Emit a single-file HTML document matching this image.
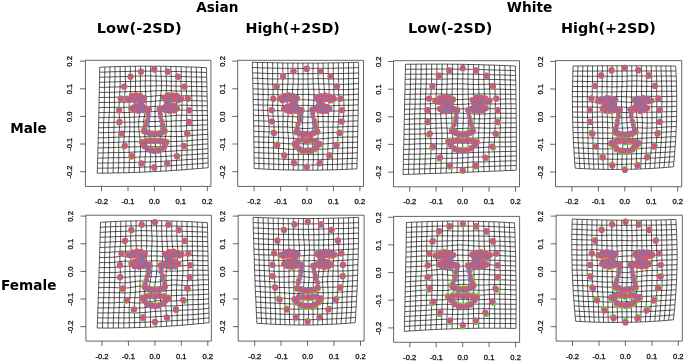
<!DOCTYPE html>
<html lang="en"><head><meta charset="utf-8"><title>Face shape TPS grids</title>
<style>html,body{margin:0;padding:0;background:#fff}svg{display:block}</style></head>
<body>
<svg width="685" height="362" viewBox="0 0 685 362">
<rect width="685" height="362" fill="#fff"/>
<text x="196.2" y="12.4" textLength="42.3" lengthAdjust="spacingAndGlyphs" font-family="'DejaVu Sans','Liberation Sans',sans-serif" font-weight="bold" font-size="14" fill="#000">Asian</text>
<text x="506.7" y="12.4" textLength="45.7" lengthAdjust="spacingAndGlyphs" font-family="'DejaVu Sans','Liberation Sans',sans-serif" font-weight="bold" font-size="14" fill="#000">White</text>
<text x="96.8" y="33" textLength="84.8" lengthAdjust="spacingAndGlyphs" font-family="'DejaVu Sans','Liberation Sans',sans-serif" font-weight="bold" font-size="14" fill="#000">Low(-2SD)</text>
<text x="245.5" y="33" textLength="94.3" lengthAdjust="spacingAndGlyphs" font-family="'DejaVu Sans','Liberation Sans',sans-serif" font-weight="bold" font-size="14" fill="#000">High(+2SD)</text>
<text x="408.1" y="33" textLength="84.3" lengthAdjust="spacingAndGlyphs" font-family="'DejaVu Sans','Liberation Sans',sans-serif" font-weight="bold" font-size="14" fill="#000">Low(-2SD)</text>
<text x="561.1" y="33" textLength="94.7" lengthAdjust="spacingAndGlyphs" font-family="'DejaVu Sans','Liberation Sans',sans-serif" font-weight="bold" font-size="14" fill="#000">High(+2SD)</text>
<text x="10.2" y="132.5" textLength="36.5" lengthAdjust="spacingAndGlyphs" font-family="'DejaVu Sans','Liberation Sans',sans-serif" font-weight="bold" font-size="14" fill="#000">Male</text>
<text x="1" y="290.4" textLength="55.4" lengthAdjust="spacingAndGlyphs" font-family="'DejaVu Sans','Liberation Sans',sans-serif" font-weight="bold" font-size="14" fill="#000">Female</text>
<g>
<path d="M99.8 67.2L99.7 72L99.6 76.8L99.5 81.7L99.4 86.5L99.3 91.3L99.2 96.1L99.1 100.9L99 105.7L98.9 110.6L98.8 115.4L98.7 120.2L98.6 125L98.5 129.8L98.3 134.7L98.2 139.5L98.1 144.3L97.9 149.1L97.8 153.9L97.6 158.7L97.5 163.6L97.4 168.4L97.2 173.2M104.9 67L104.8 71.8L104.7 76.7L104.6 81.5L104.5 86.4L104.4 91.2L104.4 96L104.4 100.8L104.3 105.6L104.2 110.4L104 115.2L103.8 120.1L103.6 124.9L103.5 129.7L103.5 134.5L103.5 139.4L103.4 144.2L103.3 149L103.1 153.8L102.9 158.7L102.7 163.5L102.6 168.3L102.5 173.2M110 66.8L109.9 71.6L109.8 76.5L109.7 81.3L109.6 86.2L109.5 91.1L109.5 96L109.5 100.8L109.5 105.6L109.4 110.3L109.1 115.1L108.9 119.9L108.7 124.7L108.6 129.6L108.7 134.4L108.7 139.2L108.7 144L108.6 148.8L108.4 153.7L108.2 158.5L108 163.4L107.9 168.3L107.8 173.1M115 66.7L115 71.5L115 76.3L114.9 81.2L114.8 86.1L114.6 91L114.5 95.9L114.5 100.7L114.4 105.5L114.4 110.3L114.3 115.1L114.1 119.8L114 124.6L113.9 129.4L113.9 134.2L113.8 139L113.8 143.8L113.7 148.7L113.6 153.6L113.4 158.5L113.3 163.3L113.2 168.2L113.1 173M120.1 66.5L120.1 71.3L120.2 76.2L120.2 81L120.1 85.9L119.9 90.8L119.6 95.7L119.3 100.6L119.1 105.5L119.2 110.4L119.3 115.2L119.5 119.8L119.5 124.5L119.4 129.1L119.2 133.9L118.9 138.7L118.7 143.6L118.7 148.6L118.7 153.5L118.7 158.4L118.7 163.3L118.5 168.1L118.3 172.9M125.2 66.4L125.2 71.2L125.3 76L125.5 80.9L125.5 85.7L125.2 90.6L124.7 95.5L124.2 100.5L123.9 105.5L124 110.4L124.3 115.2L124.7 119.9L124.9 124.4L124.8 128.9L124.4 133.6L124 138.4L123.7 143.4L123.7 148.4L123.9 153.4L124.1 158.3L124.1 163.2L123.9 168L123.6 172.8M130.3 66.3L130.3 71.1L130.4 75.9L130.6 80.7L130.6 85.6L130.4 90.5L130 95.4L129.5 100.4L129.2 105.4L129.1 110.4L129.3 115.1L129.6 119.8L129.8 124.3L129.8 128.8L129.5 133.5L129.2 138.3L129 143.2L129.1 148.3L129.2 153.3L129.4 158.2L129.3 163.1L129.2 167.9L128.9 172.6M135.4 66.3L135.4 71L135.5 75.7L135.5 80.5L135.5 85.5L135.4 90.4L135.3 95.4L135.1 100.4L134.9 105.3L134.6 110.1L134.4 114.9L134.3 119.6L134.3 124.2L134.3 128.9L134.4 133.5L134.6 138.3L134.7 143.1L134.7 148L134.7 153L134.7 158L134.5 162.9L134.4 167.7L134.2 172.5M140.4 66.2L140.5 70.9L140.5 75.6L140.4 80.4L140.3 85.3L140.4 90.4L140.6 95.4L140.7 100.3L140.6 105.1L140.2 109.8L139.5 114.5L138.9 119.3L138.6 124.1L138.8 128.9L139.3 133.7L140 138.4L140.4 143.1L140.5 147.9L140.3 152.8L139.9 157.8L139.7 162.7L139.6 167.6L139.5 172.3M145.5 66.2L145.6 70.8L145.6 75.5L145.4 80.3L145.3 85.2L145.5 90.3L145.8 95.3L146.1 100.2L146 104.9L145.5 109.6L144.7 114.3L143.9 119.1L143.5 124L143.7 128.9L144.4 133.7L145.2 138.4L145.8 143L145.9 147.8L145.6 152.6L145.2 157.6L144.9 162.5L144.8 167.4L144.8 172.1M150.6 66.2L150.7 70.9L150.7 75.5L150.7 80.3L150.7 85.1L150.7 90L150.9 94.9L151 99.9L150.8 104.7L150.4 109.5L149.8 114.3L149.3 119L149 123.8L149.2 128.7L149.7 133.5L150.3 138.3L150.7 143L150.9 147.8L150.7 152.6L150.5 157.5L150.3 162.3L150.1 167.1L150.1 171.8M155.7 66.2L155.8 71L155.9 75.7L156.1 80.3L156.2 85L156.1 89.7L155.9 94.5L155.6 99.4L155.3 104.5L155.1 109.5L155 114.3L155 119.1L155.1 123.7L155.2 128.4L155.2 133.2L155.3 138.1L155.4 143L155.6 147.9L155.7 152.7L155.7 157.4L155.7 162.1L155.5 166.8L155.3 171.6M160.8 66.3L160.8 71.1L161.1 75.8L161.4 80.4L161.5 84.9L161.4 89.5L160.9 94.2L160.3 99.1L159.9 104.2L159.9 109.3L160.3 114.3L160.7 119L161.1 123.7L161 128.3L160.7 133L160.3 137.9L160.2 142.9L160.3 147.9L160.7 152.7L161 157.3L161 161.9L160.9 166.5L160.6 171.3M165.9 66.3L165.9 71.1L166.2 75.9L166.4 80.5L166.6 85L166.4 89.5L165.9 94.1L165.4 98.9L165.1 103.8L165.2 108.9L165.6 113.9L166.1 118.8L166.4 123.6L166.4 128.3L166 133.1L165.6 138L165.4 142.9L165.5 147.7L165.8 152.4L166.1 157L166.3 161.6L166.1 166.2L165.9 171M170.9 66.4L171 71.2L171.2 75.9L171.3 80.6L171.3 85.2L171.2 89.7L171.1 94.2L170.9 98.9L170.8 103.6L170.8 108.4L171 113.4L171.2 118.4L171.3 123.5L171.3 128.4L171.2 133.3L171 138.1L171 142.8L171 147.5L171.2 152.1L171.3 156.6L171.4 161.2L171.3 165.9L171.2 170.6M176 66.5L176.1 71.3L176.2 76L176.1 80.6L176.1 85.3L176.1 89.9L176.3 94.4L176.4 98.9L176.5 103.4L176.5 108.1L176.4 113L176.2 118.1L176.1 123.3L176.1 128.5L176.3 133.4L176.5 138.2L176.6 142.7L176.6 147.2L176.6 151.7L176.5 156.2L176.5 160.9L176.5 165.6L176.5 170.3M181.1 66.7L181.2 71.4L181.2 76.1L181.1 80.7L181 85.4L181.2 90L181.5 94.5L181.8 99L182 103.4L182 108L181.7 112.8L181.3 117.9L181.1 123.1L181.2 128.3L181.5 133.3L181.8 138L182.1 142.5L182 146.9L181.9 151.3L181.7 155.9L181.6 160.5L181.7 165.2L181.8 169.9M186.2 66.8L186.2 71.6L186.2 76.2L186.2 80.9L186.2 85.5L186.4 90L186.6 94.5L186.9 99L187.1 103.6L187 108.2L186.9 112.9L186.7 117.9L186.5 122.9L186.6 127.9L186.8 132.8L187.1 137.6L187.2 142.1L187.2 146.6L187.1 151L187 155.6L186.9 160.1L187 164.8L187.1 169.5M191.3 67L191.3 71.7L191.3 76.4L191.4 81L191.5 85.5L191.6 90L191.7 94.5L191.9 99.1L191.9 103.7L192 108.4L192 113.2L192.1 117.9L192.1 122.7L192.1 127.5L192.2 132.3L192.2 137L192.2 141.7L192.2 146.2L192.2 150.8L192.2 155.3L192.2 159.8L192.3 164.4L192.3 169.1M196.3 67.2L196.4 71.9L196.4 76.5L196.6 81.1L196.7 85.6L196.8 90.1L196.8 94.6L196.9 99.2L196.9 103.9L197 108.6L197.2 113.3L197.3 117.9L197.5 122.6L197.5 127.2L197.4 131.9L197.4 136.6L197.3 141.2L197.4 145.8L197.4 150.4L197.5 154.9L197.5 159.4L197.6 164L197.6 168.7M201.4 67.4L201.5 72.1L201.6 76.6L201.7 81.2L201.8 85.8L201.9 90.3L201.9 94.8L202 99.4L202.1 104L202.2 108.6L202.3 113.2L202.5 117.8L202.6 122.4L202.6 127L202.6 131.6L202.6 136.2L202.6 140.8L202.6 145.4L202.7 149.9L202.8 154.5L202.8 159L202.9 163.6L202.9 168.2M206.5 67.7L206.6 72.2L206.7 76.8L206.8 81.3L206.9 85.9L207 90.4L207.1 95L207.2 99.5L207.3 104.1L207.3 108.6L207.4 113.2L207.5 117.7L207.6 122.2L207.6 126.8L207.7 131.3L207.8 135.9L207.9 140.4L207.9 145L208 149.5L208 154.1L208.1 158.6L208.1 163.2L208.2 167.7M99.8 67.2L104.6 67L109.5 66.8L114.3 66.7L119.2 66.5L124.1 66.4L128.9 66.3L133.8 66.3L138.6 66.2L143.4 66.2L148.3 66.2L153.2 66.2L158 66.2L162.8 66.3L167.7 66.4L172.6 66.5L177.4 66.6L182.2 66.7L187.1 66.9L191.9 67L196.8 67.2L201.7 67.5L206.5 67.7M99.7 72.2L104.6 72.1L109.5 71.9L114.3 71.7L119.2 71.6L124.1 71.5L128.9 71.4L133.8 71.2L138.7 71.1L143.6 71.1L148.4 71.1L153.2 71.1L158.1 71.2L162.9 71.3L167.8 71.4L172.7 71.5L177.5 71.5L182.3 71.7L187.1 71.8L192 72L196.8 72.1L201.7 72.3L206.6 72.5M99.6 77.3L104.5 77.1L109.4 77L114.3 76.8L119.2 76.7L124.2 76.5L129.1 76.4L133.9 76.2L138.7 76.1L143.5 76L148.4 75.9L153.3 76L158.3 76.2L163.2 76.3L168 76.3L172.8 76.4L177.5 76.4L182.3 76.6L187.1 76.7L192 76.9L196.9 77L201.8 77.1L206.7 77.2M99.5 82.3L104.4 82.2L109.2 82L114.2 81.9L119.2 81.7L124.3 81.6L129.2 81.5L133.9 81.3L138.6 81.1L143.3 81L148.2 80.9L153.4 80.9L158.5 81L163.5 81.1L168.2 81.2L172.8 81.3L177.5 81.3L182.2 81.4L187.1 81.6L192.1 81.7L197 81.8L201.9 81.9L206.8 82M99.4 87.4L104.3 87.3L109.1 87.2L114 87L119.1 86.9L124.2 86.7L129.2 86.5L133.9 86.4L138.5 86.3L143.2 86.2L148.2 86.1L153.4 85.9L158.6 85.8L163.6 85.8L168.3 85.9L172.8 86.1L177.4 86.2L182.2 86.3L187.2 86.3L192.2 86.4L197.2 86.5L202 86.6L206.9 86.7M99.3 92.4L104.2 92.4L109 92.3L113.9 92.2L118.9 92L123.9 91.8L128.9 91.6L133.8 91.6L138.6 91.6L143.4 91.5L148.4 91.3L153.4 91L158.4 90.7L163.3 90.6L168.1 90.6L172.8 90.8L177.5 91L182.4 91.1L187.4 91.1L192.4 91.1L197.3 91.2L202.1 91.4L207 91.5M99.2 97.5L104.2 97.4L109 97.4L113.8 97.3L118.6 97.1L123.4 97L128.4 96.8L133.5 96.8L138.7 96.8L143.8 96.8L148.7 96.5L153.4 96.1L158 95.7L162.8 95.5L167.7 95.5L172.7 95.6L177.7 95.8L182.7 95.8L187.6 95.8L192.5 95.8L197.3 95.9L202.2 96.1L207.1 96.3M99.1 102.5L104.1 102.4L109.1 102.4L113.8 102.4L118.4 102.3L123 102.2L127.9 102.1L133.2 102L138.7 102L144 101.9L148.8 101.6L153.2 101.3L157.6 100.9L162.2 100.6L167.3 100.5L172.6 100.4L178 100.4L183.1 100.5L187.9 100.5L192.6 100.6L197.4 100.8L202.3 100.9L207.2 101M99 107.6L104 107.5L109 107.4L113.8 107.4L118.3 107.4L122.8 107.4L127.6 107.3L132.9 107.2L138.4 107L143.8 106.8L148.6 106.6L153 106.5L157.3 106.3L161.9 106L167.1 105.6L172.6 105.3L178.1 105.2L183.2 105.2L188 105.3L192.6 105.5L197.4 105.7L202.3 105.7L207.3 105.8M98.9 112.6L103.8 112.5L108.8 112.4L113.6 112.4L118.3 112.4L123 112.5L127.8 112.5L132.8 112.2L138 111.9L143.1 111.6L147.9 111.5L152.6 111.6L157.3 111.5L162.2 111.3L167.3 110.9L172.7 110.4L178 110.1L183 110.1L187.9 110.2L192.7 110.5L197.6 110.6L202.5 110.6L207.4 110.6M98.8 117.7L103.7 117.5L108.6 117.4L113.5 117.3L118.5 117.4L123.4 117.5L128.1 117.4L132.8 117.2L137.4 116.9L142.2 116.6L147.1 116.5L152.3 116.6L157.5 116.6L162.7 116.5L167.8 116.1L172.8 115.7L177.7 115.3L182.7 115.2L187.7 115.3L192.8 115.4L197.7 115.5L202.6 115.4L207.5 115.3M98.6 122.7L103.5 122.6L108.3 122.5L113.3 122.3L118.5 122.3L123.7 122.2L128.5 122.2L132.9 122.1L137 121.9L141.5 121.7L146.5 121.6L152.1 121.5L157.8 121.5L163.2 121.4L168.2 121.3L172.8 121L177.5 120.7L182.4 120.6L187.6 120.5L192.8 120.5L197.9 120.4L202.8 120.2L207.5 120.1M98.5 127.8L103.3 127.7L108.2 127.5L113.2 127.4L118.5 127.2L123.7 127L128.5 126.9L132.9 126.9L137 126.9L141.4 126.8L146.5 126.7L152.1 126.5L157.9 126.3L163.4 126.3L168.3 126.3L172.8 126.3L177.4 126.2L182.3 126L187.6 125.7L192.9 125.5L198 125.2L202.8 125L207.6 124.8M98.4 132.8L103.3 132.7L108.2 132.6L113.2 132.4L118.3 132.1L123.4 131.8L128.3 131.7L132.9 131.7L137.4 131.8L142 131.9L147 131.8L152.3 131.5L157.8 131.3L163.1 131.2L168 131.4L172.8 131.5L177.6 131.6L182.6 131.3L187.7 130.9L192.9 130.4L197.9 130.1L202.9 129.8L207.7 129.6M98.2 137.9L103.2 137.8L108.2 137.6L113.1 137.4L118 137.2L122.9 136.9L127.9 136.7L132.9 136.7L137.9 136.8L142.8 136.8L147.8 136.7L152.7 136.5L157.6 136.3L162.6 136.3L167.7 136.4L172.8 136.6L177.9 136.6L182.9 136.4L187.9 135.9L192.9 135.4L197.9 135L202.8 134.6L207.8 134.4M98.1 142.9L103.2 142.8L108.2 142.7L113.1 142.5L117.8 142.3L122.6 142L127.6 141.8L132.8 141.7L138.3 141.7L143.5 141.7L148.4 141.7L153 141.6L157.5 141.5L162.3 141.5L167.4 141.5L172.8 141.5L178.1 141.4L183.2 141.1L188.1 140.8L192.9 140.3L197.8 139.9L202.8 139.5L207.8 139.1M98 148L103 147.8L108.1 147.7L113 147.6L117.8 147.4L122.5 147.3L127.5 147.1L132.9 146.9L138.4 146.7L143.8 146.7L148.7 146.7L153.2 146.7L157.6 146.7L162.3 146.7L167.4 146.5L172.8 146.3L178.1 146L183.3 145.8L188.1 145.5L192.9 145.1L197.8 144.7L202.8 144.3L207.9 143.9M97.8 153L102.9 152.9L107.9 152.8L112.9 152.6L117.8 152.6L122.7 152.5L127.7 152.4L133 152.1L138.3 151.9L143.5 151.7L148.5 151.7L153.2 151.8L157.9 151.8L162.7 151.7L167.7 151.4L172.9 151.1L178.1 150.7L183.1 150.4L188 150.1L192.9 149.9L197.9 149.5L202.9 149.1L208 148.7M97.7 158.1L102.7 158L107.7 157.9L112.7 157.8L117.8 157.7L122.8 157.6L127.9 157.5L133 157.4L138 157.1L143.1 156.9L148.1 156.8L153.1 156.8L158.1 156.7L163.1 156.5L168 156.2L172.9 155.8L177.9 155.5L182.9 155.1L187.9 154.9L192.9 154.6L198 154.2L203 153.8L208 153.4M97.5 163.1L102.5 163L107.5 163L112.6 162.9L117.7 162.8L122.9 162.7L127.9 162.6L132.9 162.5L137.8 162.3L142.8 162.1L147.8 162L153 161.8L158.1 161.6L163.2 161.3L168.1 161L173 160.7L177.9 160.3L182.8 160L187.9 159.6L193 159.3L198 159L203.1 158.6L208.1 158.2M97.4 168.2L102.4 168.1L107.4 168.1L112.5 168L117.6 167.9L122.7 167.8L127.7 167.7L132.7 167.5L137.7 167.4L142.6 167.2L147.7 167L152.8 166.7L158 166.5L163 166.2L168 165.9L173 165.6L177.9 165.2L182.9 164.9L187.9 164.5L193 164.1L198.1 163.8L203.1 163.4L208.1 162.9M97.2 173.2L102.2 173.2L107.3 173.1L112.3 173L117.4 172.9L122.4 172.8L127.5 172.7L132.5 172.5L137.6 172.4L142.6 172.2L147.7 171.9L152.7 171.7L157.7 171.4L162.8 171.2L167.8 170.9L172.9 170.5L177.9 170.2L183 169.8L188 169.4L193.1 169L198.1 168.6L203.2 168.2L208.2 167.7" fill="none" stroke="#000" stroke-width="0.65"/>
<path d="M85.4 60.3H210.9V186.4H85.4ZM101.5 186.4v4.8M85.4 61.1h-5.4M128 186.4v4.8M85.4 88.8h-5.4M154.4 186.4v4.8M85.4 116.4h-5.4M180.8 186.4v4.8M85.4 144h-5.4M207.3 186.4v4.8M85.4 171.7h-5.4" fill="none" stroke="#333" stroke-width="0.75"/>
<text x="101.5" y="204" font-family="'Liberation Sans',sans-serif" font-size="7.6" fill="#111" stroke="#111" stroke-width="0.3" text-anchor="middle">-0.2</text>
<text transform="translate(72.4 61.4) rotate(-90)" font-family="'Liberation Sans',sans-serif" font-size="7.6" fill="#111" stroke="#111" stroke-width="0.3" text-anchor="middle">0.2</text>
<text x="128" y="204" font-family="'Liberation Sans',sans-serif" font-size="7.6" fill="#111" stroke="#111" stroke-width="0.3" text-anchor="middle">-0.1</text>
<text transform="translate(72.4 89) rotate(-90)" font-family="'Liberation Sans',sans-serif" font-size="7.6" fill="#111" stroke="#111" stroke-width="0.3" text-anchor="middle">0.1</text>
<text x="154.4" y="204" font-family="'Liberation Sans',sans-serif" font-size="7.6" fill="#111" stroke="#111" stroke-width="0.3" text-anchor="middle">0.0</text>
<text transform="translate(72.4 116.7) rotate(-90)" font-family="'Liberation Sans',sans-serif" font-size="7.6" fill="#111" stroke="#111" stroke-width="0.3" text-anchor="middle">0.0</text>
<text x="180.8" y="204" font-family="'Liberation Sans',sans-serif" font-size="7.6" fill="#111" stroke="#111" stroke-width="0.3" text-anchor="middle">0.1</text>
<text transform="translate(72.4 144.3) rotate(-90)" font-family="'Liberation Sans',sans-serif" font-size="7.6" fill="#111" stroke="#111" stroke-width="0.3" text-anchor="middle">-0.1</text>
<text x="207.3" y="204" font-family="'Liberation Sans',sans-serif" font-size="7.6" fill="#111" stroke="#111" stroke-width="0.3" text-anchor="middle">0.2</text>
<text transform="translate(72.4 172) rotate(-90)" font-family="'Liberation Sans',sans-serif" font-size="7.6" fill="#111" stroke="#111" stroke-width="0.3" text-anchor="middle">-0.2</text>
<g fill="#61D04F"><circle cx="154.3" cy="69.8" r="2.9"/><circle cx="140.9" cy="72.1" r="2.9"/><circle cx="167.7" cy="72.1" r="2.9"/><circle cx="130.4" cy="77.1" r="2.9"/><circle cx="178.2" cy="77.1" r="2.9"/><circle cx="123.9" cy="87" r="2.9"/><circle cx="184.7" cy="87" r="2.9"/><circle cx="120.6" cy="99" r="2.9"/><circle cx="188" cy="99" r="2.9"/><circle cx="119" cy="110.6" r="2.9"/><circle cx="189.6" cy="110.6" r="2.9"/><circle cx="119" cy="122.4" r="2.9"/><circle cx="189.6" cy="122.4" r="2.9"/><circle cx="120.7" cy="134.3" r="2.9"/><circle cx="187.9" cy="134.3" r="2.9"/><circle cx="124" cy="146.8" r="2.9"/><circle cx="184.6" cy="146.8" r="2.9"/><circle cx="131.2" cy="157" r="2.9"/><circle cx="177.4" cy="157" r="2.9"/><circle cx="141.2" cy="164.3" r="2.9"/><circle cx="167.4" cy="164.3" r="2.9"/><circle cx="154.3" cy="168.3" r="2.9"/><circle cx="126.9" cy="98.5" r="2.9"/><circle cx="181.5" cy="98.5" r="2.9"/><circle cx="131.6" cy="95.5" r="2.9"/><circle cx="176.9" cy="95.7" r="2.9"/><circle cx="136.2" cy="95.2" r="2.9"/><circle cx="173.2" cy="95.4" r="2.9"/><circle cx="139.8" cy="95.3" r="2.9"/><circle cx="167.8" cy="95" r="2.9"/><circle cx="144.1" cy="97.6" r="2.9"/><circle cx="164.3" cy="97.5" r="2.9"/><circle cx="129.5" cy="99.3" r="2.9"/><circle cx="178.4" cy="99.8" r="2.9"/><circle cx="134.3" cy="99.5" r="2.9"/><circle cx="174.3" cy="99.4" r="2.9"/><circle cx="138.8" cy="99.5" r="2.9"/><circle cx="170" cy="98.7" r="2.9"/><circle cx="142.5" cy="100.4" r="2.9"/><circle cx="166.4" cy="100" r="2.9"/><circle cx="141.3" cy="102.8" r="2.9"/><circle cx="167.6" cy="102.8" r="2.9"/><circle cx="131.1" cy="108.5" r="2.9"/><circle cx="177.2" cy="108.2" r="2.9"/><circle cx="134.8" cy="106.1" r="2.9"/><circle cx="173.6" cy="105.4" r="2.9"/><circle cx="138.7" cy="105.4" r="2.9"/><circle cx="169.5" cy="104.8" r="2.9"/><circle cx="142.2" cy="106.3" r="2.9"/><circle cx="166" cy="106.3" r="2.9"/><circle cx="134.2" cy="110.1" r="2.9"/><circle cx="174.1" cy="110.2" r="2.9"/><circle cx="138.3" cy="110.5" r="2.9"/><circle cx="170.1" cy="110.7" r="2.9"/><circle cx="142.8" cy="110.1" r="2.9"/><circle cx="166.2" cy="110" r="2.9"/><circle cx="138.8" cy="107.5" r="2.9"/><circle cx="169.7" cy="108.2" r="2.9"/><circle cx="146.2" cy="108.4" r="2.9"/><circle cx="163" cy="108.6" r="2.9"/><circle cx="148.8" cy="109.1" r="2.9"/><circle cx="159.4" cy="109.2" r="2.9"/><circle cx="147.6" cy="113.6" r="2.3"/><circle cx="160.4" cy="112.9" r="2.3"/><circle cx="147.4" cy="116.8" r="2.3"/><circle cx="161.1" cy="116.4" r="2.3"/><circle cx="146.4" cy="121.2" r="2.3"/><circle cx="162" cy="120.9" r="2.3"/><circle cx="145.2" cy="124.2" r="2.3"/><circle cx="163.2" cy="124.3" r="2.3"/><circle cx="143.8" cy="127.5" r="2.3"/><circle cx="164.6" cy="127.9" r="2.3"/><circle cx="143.5" cy="130.6" r="2.9"/><circle cx="165" cy="130.7" r="2.9"/><circle cx="146.5" cy="132" r="2.9"/><circle cx="161.5" cy="132.4" r="2.9"/><circle cx="150.3" cy="133" r="2.9"/><circle cx="158.2" cy="133.4" r="2.9"/><circle cx="153.9" cy="133.3" r="2.9"/><circle cx="141.5" cy="141.6" r="2.9"/><circle cx="166.5" cy="141.6" r="2.9"/><circle cx="146.2" cy="140.4" r="2.9"/><circle cx="162.4" cy="140.5" r="2.9"/><circle cx="150.1" cy="140" r="2.9"/><circle cx="158.7" cy="140.3" r="2.9"/><circle cx="153.9" cy="140.2" r="2.9"/><circle cx="144.2" cy="145.5" r="2.9"/><circle cx="164.7" cy="145.5" r="2.9"/><circle cx="147" cy="147.8" r="2.9"/><circle cx="161.7" cy="148.4" r="2.9"/><circle cx="150.9" cy="149.4" r="2.9"/><circle cx="158.2" cy="149.2" r="2.9"/><circle cx="154.5" cy="149.9" r="2.9"/></g>
<g fill="#DF536B"><circle cx="154.3" cy="69.3" r="3.1"/><circle cx="141" cy="71.6" r="3.1"/><circle cx="167.6" cy="71.6" r="3.1"/><circle cx="130.6" cy="76.6" r="3.1"/><circle cx="178" cy="76.6" r="3.1"/><circle cx="124.2" cy="86.5" r="3.1"/><circle cx="184.4" cy="86.5" r="3.1"/><circle cx="120.8" cy="98.7" r="3.1"/><circle cx="187.8" cy="98.7" r="3.1"/><circle cx="119.2" cy="110.3" r="3.1"/><circle cx="189.4" cy="110.3" r="3.1"/><circle cx="119.5" cy="121.9" r="3.1"/><circle cx="189.1" cy="121.9" r="3.1"/><circle cx="121.5" cy="133.5" r="3.1"/><circle cx="187.1" cy="133.5" r="3.1"/><circle cx="124.8" cy="145.8" r="3.1"/><circle cx="183.8" cy="145.8" r="3.1"/><circle cx="131.8" cy="156" r="3.1"/><circle cx="176.8" cy="156" r="3.1"/><circle cx="141.5" cy="163.3" r="3.1"/><circle cx="167.1" cy="163.3" r="3.1"/><circle cx="154.3" cy="167.3" r="3.1"/><circle cx="127.4" cy="98.9" r="3.0"/><circle cx="181.3" cy="98.9" r="3.0"/><circle cx="132" cy="96" r="3.0"/><circle cx="177" cy="96" r="3.0"/><circle cx="136.4" cy="95.4" r="3.0"/><circle cx="172.8" cy="95.5" r="3.0"/><circle cx="140.2" cy="95.9" r="3.0"/><circle cx="168" cy="95.5" r="3.0"/><circle cx="144.2" cy="98.1" r="3.0"/><circle cx="164" cy="97.5" r="3.0"/><circle cx="129.8" cy="99.7" r="3.0"/><circle cx="178.2" cy="100.3" r="3.0"/><circle cx="134.3" cy="99.6" r="3.0"/><circle cx="174.1" cy="99.5" r="3.0"/><circle cx="138.7" cy="99.6" r="3.0"/><circle cx="169.9" cy="99.3" r="3.0"/><circle cx="142.3" cy="100.7" r="3.0"/><circle cx="166.4" cy="100.5" r="3.0"/><circle cx="141.2" cy="103.1" r="3.0"/><circle cx="167.2" cy="102.9" r="3.0"/><circle cx="131.5" cy="108.6" r="3.0"/><circle cx="176.8" cy="108.7" r="3.0"/><circle cx="135.2" cy="106.2" r="3.0"/><circle cx="173.6" cy="106" r="3.0"/><circle cx="138.9" cy="105.5" r="3.0"/><circle cx="169.5" cy="105.1" r="3.0"/><circle cx="142.4" cy="106.6" r="3.0"/><circle cx="165.8" cy="106.6" r="3.0"/><circle cx="134.7" cy="110.2" r="3.0"/><circle cx="174.1" cy="110.4" r="3.0"/><circle cx="138.6" cy="110.9" r="3.0"/><circle cx="169.7" cy="111.1" r="3.0"/><circle cx="142.9" cy="110.3" r="3.0"/><circle cx="165.8" cy="110.5" r="3.0"/><circle cx="139.1" cy="107.8" r="3.0"/><circle cx="169.4" cy="108.2" r="3.0"/><circle cx="146" cy="108.5" r="3.0"/><circle cx="162.6" cy="108.7" r="3.0"/><circle cx="149" cy="109.5" r="3.0"/><circle cx="159.6" cy="109.6" r="3.0"/><circle cx="147.9" cy="113.5" r="2.4"/><circle cx="160.1" cy="113.4" r="2.4"/><circle cx="148" cy="116.8" r="2.4"/><circle cx="160.5" cy="116.7" r="2.4"/><circle cx="147.2" cy="121.2" r="2.4"/><circle cx="161.5" cy="120.9" r="2.4"/><circle cx="146" cy="124.6" r="2.4"/><circle cx="162.5" cy="124.7" r="2.4"/><circle cx="144.6" cy="128.1" r="2.4"/><circle cx="163.7" cy="128.4" r="2.4"/><circle cx="144.1" cy="131.4" r="3.0"/><circle cx="164.4" cy="131.4" r="3.0"/><circle cx="147.1" cy="132.6" r="3.0"/><circle cx="160.9" cy="133.1" r="3.0"/><circle cx="150.7" cy="133.9" r="3.0"/><circle cx="158.1" cy="133.9" r="3.0"/><circle cx="154" cy="134.1" r="3.0"/><circle cx="142" cy="142.6" r="3.0"/><circle cx="166.2" cy="142.6" r="3.0"/><circle cx="146.4" cy="141.5" r="3.0"/><circle cx="162.5" cy="141.3" r="3.0"/><circle cx="150.4" cy="141" r="3.0"/><circle cx="158.5" cy="141" r="3.0"/><circle cx="154.1" cy="141.3" r="3.0"/><circle cx="144.4" cy="146.3" r="3.0"/><circle cx="164.5" cy="146.4" r="3.0"/><circle cx="147.4" cy="148.8" r="3.0"/><circle cx="161.6" cy="149.3" r="3.0"/><circle cx="150.8" cy="150.6" r="3.0"/><circle cx="158.1" cy="150.4" r="3.0"/><circle cx="154.4" cy="150.9" r="3.0"/></g>
<path d="M154.3 69.9l-1.6 -3.4M154.3 69.9l0.6 -3.7M140.9 72.2l0.2 -3.8M140.9 72.2l2.3 -3M167.7 72.2l-2 -3.3M167.7 72.2l0.2 -3.9M130.4 77.2l0 -3.3M130.4 77.2l1.9 -2.7M178.2 77.2l-3.1 -2.2M178.2 77.2l-1.3 -3.6M123.9 87l0.8 -3.7M123.9 87l2.8 -2.6M184.7 87l-2 -2.7M184.7 87l-0.1 -3.3M120.5 99.2l1.6 -3.9M120.5 99.2l3.5 -2.3M188.1 99.2l-3.1 -2.3M188.1 99.2l-1.3 -3.7M118.9 110.8l0.4 -3.1M118.9 110.8l2.1 -2.4M189.7 110.8l-3.1 -2.3M189.7 110.8l-1.3 -3.6M119.1 122.3l1.6 -3.1M119.1 122.3l3 -1.7M189.5 122.3l-3.9 -1.8M189.5 122.3l-2.2 -3.7M121.1 133.9l1.7 -3.3M121.1 133.9l3.3 -1.8M187.5 133.9l-2.5 -2M187.5 133.9l-0.9 -3.1M124.4 146.3l1.1 -3.6M124.4 146.3l2.9 -2.4M184.2 146.3l-3.5 -1.6M184.2 146.3l-2 -3.3M131.5 156.5l1 -3.7M131.5 156.5l2.9 -2.5M177.1 156.5l-1.8 -2.7M177.1 156.5l-0 -3.2M141.3 163.9l0.7 -3.5M141.3 163.9l2.5 -2.5M167.3 163.9l-1.3 -3.4M167.3 163.9l0.8 -3.6M154.3 167.9l-0.4 -3.5M154.3 167.9l1.6 -3.1M126.9 98.5l3.2 0.7M126.9 98.5l2.3 2.4M181.5 98.3l-0.1 3.2M181.5 98.3l-1.8 2.6M131.6 95.5l3.5 1.7M131.6 95.5l1.9 3.3M176.8 95.4l1.9 3M176.8 95.4l-0.1 3.5M136.1 95l2.6 2.4M136.1 95l0.8 3.5M173.4 95.3l-2.7 1.9M173.4 95.3l-3.3 0.1M139.9 95.4l3.3 2.2M139.9 95.4l1.5 3.7M167.8 94.9l2.7 2.8M167.8 94.9l0.7 3.8M144.1 97.5l1.7 3.3M144.1 97.5l-0.4 3.6M164.6 97.5l-3.3 1.1M164.6 97.5l-3.3 -0.9M129.4 99.2l2.4 2.4M129.4 99.2l0.6 3.3M178.4 99.8l-0.6 3.8M178.4 99.8l-2.6 2.8M134.4 99l1.1 3.4M134.4 99l-1 3.4M174.6 99.2l-2 2.7M174.6 99.2l-3.2 1.1M139 99.1l-1.1 3.5M139 99.1l-2.8 2.3M170 98.7l1.4 3.4M170 98.7l-0.7 3.6M142.6 100.2l-1.3 3.4M142.6 100.2l-3 2M166.4 99.9l1.9 3.3M166.4 99.9l-0.2 3.8M141.3 102.5l-0.1 3.4M141.3 102.5l-1.9 2.8M167.8 102.7l-3.2 2.2M167.8 102.7l-3.9 0M130.9 108.4l2.7 0.5M130.9 108.4l2 1.9M177.2 108.2l-0.4 3.4M177.2 108.2l-2.2 2.5M134.6 106.1l2.7 -0M134.6 106.1l2.2 1.5M173.6 105.4l0.4 3.4M173.6 105.4l-1.6 3M138.4 105.3l3 0.6M138.4 105.3l2.1 2.2M169.5 104.5l1.5 3.3M169.5 104.5l-0.6 3.5M142.1 106.1l2.4 2.1M142.1 106.1l0.9 3.1M166.1 106l-0.3 3.8M166.1 106l-2.4 3M134.1 110l4 -0.4M134.1 110l3.6 2M174.2 109.9l-0.2 3.3M174.2 109.9l-2 2.7M138.3 110.5l2.3 2.3M138.3 110.5l0.6 3.2M170.2 110.7l-2.1 3M170.2 110.7l-3.4 1.3M142.6 109.8l2.4 2.2M142.6 109.8l0.7 3.2M166.2 110l-1.6 2.9M166.2 110l-3 1.6M138.7 107.5l4 1.4M138.7 107.5l2.5 3.4M170 108.1l-2.6 1.3M170 108.1l-2.9 -0.3M146.6 108.4l-2.8 1M146.6 108.4l-2.9 -0.7M163.2 108.5l-2.4 1.7M163.2 108.5l-2.9 0.1M148.7 109l2.3 2.8M148.7 109l0.3 3.6M159.3 109l2.4 2.4M159.3 109l0.6 3.3M147.3 113.6l3.9 -1.5M147.3 113.6l4.1 0.9M160.4 112.9l-0.8 3.1M160.4 112.9l-2.4 2.1M147.4 116.8l3.2 -1.1M147.4 116.8l3.3 0.8M161 116.4l-1.9 1.9M161 116.4l-2.6 0.6M146.6 121.2l4 -1.3M146.6 121.2l4.1 1.2M162.1 120.9l-2.9 1.1M162.1 120.9l-3 -0.7M145.5 124.3l4.2 0.7M145.5 124.3l3.1 3M163 124.4l-2.5 2.6M163 124.4l-3.5 0.8M144.1 127.7l3 1.1M144.1 127.7l1.9 2.5M164.2 128.1l-3 2.7M164.2 128.1l-4 0.5M143.7 130.9l2.4 1.9M143.7 130.9l0.9 2.9M164.8 131l-1.3 3.2M164.8 131l-2.9 2M146.7 132.2l3.5 1.9M146.7 132.2l1.9 3.5M161.3 132.7l-0.9 3.3M161.3 132.7l-2.6 2.2M150.4 133.3l2.6 2.2M150.4 133.3l1 3.3M158.2 133.3l1.2 3.4M158.2 133.3l-0.9 3.5M153.9 133.5l1.6 3.2M153.9 133.5l-0.5 3.5M141.7 142.1l3.2 2.7M141.7 142.1l1.1 4M166.3 142l-0.4 3.5M166.3 142l-2.3 2.7M146.3 140.9l0.9 3.6M146.3 140.9l-1.2 3.5M162.4 140.7l0.8 3.3M162.4 140.7l-1.2 3.2M150.3 140.4l1.9 2.7M150.3 140.4l0 3.3M158.6 140.4l0.1 3.4M158.6 140.4l-1.8 2.9M154 140.7l2.3 2.6M154 140.7l0.4 3.5M144.3 145.7l1.6 3.5M144.3 145.7l-0.6 3.8M164.6 145.8l0.1 3.9M164.6 145.8l-2.1 3.2M147.1 148.3l1.8 3.1M147.1 148.3l-0.2 3.6M161.7 148.7l0.5 3.3M161.7 148.7l-1.4 3.1M150.8 150l1.6 3.3M150.8 150l-0.5 3.7M158.2 149.8l1.5 3.4M158.2 149.8l-0.6 3.6M154.5 150.3l0.7 3.5M154.5 150.3l-1.4 3.2" fill="none" stroke="#2297E6" stroke-width="0.58" stroke-linecap="round" opacity="0.95"/>
</g>
<g>
<path d="M252.3 62.2L252.4 67L252.6 71.9L252.7 76.7L252.8 81.5L252.9 86.4L253 91.2L253.1 96L253.2 100.9L253.3 105.7L253.4 110.5L253.5 115.3L253.6 120.2L253.7 125L253.7 129.8L253.8 134.7L253.8 139.5L253.9 144.3L254 149.2L254 154L254 158.8L254.1 163.7L254.1 168.5M257.4 62.4L257.5 67.2L257.6 72.1L257.7 76.9L257.8 81.7L257.9 86.6L258 91.4L258.1 96.3L258.2 101.1L258.3 105.9L258.5 110.7L258.6 115.5L258.7 120.3L258.7 125.2L258.8 130L258.8 134.9L258.8 139.7L258.8 144.6L258.9 149.4L258.9 154.2L258.9 159.1L259 163.9L259 168.8M262.4 62.5L262.6 67.4L262.7 72.3L262.7 77.1L262.8 81.9L262.9 86.8L263.1 91.6L263.1 96.4L263.1 101.3L263.1 106L263.2 110.8L263.5 115.6L263.8 120.5L264 125.4L263.9 130.3L263.8 135.1L263.7 139.9L263.7 144.7L263.7 149.6L263.8 154.4L263.8 159.3L263.9 164.2L263.9 169.1M267.5 62.6L267.6 67.5L267.6 72.4L267.7 77.3L267.8 82.2L268 87L268.2 91.7L268.2 96.5L267.9 101.3L267.7 106.1L267.8 111L268.2 115.9L268.7 120.8L269.1 125.7L269.1 130.5L268.8 135.3L268.6 140L268.5 144.8L268.6 149.7L268.7 154.6L268.8 159.6L268.8 164.5L268.8 169.3M272.6 62.7L272.7 67.7L272.7 72.6L272.6 77.5L272.7 82.3L272.9 87.1L273.1 91.8L273.1 96.5L272.8 101.3L272.6 106.1L272.6 111.1L273.1 116.1L273.6 121.1L274 125.9L274 130.7L273.7 135.4L273.5 140.2L273.4 145L273.5 149.9L273.7 154.8L273.7 159.8L273.7 164.7L273.7 169.5M277.6 62.8L277.7 67.7L277.7 72.6L277.7 77.5L277.7 82.3L277.7 87.1L277.8 91.9L277.8 96.6L277.8 101.4L277.7 106.3L277.8 111.3L278.1 116.2L278.3 121.1L278.5 126L278.6 130.8L278.5 135.6L278.4 140.5L278.4 145.4L278.5 150.2L278.6 155.1L278.7 159.9L278.7 164.8L278.6 169.7M282.7 62.9L282.8 67.8L282.9 72.6L282.8 77.4L282.7 82.3L282.6 87.1L282.4 92L282.4 96.8L282.7 101.7L283 106.6L283.1 111.5L283.1 116.3L283 121.1L282.9 125.9L283.1 130.8L283.3 135.8L283.5 140.9L283.5 145.9L283.5 150.7L283.5 155.4L283.6 160.1L283.6 164.9L283.5 169.9M287.8 63L287.8 67.8L288 72.6L288.1 77.3L288 82.2L287.6 87.1L287.2 92L287.2 97L287.6 101.9L288 106.8L288.2 111.6L288 116.4L287.6 121.1L287.5 126L287.8 131L288.3 136.1L288.6 141.3L288.7 146.3L288.5 151L288.4 155.6L288.4 160.3L288.5 165L288.4 170M292.8 63L292.9 67.8L293.1 72.6L293.2 77.4L293.2 82.2L292.8 87.1L292.4 92L292.3 96.8L292.5 101.8L292.9 106.7L293 111.7L292.8 116.6L292.4 121.5L292.3 126.4L292.7 131.3L293.3 136.4L293.8 141.4L293.8 146.4L293.5 151.2L293.3 155.8L293.3 160.4L293.3 165.2L293.3 170.1M297.9 63.1L297.9 67.9L298.1 72.7L298.3 77.5L298.3 82.3L298 87L297.7 91.8L297.6 96.6L297.7 101.4L297.9 106.5L297.9 111.7L297.7 116.9L297.4 122L297.4 127L297.7 131.8L298.2 136.7L298.6 141.5L298.7 146.3L298.5 151.1L298.3 155.8L298.2 160.6L298.2 165.3L298.2 170.1M302.9 63.1L303 67.9L303.1 72.7L303.1 77.6L303.1 82.3L303.1 87L303.1 91.6L303.1 96.3L303.1 101.2L303 106.3L302.9 111.7L302.8 117L302.6 122.4L302.6 127.4L302.6 132.3L302.9 136.9L303.2 141.5L303.4 146.1L303.5 150.9L303.4 155.8L303.3 160.7L303.1 165.5L303.1 170.2M308 63.1L308.1 67.9L308.1 72.7L308 77.5L308 82.3L308.2 86.9L308.5 91.6L308.6 96.4L308.5 101.4L308.2 106.4L308 111.7L308 117L307.9 122.3L307.8 127.5L307.7 132.4L307.6 137L307.7 141.6L308.1 146.2L308.4 150.9L308.5 155.8L308.3 160.7L308.1 165.5L307.9 170.2M313.1 63.1L313.1 67.9L313 72.6L313 77.4L313.1 82.1L313.4 86.9L313.9 91.8L314 96.8L313.8 101.8L313.4 106.8L313.1 111.7L313.1 116.7L313.1 121.9L313.1 127.1L312.8 132.2L312.6 137L312.6 141.7L312.9 146.4L313.3 151.1L313.4 155.8L313.3 160.7L313 165.4L312.8 170.2M318.1 63.1L318.1 67.8L318.1 72.6L318.1 77.2L318.4 82L318.8 86.8L319.2 91.9L319.3 97.1L319 102.2L318.4 107.1L318.1 111.8L318 116.5L318.2 121.4L318.3 126.6L318.1 131.8L317.9 136.9L317.8 141.8L317.9 146.5L318.1 151.2L318.2 155.8L318.1 160.6L317.9 165.3L317.7 170.1M323.2 63L323.1 67.8L323.1 72.5L323.3 77.2L323.7 82L324.1 86.9L324.4 92L324.3 97.2L324 102.3L323.5 107.1L323.2 111.8L323 116.4L323.1 121.2L323.3 126.2L323.4 131.4L323.2 136.6L323.1 141.6L322.9 146.4L322.9 151.1L322.9 155.7L322.8 160.4L322.7 165.2L322.6 170.1M328.3 63L328.2 67.8L328.2 72.6L328.5 77.3L328.8 82.1L329.1 87L329.2 92L329.1 97L329 102L328.7 106.9L328.5 111.8L328.3 116.5L328.2 121.3L328.2 126.2L328.3 131.2L328.3 136.2L328.2 141.2L328 146L327.8 150.8L327.7 155.5L327.7 160.3L327.6 165.1L327.5 170M333.3 62.9L333.3 67.7L333.3 72.6L333.5 77.5L333.7 82.3L333.8 87.2L333.9 92L333.9 96.8L334 101.7L334 106.6L333.9 111.6L333.6 116.6L333.3 121.4L333 126.2L333 131L333.1 135.8L333.1 140.7L332.9 145.6L332.8 150.5L332.6 155.3L332.6 160.1L332.5 165L332.4 169.9M338.4 62.8L338.4 67.7L338.4 72.6L338.5 77.5L338.6 82.4L338.6 87.3L338.6 92L338.7 96.7L338.9 101.5L339.1 106.4L339 111.5L338.8 116.5L338.3 121.4L338 126.1L337.8 130.8L337.8 135.5L337.8 140.3L337.8 145.2L337.8 150.2L337.6 155.1L337.5 160L337.4 164.8L337.3 169.7M343.5 62.7L343.5 67.6L343.5 72.5L343.5 77.4L343.5 82.3L343.5 87.2L343.5 92L343.6 96.7L343.8 101.4L343.9 106.3L343.8 111.3L343.6 116.2L343.3 121.1L343 125.8L342.8 130.5L342.7 135.3L342.7 140.1L342.7 145L342.7 150L342.6 154.9L342.5 159.8L342.3 164.7L342.2 169.5M348.5 62.6L348.5 67.4L348.5 72.3L348.5 77.2L348.5 82.1L348.5 87L348.5 91.8L348.6 96.6L348.6 101.4L348.5 106.2L348.4 111.1L348.3 115.9L348.2 120.8L348.1 125.6L347.9 130.3L347.8 135.1L347.7 140L347.7 144.9L347.6 149.8L347.5 154.7L347.3 159.6L347.2 164.4L347.1 169.3M353.6 62.4L353.6 67.3L353.5 72.2L353.5 77L353.5 81.9L353.5 86.8L353.5 91.6L353.5 96.5L353.4 101.3L353.3 106.1L353.2 110.9L353.1 115.7L353.1 120.5L353 125.4L352.9 130.2L352.8 135L352.7 139.9L352.6 144.7L352.5 149.6L352.4 154.5L352.2 159.3L352.1 164.2L352 169.1M358.6 62.3L358.6 67.1L358.6 72L358.6 76.8L358.5 81.7L358.5 86.5L358.4 91.3L358.4 96.2L358.3 101L358.2 105.9L358.2 110.7L358.1 115.6L358 120.4L357.9 125.2L357.8 130.1L357.7 134.9L357.6 139.8L357.5 144.6L357.4 149.4L357.3 154.3L357.2 159.1L357 164L356.9 168.8M252.3 62.2L257.1 62.4L262 62.5L266.8 62.6L271.6 62.7L276.5 62.8L281.3 62.9L286.1 63L291 63L295.8 63.1L300.6 63.1L305.5 63.1L310.3 63.1L315.1 63.1L320 63.1L324.8 63L329.6 62.9L334.5 62.9L339.3 62.8L344.1 62.7L349 62.6L353.8 62.4L358.6 62.3M252.4 67.5L257.3 67.7L262.1 67.9L266.9 68L271.8 68.1L276.6 68.2L281.4 68.3L286.2 68.3L291 68.3L295.9 68.3L300.7 68.4L305.5 68.4L310.4 68.4L315.2 68.3L319.9 68.3L324.7 68.3L329.6 68.3L334.4 68.2L339.3 68.1L344.2 68L349 67.9L353.8 67.8L358.6 67.6M252.6 72.8L257.4 73L262.2 73.2L267 73.4L271.7 73.5L276.6 73.6L281.5 73.6L286.4 73.5L291.3 73.5L296.1 73.6L300.8 73.7L305.6 73.7L310.3 73.6L315.1 73.5L319.9 73.5L324.8 73.5L329.7 73.5L334.5 73.6L339.4 73.5L344.2 73.4L349 73.3L353.8 73.1L358.6 73M252.7 78.1L257.5 78.3L262.3 78.5L267 78.8L271.7 78.9L276.5 79L281.4 78.9L286.4 78.8L291.4 78.8L296.3 78.9L301 79L305.6 79L310.2 78.9L315.1 78.7L320 78.6L325.1 78.7L330 78.8L334.7 78.9L339.4 79L344.2 78.9L348.9 78.7L353.7 78.5L358.6 78.3M252.9 83.5L257.6 83.6L262.4 83.9L267.2 84.1L271.9 84.2L276.6 84.3L281.3 84.2L286.2 84.2L291.2 84.1L296.1 84.2L300.9 84.2L305.6 84.2L310.4 84.1L315.4 83.9L320.5 83.9L325.5 84L330.3 84.1L334.9 84.3L339.5 84.4L344.2 84.3L348.9 84.1L353.7 83.8L358.5 83.6M253 88.8L257.7 89L262.6 89.2L267.4 89.3L272.2 89.4L276.7 89.5L281.2 89.6L285.8 89.6L290.7 89.5L295.7 89.5L300.7 89.4L305.7 89.3L310.8 89.3L315.9 89.3L321 89.4L325.8 89.5L330.5 89.5L334.9 89.6L339.5 89.6L344.2 89.6L349 89.4L353.7 89.2L358.5 88.9M253.1 94.1L257.8 94.3L262.7 94.5L267.5 94.6L272.2 94.6L276.7 94.7L281.1 94.9L285.6 95L290.4 95L295.4 94.7L300.6 94.5L305.8 94.4L311.1 94.6L316.2 94.9L321.2 95.1L325.9 95.1L330.5 95L335 94.9L339.5 94.8L344.3 94.8L349 94.7L353.7 94.5L358.4 94.2M253.2 99.4L258 99.7L262.7 99.8L267.4 99.8L272 99.8L276.7 99.9L281.3 100.2L285.9 100.4L290.6 100.4L295.5 100.1L300.6 99.8L305.8 99.8L311 100L316.1 100.5L320.9 100.8L325.7 100.7L330.4 100.5L335.1 100.2L339.8 100L344.4 100L349 100L353.6 99.8L358.3 99.6M253.3 104.7L258.1 104.9L262.6 105.1L267.1 105.1L271.7 105.2L276.6 105.3L281.5 105.5L286.4 105.8L291.1 105.8L295.8 105.6L300.6 105.4L305.6 105.3L310.7 105.6L315.6 105.9L320.4 106.2L325.2 106.1L330.2 105.9L335.2 105.6L340 105.4L344.5 105.3L349 105.3L353.5 105.1L358.3 104.9M253.4 110L258.2 110.2L262.7 110.3L267.1 110.4L271.7 110.6L276.6 110.7L281.7 110.9L286.6 111.1L291.3 111.2L295.9 111.2L300.6 111.1L305.5 111.1L310.4 111.2L315.1 111.3L319.9 111.3L324.8 111.3L330 111.2L335.1 111.1L340 110.9L344.5 110.7L348.9 110.6L353.4 110.4L358.2 110.2M253.5 115.3L258.4 115.5L263 115.6L267.6 115.8L272.2 116.1L276.9 116.2L281.7 116.3L286.4 116.3L291 116.5L295.6 116.8L300.4 117L305.4 117L310.3 116.9L315.1 116.6L319.8 116.5L324.7 116.5L329.7 116.5L334.8 116.6L339.7 116.4L344.3 116.2L348.8 115.9L353.4 115.7L358.1 115.6M253.6 120.7L258.5 120.8L263.3 121L268.1 121.2L272.8 121.5L277.3 121.6L281.7 121.6L286.1 121.6L290.6 121.8L295.3 122.3L300.2 122.7L305.3 122.9L310.3 122.7L315.2 122.2L320 121.8L324.7 121.7L329.5 121.8L334.4 121.9L339.2 121.8L344 121.5L348.6 121.2L353.3 121L358 120.9M253.7 126L258.5 126.1L263.5 126.3L268.4 126.6L273.1 126.9L277.5 126.9L281.7 126.9L286 126.9L290.5 127.2L295.3 127.7L300.2 128.3L305.2 128.5L310.2 128.3L315.2 127.9L320.1 127.5L324.9 127.2L329.5 127.2L334.1 127.1L338.8 127L343.7 126.7L348.5 126.5L353.2 126.3L357.9 126.2M253.7 131.3L258.5 131.5L263.4 131.7L268.3 131.9L273.1 132.1L277.5 132.2L281.9 132.3L286.4 132.4L291.1 132.7L295.8 133.1L300.5 133.5L305.1 133.8L309.9 133.8L314.9 133.5L320 133.2L325 132.9L329.6 132.6L334.1 132.4L338.7 132.1L343.5 131.9L348.3 131.7L353.1 131.6L357.8 131.5M253.8 136.6L258.5 136.8L263.3 137L268 137.1L272.7 137.3L277.3 137.5L282 137.8L286.8 138.1L291.7 138.3L296.4 138.5L300.9 138.7L305.3 138.8L309.8 138.9L314.7 138.9L319.8 138.8L324.8 138.5L329.6 138.1L334.2 137.6L338.7 137.3L343.4 137.2L348.2 137L353 137L357.7 136.8M253.9 141.9L258.6 142.1L263.2 142.3L267.9 142.4L272.5 142.5L277.2 142.8L282.1 143.3L287 143.7L292 143.9L296.7 143.9L301.2 143.8L305.6 143.8L310.1 143.9L314.8 144.1L319.7 144.1L324.6 143.9L329.4 143.5L334.1 143L338.7 142.7L343.4 142.5L348.2 142.4L352.9 142.3L357.6 142.2M253.9 147.2L258.6 147.5L263.3 147.6L267.9 147.7L272.6 147.9L277.3 148.2L282.1 148.6L287 149.1L291.8 149.3L296.6 149.2L301.3 149.1L305.9 149L310.5 149.1L315.1 149.2L319.7 149.3L324.4 149.1L329.2 148.8L334 148.4L338.7 148.1L343.4 148L348.1 147.8L352.8 147.7L357.5 147.5M254 152.6L258.7 152.8L263.4 153L268 153.1L272.7 153.3L277.5 153.6L282.2 153.9L286.9 154.2L291.5 154.4L296.3 154.4L301.1 154.4L306 154.3L310.8 154.4L315.4 154.4L319.9 154.4L324.4 154.3L329 154.1L333.8 153.8L338.6 153.6L343.3 153.4L347.9 153.2L352.6 153L357.3 152.8M254 157.9L258.7 158.1L263.4 158.3L268.1 158.6L272.8 158.7L277.6 158.9L282.3 159.1L286.9 159.3L291.5 159.4L296.2 159.6L301 159.7L305.9 159.7L310.7 159.7L315.3 159.7L319.8 159.6L324.4 159.4L329 159.3L333.7 159.1L338.5 159L343.1 158.8L347.8 158.6L352.5 158.4L357.2 158.2M254.1 163.2L258.7 163.5L263.4 163.7L268.1 163.9L272.8 164.1L277.5 164.3L282.2 164.4L286.9 164.5L291.5 164.6L296.2 164.8L300.9 164.9L305.6 165L310.4 165L315 164.9L319.7 164.8L324.3 164.7L329 164.6L333.6 164.5L338.3 164.3L343 164.1L347.7 163.9L352.3 163.7L357 163.5M254.1 168.5L258.8 168.8L263.4 169L268.1 169.3L272.8 169.5L277.5 169.7L282.1 169.8L286.8 169.9L291.5 170L296.2 170.1L300.8 170.2L305.5 170.2L310.2 170.2L314.8 170.2L319.5 170.1L324.2 170L328.9 169.9L333.5 169.8L338.2 169.7L342.9 169.5L347.6 169.3L352.2 169.1L356.9 168.8" fill="none" stroke="#000" stroke-width="0.65"/>
<path d="M237.7 60.3H363.5V186.4H237.7ZM254.1 186.4v4.8M237.7 61.1h-5.4M280.6 186.4v4.8M237.7 88.8h-5.4M307 186.4v4.8M237.7 116.4h-5.4M333.4 186.4v4.8M237.7 144h-5.4M359.9 186.4v4.8M237.7 171.7h-5.4" fill="none" stroke="#333" stroke-width="0.75"/>
<text x="254.1" y="204" font-family="'Liberation Sans',sans-serif" font-size="7.6" fill="#111" stroke="#111" stroke-width="0.3" text-anchor="middle">-0.2</text>
<text transform="translate(224.7 61.4) rotate(-90)" font-family="'Liberation Sans',sans-serif" font-size="7.6" fill="#111" stroke="#111" stroke-width="0.3" text-anchor="middle">0.2</text>
<text x="280.6" y="204" font-family="'Liberation Sans',sans-serif" font-size="7.6" fill="#111" stroke="#111" stroke-width="0.3" text-anchor="middle">-0.1</text>
<text transform="translate(224.7 89) rotate(-90)" font-family="'Liberation Sans',sans-serif" font-size="7.6" fill="#111" stroke="#111" stroke-width="0.3" text-anchor="middle">0.1</text>
<text x="307" y="204" font-family="'Liberation Sans',sans-serif" font-size="7.6" fill="#111" stroke="#111" stroke-width="0.3" text-anchor="middle">0.0</text>
<text transform="translate(224.7 116.7) rotate(-90)" font-family="'Liberation Sans',sans-serif" font-size="7.6" fill="#111" stroke="#111" stroke-width="0.3" text-anchor="middle">0.0</text>
<text x="333.4" y="204" font-family="'Liberation Sans',sans-serif" font-size="7.6" fill="#111" stroke="#111" stroke-width="0.3" text-anchor="middle">0.1</text>
<text transform="translate(224.7 144.3) rotate(-90)" font-family="'Liberation Sans',sans-serif" font-size="7.6" fill="#111" stroke="#111" stroke-width="0.3" text-anchor="middle">-0.1</text>
<text x="359.9" y="204" font-family="'Liberation Sans',sans-serif" font-size="7.6" fill="#111" stroke="#111" stroke-width="0.3" text-anchor="middle">0.2</text>
<text transform="translate(224.7 172) rotate(-90)" font-family="'Liberation Sans',sans-serif" font-size="7.6" fill="#111" stroke="#111" stroke-width="0.3" text-anchor="middle">-0.2</text>
<g fill="#61D04F"><circle cx="306.8" cy="68.4" r="2.9"/><circle cx="293.4" cy="70.8" r="2.9"/><circle cx="320.2" cy="70.8" r="2.9"/><circle cx="282.9" cy="75.9" r="2.9"/><circle cx="330.7" cy="75.9" r="2.9"/><circle cx="276.4" cy="86" r="2.9"/><circle cx="337.2" cy="86" r="2.9"/><circle cx="273.1" cy="98.5" r="2.9"/><circle cx="340.5" cy="98.5" r="2.9"/><circle cx="271.5" cy="109.9" r="2.9"/><circle cx="342.1" cy="109.9" r="2.9"/><circle cx="271.5" cy="121.1" r="2.9"/><circle cx="342.1" cy="121.1" r="2.9"/><circle cx="273.3" cy="132.3" r="2.9"/><circle cx="340.3" cy="132.3" r="2.9"/><circle cx="276.5" cy="144.4" r="2.9"/><circle cx="337.1" cy="144.4" r="2.9"/><circle cx="283.8" cy="154.8" r="2.9"/><circle cx="329.8" cy="154.8" r="2.9"/><circle cx="293.7" cy="162.3" r="2.9"/><circle cx="319.9" cy="162.3" r="2.9"/><circle cx="306.8" cy="166.4" r="2.9"/><circle cx="279.6" cy="98.7" r="2.9"/><circle cx="334.1" cy="99" r="2.9"/><circle cx="283.7" cy="96" r="2.9"/><circle cx="329.8" cy="96.8" r="2.9"/><circle cx="288.1" cy="95.4" r="2.9"/><circle cx="325.4" cy="95.6" r="2.9"/><circle cx="293.1" cy="96.3" r="2.9"/><circle cx="320.6" cy="96.3" r="2.9"/><circle cx="297" cy="98.7" r="2.9"/><circle cx="316.4" cy="98" r="2.9"/><circle cx="282.5" cy="100.5" r="2.9"/><circle cx="331.1" cy="100.5" r="2.9"/><circle cx="286.5" cy="99.5" r="2.9"/><circle cx="327" cy="99.1" r="2.9"/><circle cx="291.4" cy="99.7" r="2.9"/><circle cx="322.9" cy="99.5" r="2.9"/><circle cx="294.9" cy="101" r="2.9"/><circle cx="318.7" cy="100.7" r="2.9"/><circle cx="293.8" cy="102.8" r="2.9"/><circle cx="319.8" cy="103.5" r="2.9"/><circle cx="283.9" cy="109.2" r="2.9"/><circle cx="329.2" cy="109" r="2.9"/><circle cx="287.6" cy="107.2" r="2.9"/><circle cx="326.3" cy="106.6" r="2.9"/><circle cx="291" cy="105.4" r="2.9"/><circle cx="322.9" cy="105.4" r="2.9"/><circle cx="295.1" cy="106.9" r="2.9"/><circle cx="318.5" cy="106.5" r="2.9"/><circle cx="286.9" cy="110.4" r="2.9"/><circle cx="326.7" cy="111.1" r="2.9"/><circle cx="291" cy="111.5" r="2.9"/><circle cx="322.9" cy="111.3" r="2.9"/><circle cx="295.5" cy="110.9" r="2.9"/><circle cx="318.8" cy="110.7" r="2.9"/><circle cx="291.2" cy="108.5" r="2.9"/><circle cx="322" cy="108.6" r="2.9"/><circle cx="298.4" cy="109.9" r="2.9"/><circle cx="315.1" cy="109.2" r="2.9"/><circle cx="301.7" cy="110.5" r="2.9"/><circle cx="312.4" cy="109.9" r="2.9"/><circle cx="299.9" cy="113.3" r="2.3"/><circle cx="313.2" cy="113.5" r="2.3"/><circle cx="300.2" cy="116.9" r="2.3"/><circle cx="313.2" cy="116.7" r="2.3"/><circle cx="299.7" cy="120.8" r="2.3"/><circle cx="314.8" cy="120.7" r="2.3"/><circle cx="297.6" cy="124.5" r="2.3"/><circle cx="315.4" cy="124.4" r="2.3"/><circle cx="296.5" cy="128" r="2.3"/><circle cx="316.9" cy="128.1" r="2.3"/><circle cx="295.9" cy="132.4" r="2.9"/><circle cx="317.6" cy="132.2" r="2.9"/><circle cx="299.2" cy="134.1" r="2.9"/><circle cx="313.7" cy="133.5" r="2.9"/><circle cx="302.8" cy="134.7" r="2.9"/><circle cx="310.2" cy="134.9" r="2.9"/><circle cx="306.9" cy="135" r="2.9"/><circle cx="294.6" cy="144.8" r="2.9"/><circle cx="319.7" cy="144.8" r="2.9"/><circle cx="298.1" cy="141.2" r="2.9"/><circle cx="315.2" cy="141.6" r="2.9"/><circle cx="302.8" cy="140.2" r="2.9"/><circle cx="311" cy="140.6" r="2.9"/><circle cx="306.5" cy="142.1" r="2.9"/><circle cx="296.2" cy="146.4" r="2.9"/><circle cx="317.1" cy="146.5" r="2.9"/><circle cx="299.4" cy="149.5" r="2.9"/><circle cx="314.9" cy="149.7" r="2.9"/><circle cx="302.7" cy="151.7" r="2.9"/><circle cx="310.6" cy="151.3" r="2.9"/><circle cx="307.3" cy="151" r="2.9"/></g>
<g fill="#DF536B"><circle cx="306.8" cy="68.9" r="3.1"/><circle cx="293.5" cy="71.3" r="3.1"/><circle cx="320.1" cy="71.3" r="3.1"/><circle cx="283.1" cy="76.4" r="3.1"/><circle cx="330.5" cy="76.4" r="3.1"/><circle cx="276.7" cy="86.5" r="3.1"/><circle cx="336.9" cy="86.5" r="3.1"/><circle cx="273.3" cy="98.8" r="3.1"/><circle cx="340.3" cy="98.8" r="3.1"/><circle cx="271.7" cy="110.2" r="3.1"/><circle cx="341.9" cy="110.2" r="3.1"/><circle cx="272" cy="121.6" r="3.1"/><circle cx="341.6" cy="121.6" r="3.1"/><circle cx="274" cy="133" r="3.1"/><circle cx="339.6" cy="133" r="3.1"/><circle cx="277.3" cy="145.3" r="3.1"/><circle cx="336.3" cy="145.3" r="3.1"/><circle cx="284.3" cy="155.7" r="3.1"/><circle cx="329.3" cy="155.7" r="3.1"/><circle cx="294" cy="163.2" r="3.1"/><circle cx="319.6" cy="163.2" r="3.1"/><circle cx="306.8" cy="167.3" r="3.1"/><circle cx="280" cy="98.6" r="3.0"/><circle cx="333.6" cy="98.5" r="3.0"/><circle cx="284" cy="96" r="3.0"/><circle cx="329.4" cy="96.6" r="3.0"/><circle cx="288.5" cy="95.3" r="3.0"/><circle cx="325" cy="95.5" r="3.0"/><circle cx="292.9" cy="95.9" r="3.0"/><circle cx="320.3" cy="96.1" r="3.0"/><circle cx="296.9" cy="98.2" r="3.0"/><circle cx="316.3" cy="97.6" r="3.0"/><circle cx="282.7" cy="100.2" r="3.0"/><circle cx="330.8" cy="100.3" r="3.0"/><circle cx="286.9" cy="99.5" r="3.0"/><circle cx="326.7" cy="99.2" r="3.0"/><circle cx="291.3" cy="99.5" r="3.0"/><circle cx="322.9" cy="99.5" r="3.0"/><circle cx="294.9" cy="100.5" r="3.0"/><circle cx="318.5" cy="100.6" r="3.0"/><circle cx="293.6" cy="102.6" r="3.0"/><circle cx="319.8" cy="103" r="3.0"/><circle cx="284" cy="108.7" r="3.0"/><circle cx="329.2" cy="109" r="3.0"/><circle cx="287.7" cy="106.6" r="3.0"/><circle cx="326" cy="106.7" r="3.0"/><circle cx="291.3" cy="105.4" r="3.0"/><circle cx="322.5" cy="105.3" r="3.0"/><circle cx="295.4" cy="106.6" r="3.0"/><circle cx="318.2" cy="106.6" r="3.0"/><circle cx="287.4" cy="110.4" r="3.0"/><circle cx="326.6" cy="111" r="3.0"/><circle cx="291.2" cy="111.3" r="3.0"/><circle cx="322.5" cy="111.3" r="3.0"/><circle cx="295.7" cy="110.8" r="3.0"/><circle cx="318.5" cy="110.3" r="3.0"/><circle cx="291.5" cy="108.3" r="3.0"/><circle cx="322" cy="108.6" r="3.0"/><circle cx="298.3" cy="109.3" r="3.0"/><circle cx="314.9" cy="109" r="3.0"/><circle cx="301.6" cy="110" r="3.0"/><circle cx="312.3" cy="109.8" r="3.0"/><circle cx="300.5" cy="112.9" r="2.4"/><circle cx="312.8" cy="113.4" r="2.4"/><circle cx="300.6" cy="116.5" r="2.4"/><circle cx="313" cy="116.6" r="2.4"/><circle cx="299.9" cy="120.6" r="2.4"/><circle cx="314.3" cy="120.5" r="2.4"/><circle cx="298.2" cy="124.3" r="2.4"/><circle cx="314.8" cy="124.4" r="2.4"/><circle cx="297.4" cy="128.1" r="2.4"/><circle cx="316.5" cy="127.7" r="2.4"/><circle cx="296.5" cy="131.6" r="3.0"/><circle cx="317.3" cy="131.6" r="3.0"/><circle cx="299.6" cy="133.2" r="3.0"/><circle cx="313.7" cy="132.7" r="3.0"/><circle cx="303" cy="134" r="3.0"/><circle cx="310.3" cy="134.2" r="3.0"/><circle cx="306.6" cy="134" r="3.0"/><circle cx="294.6" cy="143.8" r="3.0"/><circle cx="319.5" cy="143.7" r="3.0"/><circle cx="298.2" cy="140.4" r="3.0"/><circle cx="315.4" cy="140.7" r="3.0"/><circle cx="302.8" cy="139.3" r="3.0"/><circle cx="310.9" cy="139.6" r="3.0"/><circle cx="306.5" cy="141.4" r="3.0"/><circle cx="296.4" cy="145.8" r="3.0"/><circle cx="316.9" cy="146" r="3.0"/><circle cx="299.6" cy="149" r="3.0"/><circle cx="314.5" cy="148.6" r="3.0"/><circle cx="302.8" cy="150.6" r="3.0"/><circle cx="310.8" cy="150.6" r="3.0"/><circle cx="307.1" cy="150.4" r="3.0"/></g>
<path d="M306.8 68.3l0.4 3.8M306.8 68.3l-1.8 3.4M293.4 70.7l2.1 3.1M293.4 70.7l-0 3.7M320.2 70.7l-0.7 3.8M320.2 70.7l-2.7 2.8M282.9 75.9l2.6 2.7M282.9 75.9l0.6 3.7M330.7 75.9l0.1 3.8M330.7 75.9l-2 3.2M276.4 86l3.2 2.1M276.4 86l1.5 3.5M337.2 86l-0.5 3.1M337.2 86l-2.1 2.3M273 98.2l3.1 2.5M273 98.2l1.2 3.8M340.6 98.2l-0.8 3.7M340.6 98.2l-2.7 2.6M271.4 109.7l2.9 1.9M271.4 109.7l1.3 3.2M342.2 109.7l-1.7 3.4M342.2 109.7l-3.4 1.9M271.6 121.2l2.9 1.5M271.6 121.2l1.5 2.8M342 121.2l-2.5 3.4M342 121.2l-3.9 1.4M273.6 132.6l2.9 2.1M273.6 132.6l1.2 3.4M340 132.6l-2.1 3.3M340 132.6l-3.6 1.6M276.9 144.9l2.6 2M276.9 144.9l1 3.1M336.7 144.9l-1 3.5M336.7 144.9l-2.8 2.4M284 155.2l2 2.9M284 155.2l0 3.5M329.6 155.2l-0.8 3.6M329.6 155.2l-2.6 2.5M293.8 162.6l2.3 2.7M293.8 162.6l0.4 3.5M319.8 162.6l-0.8 4M319.8 162.6l-2.9 2.9M306.8 166.7l0.8 3.7M306.8 166.7l-1.4 3.5M279.4 98.7l3.6 -1.9M279.4 98.7l4 0.4M334 98.9l-2.8 -1.7M334 98.9l-1.4 -2.9M283.4 96.1l3.7 -1.3M283.4 96.1l3.8 1M330 96.9l-3.2 -0.9M330 96.9l-2.2 -2.6M287.9 95.5l2.2 -1.5M287.9 95.5l2.6 -0M325.6 95.7l-3.1 0.2M325.6 95.7l-2.6 -1.5M293.1 96.4l-2.5 -2.4M293.1 96.4l-0.7 -3.4M320.8 96.4l-3.4 -0.7M320.8 96.4l-2.4 -2.5M297.1 98.8l-2.5 -2.6M297.1 98.8l-0.6 -3.6M316.5 98.2l-2.6 -2.9M316.5 98.2l-0.6 -3.9M282.3 100.7l2 -3.7M282.3 100.7l3.7 -1.9M331.3 100.6l-2.8 -0.6M331.3 100.6l-2 -2.1M286.3 99.5l3.3 -1.2M286.3 99.5l3.4 0.9M327.3 99.1l-2.9 1.3M327.3 99.1l-3.1 -0.6M291.5 100l-1.6 -2.8M291.5 100l0.3 -3.2M323.4 99.2l-2.3 2.5M323.4 99.2l-3.3 0.8M294.9 101.1l-0.4 -3.2M294.9 101.1l1.4 -2.9M319 100.8l-4 -0.3M319 100.8l-3.2 -2.5M294 103l-3.6 -1.2M294 103l-2.3 -3M319.8 103.6l-0.9 -3.1M319.8 103.6l1 -3.1M283.9 109.2l0.2 -3.6M283.9 109.2l2.2 -2.8M328.6 109.1l4 -1.5M328.6 109.1l4.1 1M287.6 107.2l-1.5 -3.1M287.6 107.2l0.5 -3.4M326.6 106.6l-3.6 1.3M326.6 106.6l-3.7 -0.9M290.7 105.4l3.8 -0.8M290.7 105.4l3.6 1.5M323.1 105.4l-3.3 -0M323.1 105.4l-2.7 -1.9M294.9 106.9l2.3 -3.1M294.9 106.9l3.6 -1.2M318.8 106.5l-3.2 0.9M318.8 106.5l-3.2 -1.1M286.8 110.4l2.7 -0.7M286.8 110.4l2.6 0.9M326.9 111.5l-3.4 -2.2M326.9 111.5l-1.6 -3.7M290.7 111.6l3.2 -2.9M290.7 111.6l4.3 -0.6M323.1 111.3l-2.9 1M323.1 111.3l-2.9 -0.7M295.2 111.2l2.3 -2.8M295.2 111.2l3.4 -1.1M318.8 110.8l-3.3 -2.2M318.8 110.8l-1.5 -3.7M291 108.7l1.7 -2.4M291 108.7l2.7 -1.1M321.5 108.9l3 -3M321.5 108.9l4.1 -0.8M298.4 109.9l-1.4 -2.8M298.4 109.9l0.4 -3.1M315.3 109.5l-2.5 -2M315.3 109.5l-1 -3M301.7 110.6l-1.9 -2.7M301.7 110.6l-0 -3.3M312.6 110.3l-2.7 -2.3M312.6 110.3l-0.9 -3.4M300 113.2l1.9 -2.7M300 113.2l3.1 -1.2M313.4 113.5l-4 0.5M313.4 113.5l-3.6 -1.8M300.2 116.9l1 -3.2M300.2 116.9l2.6 -2.1M313.6 116.8l-4.3 0.5M313.6 116.8l-3.8 -2M299.4 121l2.3 -3.2M299.4 121l3.7 -1.4M314.8 120.8l-2.9 -0.9M314.8 120.8l-1.9 -2.3M297.7 124.5l2.5 -2M297.7 124.5l3.2 -0.2M315.4 124.4l-3 0.9M315.4 124.4l-3 -0.9M296.8 128l3.5 -1.1M296.8 128l3.5 1.1M317 128.1l-3 -1.3M317 128.1l-1.8 -2.8M296.1 132.1l1.5 -3.3M296.1 132.1l3.1 -1.9M317.6 132.1l-3.1 -1.8M317.6 132.1l-1.5 -3.2M299.3 133.8l0.3 -3.8M299.3 133.8l2.4 -3M313.7 133.3l-1.4 -3.5M313.7 133.3l0.8 -3.7M302.8 134.6l0.7 -3.5M302.8 134.6l2.6 -2.5M310.3 134.8l-1.3 -3.6M310.3 134.8l1 -3.7M306.7 134.5l-1.7 -2.7M306.7 134.5l0.1 -3.2M294.6 144.4l-1.6 -2.9M294.6 144.4l0.4 -3.3M319.6 144.3l-2 -2.8M319.6 144.3l-0.1 -3.4M298.1 141l0.2 -3.5M298.1 141l2.1 -2.8M315.3 141.3l-0.9 -3M315.3 141.3l0.9 -3M302.8 139.9l-1.1 -3.2M302.8 139.9l0.8 -3.3M311 140.2l-1 -3.3M311 140.2l1 -3.3M306.5 142l-1.5 -3.4M306.5 142l0.7 -3.7M296.2 146.4l0.8 -3.6M296.2 146.4l2.7 -2.6M317.1 146.6l-2.2 -2.5M317.1 146.6l-0.5 -3.3M299.4 149.6l-0.2 -3.4M299.4 149.6l1.7 -2.9M314.7 149.1l-2.4 -3M314.7 149.1l-0.3 -3.8M302.7 151.2l-1.4 -3M302.7 151.2l0.5 -3.3M310.6 151.2l-0.5 -3.1M310.6 151.2l1.4 -2.9M307.3 151l-2.1 -3.2M307.3 151l0 -3.8" fill="none" stroke="#2297E6" stroke-width="0.58" stroke-linecap="round" opacity="0.95"/>
</g>
<g>
<path d="M405.5 64.3L405.4 69.3L405.3 74.3L405.2 79.3L405.1 84.3L405 89.3L404.8 94.4L404.7 99.4L404.6 104.4L404.5 109.4L404.4 114.4L404.3 119.4L404.2 124.4L404.1 129.4L404 134.4L403.9 139.4L403.8 144.4L403.6 149.5L403.5 154.5L403.4 159.5L403.3 164.5L403.2 169.5L403.1 174.5M410.7 64.2L410.7 69.2L410.6 74.2L410.5 79.2L410.4 84.2L410.3 89.3L410.1 94.3L410 99.2L409.8 104.2L409.7 109.2L409.5 114.2L409.4 119.2L409.4 124.2L409.4 129.2L409.4 134.2L409.3 139.3L409.2 144.3L409.1 149.3L408.9 154.3L408.8 159.3L408.7 164.3L408.6 169.3L408.5 174.3M416 64.2L415.9 69.2L415.9 74.2L415.8 79.1L415.6 84.1L415.5 89.1L415.3 94.2L415.2 99.2L415.1 104.2L414.9 109L414.7 113.9L414.6 118.9L414.6 124L414.7 129.1L414.7 134.1L414.7 139.1L414.6 144.1L414.5 149.1L414.4 154.2L414.3 159.2L414.1 164.2L414 169.2L413.9 174.1M421.2 64.1L421.2 69.2L421.1 74.2L421 79.1L420.9 84L420.7 89L420.5 94.1L420.4 99.2L420.2 104.1L420.1 108.9L420 113.7L419.9 118.7L419.9 123.8L419.9 129L420 134L420 138.9L420.1 143.8L420.1 148.9L420 154L419.8 159.1L419.6 164.1L419.4 169L419.3 174M426.4 64.1L426.4 69.1L426.4 74.2L426.3 79.1L426.2 84L426 89L425.7 94L425.5 99L425.3 104L425.3 108.8L425.3 113.6L425.3 118.6L425.3 123.7L425.2 128.8L425.2 133.8L425.4 138.7L425.5 143.6L425.6 148.7L425.5 153.9L425.2 159L425 164L424.8 168.8L424.6 173.8M431.7 64.1L431.6 69.1L431.6 74.1L431.6 79.2L431.5 84.2L431.3 89.1L430.9 93.9L430.6 98.8L430.4 103.7L430.4 108.7L430.5 113.8L430.7 118.7L430.7 123.6L430.6 128.5L430.7 133.5L430.8 138.6L431 143.7L431 148.8L430.9 153.8L430.7 158.7L430.4 163.7L430.2 168.7L430 173.6M436.9 64.1L436.9 69L436.8 74L436.8 79.2L436.7 84.4L436.5 89.3L436.2 93.9L435.9 98.6L435.6 103.5L435.6 108.7L435.7 113.9L435.8 118.7L436 123.4L436.1 128.1L436.3 133.3L436.4 138.6L436.4 143.8L436.4 148.8L436.2 153.6L436 158.5L435.8 163.4L435.6 168.5L435.4 173.4M442.1 64.1L442.1 69L442.1 74L442 79.2L441.9 84.4L441.7 89.4L441.5 94L441.3 98.7L441.1 103.6L440.9 108.7L440.8 113.8L440.9 118.6L441.2 123.2L441.6 128L441.9 133.2L442 138.6L441.9 143.8L441.7 148.8L441.5 153.5L441.3 158.3L441.2 163.2L441 168.3L440.8 173.2M447.4 64.1L447.3 69L447.3 74L447.2 79.1L447.1 84.2L446.9 89.3L446.8 94.2L446.8 99L446.6 103.9L446.4 108.7L446.2 113.6L446.2 118.4L446.5 123.2L447 128.1L447.4 133.2L447.4 138.4L447.2 143.6L446.9 148.6L446.8 153.5L446.7 158.3L446.6 163.2L446.4 168.1L446.2 173M452.6 64.2L452.6 69.1L452.5 74.1L452.4 79L452.3 83.9L452.2 89.1L452.1 94.3L452.2 99.4L452.1 104.2L451.9 108.7L451.7 113.3L451.8 118.1L452 123.2L452.4 128.4L452.6 133.4L452.6 138.2L452.4 143.2L452.2 148.2L452.1 153.4L452 158.3L451.9 163.1L451.8 167.9L451.6 172.8M457.8 64.3L457.8 69.2L457.7 74.1L457.6 78.9L457.5 83.8L457.5 89L457.5 94.4L457.5 99.6L457.5 104.4L457.5 108.8L457.5 113.2L457.6 118L457.6 123.3L457.6 128.5L457.6 133.5L457.6 138.1L457.6 142.9L457.5 148L457.5 153.2L457.4 158.2L457.3 163L457.1 167.7L457 172.6M463.1 64.3L463 69.2L462.9 74.1L462.8 79L462.8 83.9L462.8 89L462.8 94.3L462.8 99.5L462.9 104.3L463.2 108.8L463.4 113.3L463.4 118.2L463.2 123.3L462.8 128.4L462.6 133.4L462.5 138.2L462.7 143L462.8 147.9L462.8 153L462.7 157.9L462.6 162.7L462.5 167.5L462.3 172.4M468.3 64.4L468.2 69.2L468.1 74.1L468 79.1L468 84.2L468.1 89.2L468.2 94.2L468.3 99.1L468.5 104L468.8 108.9L469 113.7L469 118.5L468.6 123.3L468.1 128.2L467.7 133.2L467.7 138.2L467.9 143.1L468.1 148L468.1 152.7L468 157.5L467.9 162.4L467.8 167.3L467.7 172.2M473.5 64.6L473.5 69.3L473.4 74.2L473.3 79.3L473.3 84.4L473.4 89.4L473.6 94L473.8 98.7L474.1 103.7L474.3 108.9L474.4 114L474.3 118.8L473.9 123.3L473.5 128L473.1 133L473 138.1L473.1 143.2L473.2 147.9L473.3 152.5L473.3 157.2L473.2 162.1L473.2 167.1L473.1 172M478.8 64.7L478.7 69.4L478.7 74.3L478.6 79.4L478.6 84.5L478.8 89.3L479 93.9L479.3 98.6L479.6 103.6L479.7 108.9L479.6 114.1L479.4 118.9L479.1 123.4L478.9 128L478.7 132.8L478.6 137.9L478.4 143L478.4 147.7L478.4 152.3L478.5 157L478.5 161.9L478.5 166.9L478.5 171.8M484 64.8L484 69.6L483.9 74.5L483.9 79.4L484 84.3L484.2 89.1L484.4 93.9L484.8 98.7L485 103.7L485 108.8L484.8 113.9L484.6 118.8L484.4 123.5L484.4 128.1L484.3 132.9L484.1 137.7L483.8 142.5L483.6 147.4L483.6 152.2L483.7 157L483.9 161.8L483.9 166.7L483.9 171.6M489.2 65L489.2 69.8L489.2 74.7L489.3 79.4L489.4 84.2L489.5 89L489.8 94L490.1 99L490.2 103.9L490.1 108.7L490 113.5L489.9 118.5L489.8 123.4L489.8 128.3L489.7 132.9L489.4 137.5L489.1 142.2L488.9 147L488.9 152L489.1 156.9L489.2 161.7L489.3 166.5L489.3 171.3M494.5 65.2L494.5 70L494.5 74.8L494.6 79.5L494.7 84.2L494.9 89.1L495.1 94.1L495.2 99.2L495.3 104L495.3 108.6L495.3 113.3L495.3 118.2L495.2 123.2L495.1 128.2L494.9 132.9L494.7 137.4L494.4 142.1L494.4 146.9L494.4 151.8L494.5 156.7L494.6 161.5L494.7 166.3L494.7 171.1M499.7 65.3L499.7 70.1L499.8 74.9L499.9 79.6L500 84.4L500.2 89.2L500.3 94.2L500.4 99.1L500.5 103.9L500.6 108.6L500.7 113.2L500.7 118.1L500.5 123L500.3 128L500.1 132.8L499.9 137.4L499.9 142.1L499.9 146.8L499.9 151.7L499.9 156.5L500 161.3L500 166.1L500 170.9M504.9 65.5L505 70.3L505.1 75.1L505.1 79.8L505.2 84.6L505.4 89.4L505.5 94.2L505.6 99L505.7 103.8L505.8 108.6L505.9 113.3L505.9 118.1L505.8 122.9L505.5 127.7L505.4 132.5L505.3 137.3L505.3 142.1L505.4 146.8L505.4 151.5L505.4 156.3L505.4 161L505.4 165.9L505.4 170.7M510.2 65.8L510.3 70.5L510.3 75.3L510.4 80L510.5 84.8L510.6 89.5L510.7 94.3L510.8 99L510.9 103.8L511 108.6L511 113.4L511 118.2L511 122.9L510.9 127.6L510.8 132.4L510.8 137.2L510.8 141.9L510.9 146.7L510.9 151.4L510.9 156.1L510.8 160.9L510.8 165.7L510.8 170.4M515.4 66L515.5 70.7L515.6 75.5L515.7 80.2L515.8 84.9L515.9 89.7L515.9 94.4L516 99.2L516.1 103.9L516.1 108.6L516.2 113.4L516.2 118.1L516.2 122.8L516.3 127.6L516.3 132.3L516.3 137L516.3 141.8L516.3 146.5L516.3 151.3L516.3 156L516.3 160.7L516.2 165.5L516.2 170.2M405.5 64.3L410.5 64.2L415.5 64.2L420.5 64.1L425.5 64.1L430.5 64.1L435.5 64.1L440.5 64.1L445.5 64.1L450.5 64.2L455.5 64.2L460.5 64.3L465.4 64.4L470.4 64.5L475.4 64.6L480.4 64.7L485.4 64.9L490.4 65L495.4 65.2L500.4 65.4L505.4 65.6L510.4 65.8L515.4 66M405.4 69.3L410.4 69.2L415.4 69.2L420.5 69.2L425.5 69.2L430.5 69.1L435.4 69L440.4 69L445.4 69L450.4 69.1L455.4 69.2L460.4 69.2L465.4 69.2L470.4 69.3L475.4 69.3L480.4 69.5L485.4 69.7L490.4 69.9L495.4 70L500.4 70.2L505.5 70.3L510.5 70.5L515.5 70.7M405.3 74.3L410.3 74.2L415.4 74.2L420.4 74.2L425.4 74.2L430.4 74.1L435.4 74.1L440.4 74L445.4 74L450.4 74L455.3 74.1L460.3 74.1L465.2 74.1L470.2 74.2L475.3 74.2L480.3 74.4L485.4 74.5L490.4 74.7L495.5 74.8L500.5 74.9L505.5 75.1L510.6 75.3L515.6 75.5M405.2 79.3L410.3 79.2L415.3 79.1L420.3 79.1L425.3 79.1L430.4 79.1L435.4 79.2L440.4 79.2L445.3 79.1L450.3 79L455.2 78.9L460.2 78.9L465.2 79L470.2 79.2L475.2 79.4L480.3 79.4L485.4 79.4L490.5 79.4L495.5 79.5L500.6 79.6L505.6 79.8L510.7 80L515.7 80.2M405.1 84.3L410.1 84.3L415.2 84.1L420.2 84L425.2 84L430.3 84.1L435.3 84.3L440.3 84.4L445.2 84.3L450.1 84L455.1 83.8L460.1 83.8L465.2 84L470.2 84.3L475.2 84.5L480.3 84.4L485.5 84.3L490.6 84.1L495.7 84.2L500.7 84.4L505.7 84.6L510.7 84.8L515.8 84.9M405 89.3L410 89.3L415 89.1L420 89L425 89L430.1 89.1L435.1 89.2L440.1 89.4L445 89.3L450 89.1L455 89L460.1 89L465.2 89.1L470.3 89.3L475.4 89.4L480.5 89.3L485.6 89.1L490.8 89L495.9 89.1L500.9 89.2L505.8 89.4L510.8 89.6L515.9 89.7M404.8 94.4L409.9 94.3L414.9 94.2L419.8 94.1L424.8 94L429.8 94L434.8 93.9L439.8 94L444.9 94.1L450 94.3L455 94.4L460.1 94.4L465.2 94.3L470.4 94.1L475.6 94L480.8 93.9L485.9 93.9L491 94L496 94.1L501 94.2L506 94.2L510.9 94.3L515.9 94.4M404.7 99.4L409.8 99.2L414.7 99.2L419.7 99.2L424.5 99.1L429.4 98.8L434.4 98.6L439.6 98.6L444.8 98.9L450 99.3L455.1 99.6L460.1 99.6L465.3 99.3L470.5 98.9L475.8 98.6L481.1 98.6L486.2 98.8L491.2 99L496.2 99.2L501.1 99.1L506.1 99L511 99L516 99.2M404.6 104.4L409.6 104.2L414.6 104.2L419.5 104.1L424.4 104L429.2 103.8L434.2 103.6L439.3 103.6L444.6 103.8L449.9 104.1L455.1 104.4L460.2 104.4L465.4 104.2L470.7 103.8L476.1 103.6L481.3 103.6L486.4 103.7L491.4 103.9L496.2 104L501.2 103.9L506.2 103.8L511.1 103.8L516.1 103.9M404.5 109.4L409.5 109.2L414.4 109L419.4 108.9L424.3 108.8L429.2 108.7L434.1 108.7L439.2 108.7L444.4 108.7L449.6 108.7L455 108.7L460.3 108.8L465.7 108.8L471 108.9L476.3 108.9L481.4 108.8L486.4 108.8L491.3 108.7L496.3 108.6L501.3 108.6L506.3 108.6L511.2 108.6L516.1 108.6M404.4 114.4L409.3 114.2L414.3 113.9L419.3 113.7L424.3 113.6L429.3 113.7L434.3 113.8L439.2 113.8L444.2 113.7L449.4 113.4L454.9 113.2L460.5 113.2L466 113.5L471.3 113.8L476.3 114L481.2 114L486.2 113.8L491.2 113.5L496.3 113.3L501.4 113.2L506.4 113.3L511.3 113.4L516.2 113.4M404.3 119.4L409.2 119.2L414.2 118.9L419.2 118.7L424.4 118.6L429.5 118.7L434.4 118.7L439.3 118.6L444.2 118.5L449.4 118.2L454.9 118.1L460.5 118.1L466 118.3L471.2 118.6L476.2 118.8L481 118.9L486 118.7L491.1 118.4L496.3 118.1L501.4 118.1L506.4 118.1L511.3 118.2L516.2 118.1M404.2 124.4L409.2 124.2L414.1 124L419.2 123.9L424.3 123.8L429.5 123.6L434.6 123.4L439.6 123.3L444.6 123.2L449.7 123.2L455 123.3L460.4 123.3L465.7 123.3L470.8 123.3L475.8 123.3L480.8 123.4L485.9 123.5L491.1 123.4L496.2 123.2L501.3 123L506.2 122.9L511.2 122.9L516.2 122.8M404.1 129.4L409.2 129.2L414.2 129.1L419.2 129L424.3 128.9L429.4 128.6L434.6 128.2L439.9 128L445.1 128L450.2 128.3L455.2 128.5L460.2 128.5L465.2 128.3L470.3 128.1L475.4 127.9L480.7 128L485.9 128.2L491 128.3L496.1 128.2L501 127.9L506 127.7L511.1 127.6L516.3 127.6M404 134.4L409.1 134.3L414.2 134.1L419.3 134L424.3 133.8L429.4 133.6L434.7 133.3L440.1 133.2L445.4 133.2L450.5 133.3L455.4 133.4L460.1 133.4L464.9 133.3L469.9 133.1L475.2 132.9L480.5 132.8L485.8 132.9L490.9 132.9L495.8 132.9L500.8 132.7L505.9 132.5L511.1 132.4L516.3 132.3M403.9 139.4L409.1 139.3L414.2 139.1L419.3 138.9L424.4 138.7L429.6 138.6L434.8 138.6L440.2 138.6L445.5 138.5L450.5 138.3L455.3 138.2L460 138.1L464.8 138.2L469.8 138.2L475 138.1L480.3 137.9L485.5 137.6L490.6 137.5L495.6 137.4L500.7 137.4L505.8 137.3L511.1 137.2L516.3 137M403.8 144.4L408.9 144.3L414.1 144.1L419.3 143.8L424.5 143.6L429.7 143.7L435 143.8L440.1 143.9L445.3 143.7L450.3 143.3L455.2 143L460.1 142.9L465 143L470 143.2L475.1 143.2L480.1 142.8L485.2 142.4L490.3 142.1L495.4 142.1L500.6 142.1L505.8 142.1L511.1 141.9L516.3 141.8M403.6 149.5L408.8 149.3L414 149.1L419.3 148.9L424.6 148.8L429.8 148.7L434.9 148.8L440 148.8L445 148.7L450 148.4L455.1 148.1L460.2 147.9L465.2 148L470.2 148L475.1 147.9L480 147.6L485 147.3L490.1 147L495.4 146.9L500.6 146.8L505.9 146.8L511.1 146.7L516.3 146.5M403.5 154.5L408.7 154.3L413.9 154.2L419.2 154.1L424.5 153.9L429.7 153.8L434.8 153.7L439.8 153.6L444.8 153.5L449.9 153.4L455 153.3L460.2 153.1L465.3 152.9L470.2 152.6L475.1 152.4L480 152.3L485 152.1L490.1 152L495.4 151.8L500.7 151.6L505.9 151.5L511.1 151.4L516.3 151.3M403.4 159.5L408.6 159.3L413.8 159.2L419 159.2L424.3 159L429.4 158.8L434.6 158.5L439.6 158.3L444.7 158.3L449.8 158.3L455 158.3L460.1 158.1L465.1 157.8L470.2 157.4L475.1 157.1L480.1 157L485.2 157L490.3 156.9L495.5 156.7L500.7 156.5L505.9 156.2L511.1 156.1L516.3 156M403.3 164.5L408.5 164.3L413.6 164.2L418.8 164.1L424 164L429.2 163.8L434.3 163.5L439.5 163.3L444.6 163.2L449.7 163.1L454.8 163.1L459.9 162.9L465 162.6L470.1 162.2L475.1 162L480.2 161.9L485.3 161.8L490.4 161.7L495.6 161.5L500.7 161.2L505.9 161L511.1 160.9L516.3 160.7M403.2 169.5L408.4 169.3L413.5 169.2L418.7 169L423.8 168.9L429 168.7L434.1 168.5L439.3 168.3L444.4 168.1L449.6 168L454.7 167.8L459.8 167.6L464.9 167.4L470 167.2L475.1 167L480.2 166.8L485.4 166.6L490.5 166.4L495.6 166.2L500.8 166L505.9 165.8L511.1 165.7L516.2 165.5M403.1 174.5L408.2 174.3L413.4 174.2L418.5 174L423.7 173.8L428.8 173.6L433.9 173.4L439.1 173.3L444.2 173.1L449.4 172.9L454.5 172.7L459.7 172.5L464.8 172.3L469.9 172.1L475.1 171.9L480.2 171.7L485.4 171.5L490.5 171.3L495.6 171.1L500.8 170.9L505.9 170.6L511.1 170.4L516.2 170.2" fill="none" stroke="#000" stroke-width="0.65"/>
<path d="M393.5 60.7H519.5V186.8H393.5ZM409.7 186.8v4.8M393.5 61.5h-5.4M436.1 186.8v4.8M393.5 89.2h-5.4M462.6 186.8v4.8M393.5 116.8h-5.4M489 186.8v4.8M393.5 144.4h-5.4M515.5 186.8v4.8M393.5 172.1h-5.4" fill="none" stroke="#333" stroke-width="0.75"/>
<text x="409.7" y="204.4" font-family="'Liberation Sans',sans-serif" font-size="7.6" fill="#111" stroke="#111" stroke-width="0.3" text-anchor="middle">-0.2</text>
<text transform="translate(380.5 61.8) rotate(-90)" font-family="'Liberation Sans',sans-serif" font-size="7.6" fill="#111" stroke="#111" stroke-width="0.3" text-anchor="middle">0.2</text>
<text x="436.1" y="204.4" font-family="'Liberation Sans',sans-serif" font-size="7.6" fill="#111" stroke="#111" stroke-width="0.3" text-anchor="middle">-0.1</text>
<text transform="translate(380.5 89.5) rotate(-90)" font-family="'Liberation Sans',sans-serif" font-size="7.6" fill="#111" stroke="#111" stroke-width="0.3" text-anchor="middle">0.1</text>
<text x="462.6" y="204.4" font-family="'Liberation Sans',sans-serif" font-size="7.6" fill="#111" stroke="#111" stroke-width="0.3" text-anchor="middle">0.0</text>
<text transform="translate(380.5 117.1) rotate(-90)" font-family="'Liberation Sans',sans-serif" font-size="7.6" fill="#111" stroke="#111" stroke-width="0.3" text-anchor="middle">0.0</text>
<text x="489" y="204.4" font-family="'Liberation Sans',sans-serif" font-size="7.6" fill="#111" stroke="#111" stroke-width="0.3" text-anchor="middle">0.1</text>
<text transform="translate(380.5 144.8) rotate(-90)" font-family="'Liberation Sans',sans-serif" font-size="7.6" fill="#111" stroke="#111" stroke-width="0.3" text-anchor="middle">-0.1</text>
<text x="515.5" y="204.4" font-family="'Liberation Sans',sans-serif" font-size="7.6" fill="#111" stroke="#111" stroke-width="0.3" text-anchor="middle">0.2</text>
<text transform="translate(380.5 172.4) rotate(-90)" font-family="'Liberation Sans',sans-serif" font-size="7.6" fill="#111" stroke="#111" stroke-width="0.3" text-anchor="middle">-0.2</text>
<g fill="#61D04F"><circle cx="462.7" cy="68.7" r="2.9"/><circle cx="449.2" cy="71.1" r="2.9"/><circle cx="476.2" cy="71.1" r="2.9"/><circle cx="438.6" cy="76.3" r="2.9"/><circle cx="486.8" cy="76.3" r="2.9"/><circle cx="432.2" cy="86.7" r="2.9"/><circle cx="493.2" cy="86.7" r="2.9"/><circle cx="428.9" cy="98.9" r="2.9"/><circle cx="496.5" cy="98.9" r="2.9"/><circle cx="427.3" cy="110.6" r="2.9"/><circle cx="498.1" cy="110.6" r="2.9"/><circle cx="427.1" cy="122.6" r="2.9"/><circle cx="498.3" cy="122.6" r="2.9"/><circle cx="428.8" cy="134.7" r="2.9"/><circle cx="496.6" cy="134.7" r="2.9"/><circle cx="432.1" cy="147.7" r="2.9"/><circle cx="493.3" cy="147.7" r="2.9"/><circle cx="439.4" cy="158.7" r="2.9"/><circle cx="486" cy="158.7" r="2.9"/><circle cx="449.5" cy="166.8" r="2.9"/><circle cx="475.9" cy="166.8" r="2.9"/><circle cx="462.7" cy="171.2" r="2.9"/><circle cx="434.9" cy="100.4" r="2.9"/><circle cx="489.7" cy="100.3" r="2.9"/><circle cx="439.4" cy="98.1" r="2.9"/><circle cx="485.4" cy="98.2" r="2.9"/><circle cx="443.9" cy="96.6" r="2.9"/><circle cx="481.4" cy="97.3" r="2.9"/><circle cx="448.8" cy="97.7" r="2.9"/><circle cx="476.8" cy="97.1" r="2.9"/><circle cx="453.2" cy="99.2" r="2.9"/><circle cx="472.8" cy="99.9" r="2.9"/><circle cx="438.2" cy="101.8" r="2.9"/><circle cx="486.8" cy="101.8" r="2.9"/><circle cx="442" cy="100.9" r="2.9"/><circle cx="483.3" cy="101.1" r="2.9"/><circle cx="446.8" cy="101.3" r="2.9"/><circle cx="478.8" cy="101" r="2.9"/><circle cx="451" cy="102.4" r="2.9"/><circle cx="474.5" cy="101.5" r="2.9"/><circle cx="448.8" cy="104" r="2.9"/><circle cx="476.6" cy="104.1" r="2.9"/><circle cx="439.6" cy="108.6" r="2.9"/><circle cx="486.1" cy="107.8" r="2.9"/><circle cx="442.9" cy="106.2" r="2.9"/><circle cx="482.1" cy="106.1" r="2.9"/><circle cx="447" cy="104.9" r="2.9"/><circle cx="478.2" cy="105.5" r="2.9"/><circle cx="451.1" cy="105.9" r="2.9"/><circle cx="474.5" cy="106" r="2.9"/><circle cx="442.6" cy="110.5" r="2.9"/><circle cx="482.3" cy="110.4" r="2.9"/><circle cx="447" cy="110.8" r="2.9"/><circle cx="478.4" cy="110.5" r="2.9"/><circle cx="450.7" cy="109.8" r="2.9"/><circle cx="474.4" cy="110" r="2.9"/><circle cx="447.1" cy="108.1" r="2.9"/><circle cx="477.9" cy="107.9" r="2.9"/><circle cx="454.2" cy="108.8" r="2.9"/><circle cx="470.9" cy="108.8" r="2.9"/><circle cx="457.3" cy="109.5" r="2.9"/><circle cx="468.5" cy="109.8" r="2.9"/><circle cx="455.7" cy="112.9" r="2.3"/><circle cx="469.4" cy="112.7" r="2.3"/><circle cx="455.6" cy="117.1" r="2.3"/><circle cx="469.5" cy="117.1" r="2.3"/><circle cx="454.9" cy="120.8" r="2.3"/><circle cx="470.7" cy="120.9" r="2.3"/><circle cx="453.4" cy="124.9" r="2.3"/><circle cx="471.5" cy="124.2" r="2.3"/><circle cx="452.1" cy="128.2" r="2.3"/><circle cx="473.3" cy="128.4" r="2.3"/><circle cx="451.8" cy="130.7" r="2.9"/><circle cx="473.3" cy="130.8" r="2.9"/><circle cx="455.4" cy="131.7" r="2.9"/><circle cx="470.2" cy="131.8" r="2.9"/><circle cx="458.5" cy="133.1" r="2.9"/><circle cx="466.5" cy="133.1" r="2.9"/><circle cx="462.6" cy="133.8" r="2.9"/><circle cx="447.9" cy="141.2" r="2.9"/><circle cx="476.9" cy="141.2" r="2.9"/><circle cx="452.9" cy="140.1" r="2.9"/><circle cx="472.8" cy="140.1" r="2.9"/><circle cx="457.8" cy="139.6" r="2.9"/><circle cx="467.4" cy="138.7" r="2.9"/><circle cx="462.7" cy="140.3" r="2.9"/><circle cx="450.8" cy="144.4" r="2.9"/><circle cx="475.1" cy="143.9" r="2.9"/><circle cx="454.2" cy="148.2" r="2.9"/><circle cx="471.6" cy="147.4" r="2.9"/><circle cx="458.3" cy="149.7" r="2.9"/><circle cx="467.2" cy="149.5" r="2.9"/><circle cx="462.7" cy="150" r="2.9"/></g>
<g fill="#DF536B"><circle cx="462.7" cy="68" r="3.1"/><circle cx="449.4" cy="70.4" r="3.1"/><circle cx="476" cy="70.4" r="3.1"/><circle cx="438.9" cy="75.7" r="3.1"/><circle cx="486.5" cy="75.7" r="3.1"/><circle cx="432.5" cy="86" r="3.1"/><circle cx="492.9" cy="86" r="3.1"/><circle cx="429.1" cy="98.5" r="3.1"/><circle cx="496.3" cy="98.5" r="3.1"/><circle cx="427.5" cy="110.2" r="3.1"/><circle cx="497.9" cy="110.2" r="3.1"/><circle cx="427.8" cy="122" r="3.1"/><circle cx="497.6" cy="122" r="3.1"/><circle cx="429.8" cy="133.7" r="3.1"/><circle cx="495.6" cy="133.7" r="3.1"/><circle cx="433.1" cy="146.5" r="3.1"/><circle cx="492.3" cy="146.5" r="3.1"/><circle cx="440.1" cy="157.5" r="3.1"/><circle cx="485.3" cy="157.5" r="3.1"/><circle cx="449.9" cy="165.6" r="3.1"/><circle cx="475.5" cy="165.6" r="3.1"/><circle cx="462.7" cy="170" r="3.1"/><circle cx="435.5" cy="100.7" r="3.0"/><circle cx="489.4" cy="100.6" r="3.0"/><circle cx="439.9" cy="98.2" r="3.0"/><circle cx="485" cy="98.6" r="3.0"/><circle cx="444.3" cy="97.3" r="3.0"/><circle cx="481.1" cy="97.8" r="3.0"/><circle cx="449.1" cy="98" r="3.0"/><circle cx="476.8" cy="97.7" r="3.0"/><circle cx="453" cy="99.7" r="3.0"/><circle cx="472.6" cy="100" r="3.0"/><circle cx="438.6" cy="102.1" r="3.0"/><circle cx="486.8" cy="101.9" r="3.0"/><circle cx="442.4" cy="101.5" r="3.0"/><circle cx="482.9" cy="101.3" r="3.0"/><circle cx="446.8" cy="101.4" r="3.0"/><circle cx="478.8" cy="101.5" r="3.0"/><circle cx="451.1" cy="102.6" r="3.0"/><circle cx="474.3" cy="102.1" r="3.0"/><circle cx="449.1" cy="104.2" r="3.0"/><circle cx="476.3" cy="104.4" r="3.0"/><circle cx="440" cy="108.9" r="3.0"/><circle cx="485.6" cy="108.4" r="3.0"/><circle cx="443.4" cy="106.6" r="3.0"/><circle cx="481.9" cy="106.2" r="3.0"/><circle cx="447.1" cy="105.2" r="3.0"/><circle cx="477.9" cy="105.6" r="3.0"/><circle cx="451" cy="106.5" r="3.0"/><circle cx="474.1" cy="106.4" r="3.0"/><circle cx="442.9" cy="110.7" r="3.0"/><circle cx="482.2" cy="110.6" r="3.0"/><circle cx="447" cy="111.2" r="3.0"/><circle cx="478.4" cy="111" r="3.0"/><circle cx="451" cy="110.2" r="3.0"/><circle cx="474" cy="110.3" r="3.0"/><circle cx="447" cy="108.3" r="3.0"/><circle cx="477.9" cy="108.5" r="3.0"/><circle cx="454.2" cy="109.2" r="3.0"/><circle cx="470.9" cy="109" r="3.0"/><circle cx="457.4" cy="110.1" r="3.0"/><circle cx="468.2" cy="110" r="3.0"/><circle cx="456.5" cy="113.3" r="2.4"/><circle cx="468.9" cy="113" r="2.4"/><circle cx="456.3" cy="117.3" r="2.4"/><circle cx="469.2" cy="117.3" r="2.4"/><circle cx="455.8" cy="121.1" r="2.4"/><circle cx="469.9" cy="121.1" r="2.4"/><circle cx="454.2" cy="125" r="2.4"/><circle cx="470.9" cy="124.6" r="2.4"/><circle cx="453" cy="128.7" r="2.4"/><circle cx="472.6" cy="128.5" r="2.4"/><circle cx="452.2" cy="131.5" r="3.0"/><circle cx="472.7" cy="131.7" r="3.0"/><circle cx="455.8" cy="132.9" r="3.0"/><circle cx="469.9" cy="132.9" r="3.0"/><circle cx="458.8" cy="134.2" r="3.0"/><circle cx="466.2" cy="134.2" r="3.0"/><circle cx="462.4" cy="134.6" r="3.0"/><circle cx="448.5" cy="142.1" r="3.0"/><circle cx="476.7" cy="142.2" r="3.0"/><circle cx="453.4" cy="141.1" r="3.0"/><circle cx="472.4" cy="141.1" r="3.0"/><circle cx="457.9" cy="140.6" r="3.0"/><circle cx="467.3" cy="140.2" r="3.0"/><circle cx="462.7" cy="141.3" r="3.0"/><circle cx="451" cy="145.2" r="3.0"/><circle cx="474.7" cy="144.9" r="3.0"/><circle cx="454.5" cy="149" r="3.0"/><circle cx="471.3" cy="148.4" r="3.0"/><circle cx="458.3" cy="150.6" r="3.0"/><circle cx="466.9" cy="150.7" r="3.0"/><circle cx="462.7" cy="150.8" r="3.0"/></g>
<path d="M462.7 68.6l-0.2 -3.4M462.7 68.6l1.8 -3M449.2 71l-0.4 -3.5M449.2 71l1.6 -3.1M476.2 71l-1.9 -3.4M476.2 71l0.3 -3.9M438.7 76.2l1.1 -3.6M438.7 76.2l2.9 -2.4M486.7 76.2l-2.5 -2.3M486.7 76.2l-0.8 -3.3M432.2 86.5l1.6 -3.7M432.2 86.5l3.4 -2.2M493.2 86.5l-1.9 -2.6M493.2 86.5l-0.1 -3.2M428.8 99l1.3 -3.7M428.8 99l3.1 -2.3M496.6 99l-2.7 -2.2M496.6 99l-1.1 -3.3M427.2 110.7l0.8 -3.4M427.2 110.7l2.6 -2.3M498.2 110.7l-2.2 -2.8M498.2 110.7l-0.3 -3.6M427.4 122.4l2.2 -3.1M427.4 122.4l3.5 -1.3M498 122.4l-2.5 -2M498 122.4l-1 -3.1M429.4 134.1l1 -3.2M429.4 134.1l2.6 -2.1M496 134.1l-3 -1.6M496 134.1l-1.6 -3M432.7 147l2.2 -3.7M432.7 147l3.9 -1.8M492.7 147l-3.1 -1.8M492.7 147l-1.5 -3.2M439.8 158.1l0.6 -3.4M439.8 158.1l2.4 -2.5M485.6 158.1l-3.4 -2.4M485.6 158.1l-1.5 -3.9M449.7 166.1l0.3 -4M449.7 166.1l2.5 -3.1M475.7 166.1l-1.2 -3.3M475.7 166.1l0.8 -3.4M462.7 170.6l-0.8 -3.3M462.7 170.6l1.2 -3.2M435 100.5l2.8 1.1M435 100.5l1.7 2.5M489.8 100.2l-2.4 3.3M489.8 100.2l-3.8 1.4M439.3 98.1l3 -0.2M439.3 98.1l2.6 1.5M485.5 98.2l-2.2 3.2M485.5 98.2l-3.6 1.4M443.9 96.8l2.8 2.1M443.9 96.8l1.2 3.3M481.4 97.3l-1.1 3.4M481.4 97.3l-2.8 2.2M448.6 97.6l2.5 1.9M448.6 97.6l1 2.9M476.8 97.1l0.4 3.2M476.8 97.1l-1.5 2.9M453.2 99.1l0.6 3.1M453.2 99.1l-1.3 2.9M473.2 99.8l-2.9 1.8M473.2 99.8l-3.4 -0.1M438.1 101.7l3.3 1.2M438.1 101.7l2 2.8M487 101.3l0.6 3.6M487 101.3l-1.5 3.3M442.1 101l3.4 2.4M442.1 101l1.5 4M483.4 101l-1.6 2.3M483.4 101l-2.6 1M446.8 100.8l1.6 2.9M446.8 100.8l-0.3 3.3M478.8 100.9l2 3.4M478.8 100.9l-0.2 3.9M450.9 102l2 3M450.9 102l-0.1 3.6M474.5 101.6l-0.4 3.4M474.5 101.6l-2.2 2.6M448.7 103.8l3.5 1.3M448.7 103.8l2.2 3.1M476.7 104l-1.2 2.7M476.7 104l-2.5 1.6M439.5 108.5l3.4 1.2M439.5 108.5l2.1 2.9M486 107.9l-0.5 3.2M486 107.9l-2.2 2.4M442.9 106.2l3.3 0.9M442.9 106.2l2.3 2.5M482.3 105.8l-1.1 2.8M482.3 105.8l-2.5 1.7M447 104.6l2.2 2.8M447 104.6l0.3 3.6M478.4 105.3l-2.5 2.8M478.4 105.3l-3.6 0.9M451.1 105.9l-0.1 4M451.1 105.9l-2.3 3.3M474.6 106l-1.6 2.7M474.6 106l-2.9 1.4M442.4 110.3l2.7 1.6M442.4 110.3l1.3 2.8M482.4 110l0.1 3.4M482.4 110l-1.8 2.9M447 110.6l1.9 3.1M447 110.6l-0.2 3.6M478.4 110.4l0.6 3.2M478.4 110.4l-1.3 3M450.7 109.7l2.7 2.5M450.7 109.7l0.8 3.6M474.5 110l-1.9 2M474.5 110l-2.7 0.6M447.3 107.8l-1.2 3.6M447.3 107.8l-3 2.3M477.9 107.9l1.6 3.5M477.9 107.9l-0.6 3.8M454.2 108.6l0.7 3.5M454.2 108.6l-1.4 3.3M471 108.5l-0.3 3.7M471 108.5l-2.4 2.9M457.3 109.5l1.2 2.9M457.3 109.5l-0.6 3.1M468.6 109.6l-2 3.1M468.6 109.6l-3.4 1.5M455.9 113l3 0.5M455.9 113l2.2 2M469.4 112.7l-2.3 2.9M469.4 112.7l-3.6 1.1M455.7 117.1l3.1 0.1M455.7 117.1l2.5 1.8M469.6 116.9l-1.1 2.7M469.6 116.9l-2.5 1.6M455.2 120.9l3.4 -0.1M455.2 120.9l2.9 1.8M470.5 120.9l-2.7 1.7M470.5 120.9l-3.3 -0.1M453.6 124.9l4 -0.9M453.6 124.9l3.8 1.5M471.4 124.3l-1.4 2.5M471.4 124.3l-2.6 1.2M452.5 128.4l3.9 0.3M452.5 128.4l3.1 2.4M473.2 128.4l-2.9 1.8M473.2 128.4l-3.4 -0.1M451.9 131l2.4 2.5M451.9 131l0.6 3.4M473 131.2l-1.4 3.3M473 131.2l-3.1 2M455.6 132.4l1.5 3.1M455.6 132.4l-0.5 3.4M470 132.3l0.2 3.7M470 132.3l-1.9 3.1M458.7 133.7l2.3 2.8M458.7 133.7l0.3 3.6M466.3 133.6l-0.8 3.5M466.3 133.6l-2.6 2.5M462.6 134l0.5 3.1M462.6 134l-1.3 2.9M448.2 141.6l2.5 2.4M448.2 141.6l0.7 3.4M476.8 141.6l0.8 3.6M476.8 141.6l-1.4 3.4M453.1 140.5l2.1 2.5M453.1 140.5l0.3 3.2M472.6 140.6l0.2 3.2M472.6 140.6l-1.7 2.7M457.8 140l1.5 3.3M457.8 140l-0.6 3.6M467.4 139.6l0.9 3.6M467.4 139.6l-1.3 3.5M462.7 140.7l1.7 2.9M462.7 140.7l-0.2 3.3M450.9 144.6l1.9 3.1M450.9 144.6l-0.1 3.6M474.9 144.3l0.6 3.2M474.9 144.3l-1.3 3M454.3 148.5l2.1 2.8M454.3 148.5l0.2 3.5M471.5 147.8l0.1 3.2M471.5 147.8l-1.7 2.7M458.3 150l1.8 3.1M458.3 150l-0.2 3.6M467.1 150.1l-0.3 3.7M467.1 150.1l-2.4 2.9M462.7 150.2l0.7 3.2M462.7 150.2l-1.2 3.1" fill="none" stroke="#2297E6" stroke-width="0.58" stroke-linecap="round" opacity="0.95"/>
</g>
<g>
<path d="M573.1 66L572.9 70.6L572.8 75.3L572.7 79.9L572.6 84.6L572.5 89.2L572.4 93.9L572.4 98.5L572.4 103.2L572.5 107.8L572.5 112.5L572.6 117.1L572.7 121.7L572.8 126.4L573 131L573.2 135.7L573.4 140.3L573.6 145L573.9 149.6L574.2 154.3L574.5 158.9L574.8 163.6L575.2 168.2M578 66L577.8 70.6L577.7 75.3L577.6 80L577.5 84.6L577.5 89.3L577.5 93.9L577.5 98.6L577.5 103.2L577.5 107.9L577.5 112.5L577.6 117.2L577.7 121.9L577.8 126.5L577.9 131.2L578 135.8L578.2 140.5L578.4 145.2L578.7 149.9L579 154.5L579.3 159.2L579.6 163.8L579.9 168.5M582.9 65.9L582.7 70.6L582.6 75.3L582.5 80L582.5 84.7L582.5 89.3L582.5 93.9L582.5 98.5L582.4 103.2L582.5 107.9L582.5 112.6L582.6 117.3L582.7 122L582.7 126.7L582.8 131.3L582.9 135.9L583 140.6L583.2 145.3L583.5 150.1L583.8 154.8L584 159.5L584.3 164.1L584.6 168.7M587.7 65.9L587.6 70.6L587.5 75.3L587.5 80.1L587.4 84.8L587.4 89.4L587.4 94L587.3 98.5L587.4 103.2L587.4 107.9L587.5 112.6L587.5 117.4L587.6 122.1L587.7 126.7L587.7 131.3L587.9 136L588 140.7L588.1 145.5L588.3 150.3L588.5 155L588.7 159.7L589 164.3L589.2 168.9M592.6 65.9L592.5 70.6L592.5 75.3L592.5 80L592.4 84.8L592.3 89.4L592.2 94.1L592.2 98.7L592.3 103.4L592.4 108L592.4 112.6L592.5 117.3L592.5 121.9L592.6 126.6L592.8 131.4L592.9 136.1L593 140.9L593 145.7L593.1 150.4L593.2 155.1L593.4 159.8L593.7 164.5L593.9 169.1M597.5 65.9L597.5 70.6L597.4 75.3L597.4 80L597.3 84.7L597.2 89.5L597.1 94.2L597.1 99L597.2 103.6L597.3 108.1L597.3 112.5L597.4 117L597.5 121.6L597.6 126.5L597.8 131.4L597.9 136.3L597.9 141.2L597.9 146L597.9 150.6L598 155.3L598.2 159.9L598.4 164.6L598.6 169.2M602.4 65.8L602.4 70.6L602.3 75.3L602.3 79.9L602.2 84.7L602.1 89.5L602 94.3L602 99.1L602 103.7L602.1 108.1L602.2 112.5L602.3 116.9L602.5 121.6L602.6 126.5L602.8 131.5L602.8 136.5L602.8 141.4L602.8 146.1L602.9 150.7L602.9 155.3L603 160L603.1 164.7L603.3 169.4M607.3 65.8L607.3 70.5L607.2 75.3L607.1 80L607 84.8L607 89.6L607 94.3L607 99L606.9 103.5L606.9 108L607 112.5L607.3 117.1L607.5 121.8L607.7 126.7L607.7 131.6L607.7 136.5L607.7 141.3L607.7 146L607.8 150.7L607.9 155.4L607.9 160.1L607.9 164.7L607.9 169.4M612.1 65.8L612.2 70.5L612.1 75.3L612.1 80.2L612 84.9L612 89.6L611.9 94.1L611.8 98.6L611.7 103.1L611.7 107.8L611.9 112.6L612.2 117.5L612.4 122.3L612.6 127L612.6 131.7L612.6 136.4L612.7 141.1L612.8 145.8L612.8 150.6L612.8 155.4L612.6 160.1L612.6 164.8L612.6 169.5M617 65.8L617.1 70.5L617.1 75.3L617.1 80.2L617 85L616.9 89.5L616.8 93.9L616.6 98.4L616.6 102.9L616.6 107.8L616.8 112.8L617 117.8L617.2 122.6L617.4 127.2L617.6 131.7L617.7 136.3L617.8 140.9L617.8 145.7L617.7 150.6L617.5 155.4L617.3 160.2L617.2 164.8L617.3 169.5M621.9 65.8L622 70.5L622.1 75.3L622.2 80.1L622.1 84.8L621.8 89.4L621.6 93.9L621.5 98.4L621.5 103.1L621.6 108L621.7 112.9L621.8 117.8L622 122.6L622.3 127.2L622.7 131.7L623 136.3L623 141L622.8 145.8L622.5 150.6L622.2 155.4L622 160.1L621.9 164.8L622 169.4M626.8 65.8L626.9 70.5L627.1 75.2L627.1 79.8L627 84.5L626.8 89.2L626.5 93.9L626.4 98.7L626.4 103.5L626.5 108.3L626.5 112.9L626.7 117.6L626.9 122.2L627.4 126.9L627.8 131.6L628 136.4L628 141.2L627.6 146L627.2 150.7L626.8 155.3L626.7 160L626.6 164.7L626.6 169.4M631.7 65.8L631.8 70.5L631.9 75.1L631.9 79.6L631.8 84.2L631.7 89.1L631.5 94L631.4 99L631.4 103.9L631.4 108.5L631.5 112.9L631.7 117.3L632.1 121.9L632.5 126.7L632.8 131.6L632.9 136.6L632.6 141.4L632.3 146.1L631.9 150.7L631.6 155.3L631.5 159.9L631.4 164.5L631.3 169.3M636.6 65.8L636.7 70.5L636.8 75L636.8 79.6L636.7 84.2L636.6 89.1L636.5 94L636.4 99L636.3 103.8L636.4 108.4L636.6 112.8L636.9 117.3L637.3 121.9L637.6 126.7L637.6 131.6L637.4 136.5L637.2 141.3L636.9 146L636.7 150.6L636.5 155.1L636.3 159.7L636.1 164.4L636 169.1M641.4 65.8L641.6 70.5L641.7 75.1L641.7 79.7L641.6 84.4L641.6 89.1L641.5 93.9L641.4 98.6L641.4 103.4L641.5 108.1L641.8 112.8L642.2 117.5L642.4 122.2L642.4 127L642.3 131.7L642 136.4L641.8 141L641.7 145.7L641.6 150.3L641.4 154.9L641.1 159.5L640.9 164.2L640.7 169M646.3 65.8L646.5 70.5L646.7 75.2L646.7 79.9L646.7 84.6L646.6 89.2L646.5 93.7L646.4 98.3L646.5 103L646.7 107.8L647 112.8L647.2 117.7L647.3 122.5L647.1 127.2L646.9 131.7L646.8 136.2L646.7 140.7L646.6 145.3L646.4 150L646.2 154.6L645.8 159.3L645.5 164L645.3 168.8M651.2 65.9L651.4 70.5L651.6 75.2L651.7 79.9L651.7 84.6L651.6 89.1L651.5 93.6L651.5 98.1L651.6 102.8L651.8 107.7L651.9 112.7L652 117.7L652 122.5L651.9 127.1L651.8 131.6L651.7 136L651.7 140.5L651.5 145L651.2 149.7L650.8 154.4L650.5 159.1L650.2 163.8L650 168.5M656.1 65.9L656.3 70.5L656.5 75.2L656.6 79.9L656.7 84.5L656.7 89.1L656.7 93.6L656.7 98.2L656.8 102.9L656.8 107.7L656.8 112.6L656.7 117.4L656.7 122.1L656.7 126.7L656.8 131.3L656.7 135.8L656.6 140.3L656.3 144.8L655.9 149.5L655.5 154.1L655.2 158.9L655 163.6L654.7 168.2M661 65.9L661.1 70.5L661.3 75.2L661.5 79.8L661.6 84.4L661.7 89L661.8 93.7L661.9 98.4L661.9 103.1L661.8 107.8L661.7 112.4L661.6 117.1L661.6 121.7L661.6 126.3L661.7 131L661.6 135.6L661.3 140.1L661 144.7L660.6 149.3L660.3 153.9L660 158.6L659.7 163.3L659.4 167.9M665.8 65.9L666 70.5L666.2 75.1L666.4 79.7L666.6 84.3L666.7 89L666.8 93.7L666.9 98.4L666.8 103.1L666.8 107.7L666.7 112.2L666.6 116.8L666.6 121.4L666.6 126L666.5 130.6L666.3 135.3L666 139.9L665.7 144.5L665.4 149.1L665.1 153.7L664.8 158.3L664.4 162.9L664 167.6M670.7 66L671 70.6L671.2 75.1L671.3 79.7L671.5 84.3L671.6 89L671.7 93.6L671.8 98.3L671.8 102.9L671.8 107.5L671.7 112L671.7 116.6L671.6 121.2L671.4 125.8L671.3 130.4L671 135L670.8 139.6L670.5 144.2L670.2 148.8L669.9 153.4L669.5 158L669.1 162.6L668.7 167.2M675.6 66L675.9 70.6L676.1 75.2L676.3 79.7L676.4 84.3L676.6 88.9L676.7 93.5L676.7 98.1L676.7 102.7L676.7 107.2L676.7 111.8L676.6 116.4L676.5 121L676.3 125.6L676.1 130.1L675.9 134.7L675.7 139.3L675.4 143.9L675 148.5L674.7 153.1L674.3 157.6L673.9 162.2L673.4 166.8M573.1 66L577.8 66L582.4 65.9L587.1 65.9L591.7 65.9L596.4 65.9L601.1 65.8L605.7 65.8L610.4 65.8L615 65.8L619.7 65.8L624.4 65.8L629 65.8L633.7 65.8L638.3 65.8L643 65.8L647.6 65.8L652.3 65.9L657 65.9L661.6 65.9L666.3 65.9L670.9 66L675.6 66M572.9 71.1L577.6 71.1L582.3 71.1L586.9 71.1L591.6 71.1L596.3 71L601 71L605.7 71L610.4 71L615.1 71L619.8 71L624.5 71L629.2 71L633.9 70.9L638.5 70.9L643.2 70.9L647.9 71L652.5 71L657.2 71L661.8 71L666.5 71L671.2 71L675.9 71M572.8 76.2L577.4 76.2L582.1 76.2L586.8 76.3L591.6 76.3L596.3 76.2L601 76.2L605.6 76.2L610.3 76.3L615.1 76.3L619.9 76.3L624.6 76.2L629.3 76L633.9 75.9L638.6 76L643.3 76L648 76.1L652.7 76.2L657.4 76.1L662 76.1L666.7 76L671.4 76.1L676.1 76.1M572.6 81.3L577.3 81.3L582 81.4L586.8 81.5L591.6 81.5L596.3 81.4L600.9 81.3L605.5 81.4L610.2 81.5L615 81.6L619.9 81.6L624.6 81.4L629.3 81.1L633.9 80.9L638.5 81L643.3 81.2L648.1 81.3L652.8 81.3L657.5 81.2L662.2 81.1L666.9 81.1L671.6 81.1L676.3 81.1M572.5 86.4L577.3 86.5L582 86.5L586.7 86.6L591.5 86.6L596.1 86.6L600.8 86.6L605.5 86.6L610.2 86.8L615 86.8L619.7 86.7L624.4 86.5L629.1 86.2L633.8 86.1L638.5 86.2L643.2 86.3L648 86.4L652.8 86.4L657.6 86.3L662.3 86.2L667.1 86.2L671.8 86.2L676.5 86.2M572.5 91.5L577.2 91.6L582 91.6L586.7 91.7L591.4 91.7L596 91.8L600.7 91.9L605.4 91.9L610.2 91.9L614.8 91.8L619.5 91.7L624.2 91.6L628.9 91.5L633.7 91.5L638.4 91.5L643.1 91.5L647.9 91.4L652.7 91.4L657.6 91.3L662.5 91.3L667.2 91.3L671.9 91.3L676.6 91.2M572.4 96.7L577.2 96.7L582 96.7L586.7 96.7L591.3 96.8L596 97.1L600.7 97.2L605.4 97.2L610.1 96.9L614.7 96.6L619.3 96.5L624 96.7L628.7 96.9L633.5 97L638.3 96.9L643 96.6L647.8 96.4L652.7 96.3L657.6 96.4L662.5 96.5L667.3 96.5L672 96.4L676.7 96.2M572.4 101.8L577.2 101.8L582 101.8L586.7 101.8L591.4 101.9L596 102.2L600.7 102.4L605.4 102.3L610 101.9L614.6 101.6L619.2 101.6L623.9 101.9L628.7 102.3L633.4 102.4L638.2 102.2L643 101.8L647.8 101.5L652.8 101.4L657.7 101.6L662.6 101.7L667.3 101.7L672 101.5L676.7 101.3M572.5 106.9L577.3 106.9L582 106.9L586.7 106.9L591.5 107L596.1 107.2L600.8 107.3L605.3 107.2L609.9 106.9L614.6 106.8L619.3 106.9L624 107.2L628.7 107.5L633.4 107.5L638.2 107.3L643.1 107L648 106.8L652.9 106.7L657.7 106.8L662.5 106.8L667.2 106.8L672 106.6L676.7 106.3M572.5 112L577.3 112.1L582 112.1L586.8 112.2L591.5 112.2L596.2 112.1L600.8 112L605.5 112L610.1 112.1L614.8 112.2L619.5 112.4L624.1 112.5L628.8 112.5L633.5 112.4L638.4 112.3L643.4 112.3L648.3 112.2L653.1 112.2L657.7 112.1L662.4 111.9L667.1 111.8L672 111.6L676.7 111.4M572.6 117.1L577.4 117.2L582.1 117.3L586.9 117.4L591.6 117.3L596.3 117.1L601 116.9L605.7 117L610.4 117.3L615.1 117.7L619.6 117.9L624.2 117.7L628.9 117.4L633.8 117.3L638.9 117.4L643.8 117.6L648.5 117.7L653.1 117.6L657.6 117.3L662.3 117L667.1 116.8L671.9 116.6L676.6 116.4M572.7 122.2L577.5 122.3L582.2 122.5L586.9 122.5L591.6 122.4L596.3 122.2L601.1 122L605.9 122.2L610.7 122.6L615.3 123L619.9 123.1L624.5 122.9L629.3 122.5L634.3 122.3L639.2 122.5L644 122.8L648.5 123L653 122.9L657.6 122.5L662.3 122.1L667.1 121.8L671.8 121.6L676.5 121.4M572.9 127.3L577.6 127.4L582.3 127.6L587 127.6L591.7 127.6L596.5 127.5L601.3 127.4L606.1 127.6L610.8 127.9L615.5 128.1L620.1 128.1L624.9 128L629.8 127.7L634.7 127.7L639.4 127.8L643.9 128L648.4 128.1L653 127.9L657.6 127.6L662.3 127.2L667 126.9L671.6 126.7L676.3 126.5M573.1 132.4L577.7 132.6L582.4 132.7L587.1 132.7L591.9 132.8L596.7 132.9L601.4 133L606.1 133L610.8 133.1L615.5 133.1L620.4 133.1L625.4 133.1L630.2 133.1L634.8 133.1L639.2 133.1L643.7 133.1L648.2 133L652.9 132.8L657.7 132.6L662.3 132.3L666.9 132L671.4 131.7L676.1 131.5M573.3 137.5L577.8 137.7L582.5 137.8L587.2 137.9L592 138L596.8 138.2L601.5 138.4L606.1 138.4L610.8 138.3L615.7 138.1L620.6 138.1L625.6 138.3L630.2 138.4L634.7 138.5L639 138.4L643.4 138.2L648.1 137.9L652.9 137.7L657.6 137.6L662.1 137.4L666.6 137.1L671.2 136.8L675.8 136.6M573.5 142.6L578.1 142.8L582.7 143L587.4 143.1L592.1 143.3L596.8 143.5L601.5 143.7L606.1 143.7L610.9 143.5L615.8 143.3L620.6 143.3L625.4 143.5L629.9 143.7L634.3 143.7L638.7 143.6L643.3 143.2L648 142.9L652.7 142.7L657.3 142.5L661.8 142.4L666.3 142.2L670.9 141.9L675.5 141.6M573.8 147.8L578.4 148L583 148.2L587.6 148.3L592.2 148.5L596.8 148.7L601.5 148.9L606.2 148.9L611 148.8L615.8 148.7L620.4 148.6L625 148.7L629.5 148.8L634 148.8L638.6 148.6L643.2 148.3L647.8 148L652.4 147.7L656.9 147.6L661.4 147.4L666 147.2L670.6 146.9L675.2 146.6M574.1 152.9L578.7 153.1L583.2 153.4L587.8 153.5L592.3 153.7L596.9 153.8L601.6 153.9L606.3 154L611 154L615.6 154L620.1 154L624.6 154L629.1 153.9L633.7 153.8L638.4 153.7L643 153.4L647.6 153.2L652 152.9L656.5 152.7L661 152.5L665.6 152.3L670.2 152L674.8 151.7M574.4 158L579 158.3L583.5 158.5L588 158.7L592.5 158.9L597.1 159L601.7 159L606.3 159.1L610.9 159.2L615.4 159.2L619.9 159.2L624.3 159.1L628.9 159L633.5 158.9L638.1 158.7L642.7 158.5L647.2 158.3L651.6 158.1L656.1 157.9L660.7 157.6L665.3 157.3L669.8 157L674.4 156.7M574.8 163.1L579.3 163.4L583.8 163.6L588.3 163.8L592.8 164L597.3 164.1L601.8 164.2L606.4 164.2L610.8 164.3L615.3 164.4L619.8 164.4L624.3 164.3L628.8 164.1L633.3 164L637.9 163.9L642.4 163.7L646.9 163.5L651.3 163.3L655.8 163L660.4 162.7L664.9 162.4L669.4 162.1L673.9 161.8M575.2 168.2L579.7 168.5L584.1 168.7L588.6 168.9L593.1 169.1L597.5 169.2L602 169.3L606.4 169.4L610.9 169.4L615.4 169.5L619.8 169.4L624.3 169.4L628.8 169.3L633.2 169.2L637.7 169.1L642.2 168.9L646.6 168.7L651.1 168.5L655.5 168.2L660 167.9L664.5 167.6L668.9 167.2L673.4 166.8" fill="none" stroke="#000" stroke-width="0.65"/>
<path d="M555.5 60.6H681.7V186.7H555.5ZM571.9 186.7v4.8M555.5 61.4h-5.4M598.4 186.7v4.8M555.5 89h-5.4M624.8 186.7v4.8M555.5 116.7h-5.4M651.2 186.7v4.8M555.5 144.3h-5.4M677.7 186.7v4.8M555.5 172h-5.4" fill="none" stroke="#333" stroke-width="0.75"/>
<text x="571.9" y="204.3" font-family="'Liberation Sans',sans-serif" font-size="7.6" fill="#111" stroke="#111" stroke-width="0.3" text-anchor="middle">-0.2</text>
<text transform="translate(542.5 61.7) rotate(-90)" font-family="'Liberation Sans',sans-serif" font-size="7.6" fill="#111" stroke="#111" stroke-width="0.3" text-anchor="middle">0.2</text>
<text x="598.4" y="204.3" font-family="'Liberation Sans',sans-serif" font-size="7.6" fill="#111" stroke="#111" stroke-width="0.3" text-anchor="middle">-0.1</text>
<text transform="translate(542.5 89.3) rotate(-90)" font-family="'Liberation Sans',sans-serif" font-size="7.6" fill="#111" stroke="#111" stroke-width="0.3" text-anchor="middle">0.1</text>
<text x="624.8" y="204.3" font-family="'Liberation Sans',sans-serif" font-size="7.6" fill="#111" stroke="#111" stroke-width="0.3" text-anchor="middle">0.0</text>
<text transform="translate(542.5 117) rotate(-90)" font-family="'Liberation Sans',sans-serif" font-size="7.6" fill="#111" stroke="#111" stroke-width="0.3" text-anchor="middle">0.0</text>
<text x="651.2" y="204.3" font-family="'Liberation Sans',sans-serif" font-size="7.6" fill="#111" stroke="#111" stroke-width="0.3" text-anchor="middle">0.1</text>
<text transform="translate(542.5 144.7) rotate(-90)" font-family="'Liberation Sans',sans-serif" font-size="7.6" fill="#111" stroke="#111" stroke-width="0.3" text-anchor="middle">-0.1</text>
<text x="677.7" y="204.3" font-family="'Liberation Sans',sans-serif" font-size="7.6" fill="#111" stroke="#111" stroke-width="0.3" text-anchor="middle">0.2</text>
<text transform="translate(542.5 172.3) rotate(-90)" font-family="'Liberation Sans',sans-serif" font-size="7.6" fill="#111" stroke="#111" stroke-width="0.3" text-anchor="middle">-0.2</text>
<g fill="#61D04F"><circle cx="624.9" cy="67.3" r="2.9"/><circle cx="611.5" cy="69.8" r="2.9"/><circle cx="638.3" cy="69.8" r="2.9"/><circle cx="601" cy="75" r="2.9"/><circle cx="648.8" cy="75" r="2.9"/><circle cx="594.5" cy="85.3" r="2.9"/><circle cx="655.3" cy="85.3" r="2.9"/><circle cx="591.3" cy="98.2" r="2.9"/><circle cx="658.5" cy="98.2" r="2.9"/><circle cx="589.7" cy="109.9" r="2.9"/><circle cx="660.1" cy="109.9" r="2.9"/><circle cx="589.5" cy="121.3" r="2.9"/><circle cx="660.3" cy="121.3" r="2.9"/><circle cx="591.3" cy="132.7" r="2.9"/><circle cx="658.5" cy="132.7" r="2.9"/><circle cx="594.9" cy="145.3" r="2.9"/><circle cx="654.9" cy="145.3" r="2.9"/><circle cx="602.2" cy="156.3" r="2.9"/><circle cx="647.6" cy="156.3" r="2.9"/><circle cx="612" cy="164.4" r="2.9"/><circle cx="637.8" cy="164.4" r="2.9"/><circle cx="624.9" cy="168.8" r="2.9"/><circle cx="597.7" cy="101.3" r="2.9"/><circle cx="651.8" cy="100.6" r="2.9"/><circle cx="601.9" cy="99" r="2.9"/><circle cx="647.5" cy="99.4" r="2.9"/><circle cx="606.6" cy="98.5" r="2.9"/><circle cx="643" cy="98.6" r="2.9"/><circle cx="611.1" cy="99" r="2.9"/><circle cx="638.7" cy="99.2" r="2.9"/><circle cx="614.9" cy="99.9" r="2.9"/><circle cx="634.7" cy="100.7" r="2.9"/><circle cx="600.7" cy="101.8" r="2.9"/><circle cx="649.2" cy="101.6" r="2.9"/><circle cx="605.1" cy="101.2" r="2.9"/><circle cx="645.1" cy="101.4" r="2.9"/><circle cx="609.2" cy="101.3" r="2.9"/><circle cx="640.6" cy="101.1" r="2.9"/><circle cx="612.8" cy="102.2" r="2.9"/><circle cx="636.9" cy="102.2" r="2.9"/><circle cx="611.7" cy="103.3" r="2.9"/><circle cx="638.5" cy="103.6" r="2.9"/><circle cx="602.6" cy="109.1" r="2.9"/><circle cx="647.2" cy="108.2" r="2.9"/><circle cx="605.5" cy="106.3" r="2.9"/><circle cx="644.1" cy="106.6" r="2.9"/><circle cx="609.4" cy="105.2" r="2.9"/><circle cx="640.1" cy="105" r="2.9"/><circle cx="613.6" cy="106.4" r="2.9"/><circle cx="636.4" cy="106.6" r="2.9"/><circle cx="604.9" cy="110.8" r="2.9"/><circle cx="644.5" cy="110.3" r="2.9"/><circle cx="609.2" cy="111.3" r="2.9"/><circle cx="640.5" cy="111.4" r="2.9"/><circle cx="613.6" cy="110.5" r="2.9"/><circle cx="636.3" cy="110" r="2.9"/><circle cx="609" cy="108.6" r="2.9"/><circle cx="640.5" cy="108.3" r="2.9"/><circle cx="615.9" cy="109.6" r="2.9"/><circle cx="633.2" cy="108.7" r="2.9"/><circle cx="619.7" cy="110.1" r="2.9"/><circle cx="630.7" cy="109.5" r="2.9"/><circle cx="618.3" cy="113.1" r="2.3"/><circle cx="631.8" cy="113.1" r="2.3"/><circle cx="617.8" cy="116.8" r="2.3"/><circle cx="631.8" cy="117.2" r="2.3"/><circle cx="617" cy="121" r="2.3"/><circle cx="633.1" cy="121.5" r="2.3"/><circle cx="616.4" cy="125" r="2.3"/><circle cx="633.7" cy="125" r="2.3"/><circle cx="614.3" cy="129" r="2.3"/><circle cx="635.1" cy="129.1" r="2.3"/><circle cx="614.4" cy="132.7" r="2.9"/><circle cx="635.8" cy="132.3" r="2.9"/><circle cx="617.4" cy="134" r="2.9"/><circle cx="632.4" cy="134.2" r="2.9"/><circle cx="620.9" cy="135.2" r="2.9"/><circle cx="628.6" cy="135.4" r="2.9"/><circle cx="625.3" cy="135.8" r="2.9"/><circle cx="611" cy="144.2" r="2.9"/><circle cx="638.7" cy="144.1" r="2.9"/><circle cx="615.4" cy="142.6" r="2.9"/><circle cx="634.2" cy="142.2" r="2.9"/><circle cx="619.8" cy="141.7" r="2.9"/><circle cx="630.1" cy="142.3" r="2.9"/><circle cx="625.1" cy="142.5" r="2.9"/><circle cx="613.5" cy="146.3" r="2.9"/><circle cx="636" cy="146.7" r="2.9"/><circle cx="616.6" cy="149.7" r="2.9"/><circle cx="632.8" cy="149.7" r="2.9"/><circle cx="621" cy="151.9" r="2.9"/><circle cx="629.1" cy="151.7" r="2.9"/><circle cx="624.6" cy="152.1" r="2.9"/></g>
<g fill="#DF536B"><circle cx="624.9" cy="68" r="3.1"/><circle cx="611.6" cy="70.4" r="3.1"/><circle cx="638.2" cy="70.4" r="3.1"/><circle cx="601.3" cy="75.7" r="3.1"/><circle cx="648.5" cy="75.7" r="3.1"/><circle cx="594.9" cy="86" r="3.1"/><circle cx="654.9" cy="86" r="3.1"/><circle cx="591.5" cy="98.5" r="3.1"/><circle cx="658.3" cy="98.5" r="3.1"/><circle cx="589.9" cy="110.2" r="3.1"/><circle cx="659.9" cy="110.2" r="3.1"/><circle cx="590.2" cy="122" r="3.1"/><circle cx="659.6" cy="122" r="3.1"/><circle cx="592.3" cy="133.7" r="3.1"/><circle cx="657.5" cy="133.7" r="3.1"/><circle cx="595.9" cy="146.5" r="3.1"/><circle cx="653.9" cy="146.5" r="3.1"/><circle cx="602.9" cy="157.5" r="3.1"/><circle cx="646.9" cy="157.5" r="3.1"/><circle cx="612.4" cy="165.6" r="3.1"/><circle cx="637.4" cy="165.6" r="3.1"/><circle cx="624.9" cy="170" r="3.1"/><circle cx="598.1" cy="100.7" r="3.0"/><circle cx="651.3" cy="100.5" r="3.0"/><circle cx="602.1" cy="99" r="3.0"/><circle cx="647.4" cy="98.8" r="3.0"/><circle cx="606.8" cy="98" r="3.0"/><circle cx="643.1" cy="97.9" r="3.0"/><circle cx="611" cy="98.5" r="3.0"/><circle cx="638.6" cy="98.7" r="3.0"/><circle cx="615.3" cy="99.7" r="3.0"/><circle cx="634.9" cy="100.1" r="3.0"/><circle cx="600.8" cy="101.2" r="3.0"/><circle cx="648.9" cy="101.1" r="3.0"/><circle cx="605.3" cy="100.7" r="3.0"/><circle cx="644.7" cy="101.1" r="3.0"/><circle cx="609.3" cy="100.7" r="3.0"/><circle cx="640.6" cy="101" r="3.0"/><circle cx="613" cy="101.9" r="3.0"/><circle cx="637" cy="101.7" r="3.0"/><circle cx="611.8" cy="103.3" r="3.0"/><circle cx="638.3" cy="103.4" r="3.0"/><circle cx="602.7" cy="108.5" r="3.0"/><circle cx="647.2" cy="108.1" r="3.0"/><circle cx="605.5" cy="106.2" r="3.0"/><circle cx="644" cy="106.2" r="3.0"/><circle cx="609.7" cy="105" r="3.0"/><circle cx="640.1" cy="104.8" r="3.0"/><circle cx="613.6" cy="105.9" r="3.0"/><circle cx="636.2" cy="106" r="3.0"/><circle cx="605.4" cy="110.5" r="3.0"/><circle cx="644.4" cy="110.1" r="3.0"/><circle cx="609.7" cy="110.6" r="3.0"/><circle cx="640.5" cy="111.1" r="3.0"/><circle cx="613.8" cy="110.2" r="3.0"/><circle cx="636.4" cy="109.9" r="3.0"/><circle cx="609.3" cy="108.3" r="3.0"/><circle cx="640.5" cy="107.9" r="3.0"/><circle cx="616.3" cy="109" r="3.0"/><circle cx="633.3" cy="108.5" r="3.0"/><circle cx="620" cy="109.8" r="3.0"/><circle cx="630.3" cy="109.4" r="3.0"/><circle cx="618.6" cy="112.8" r="2.4"/><circle cx="631.3" cy="113" r="2.4"/><circle cx="618.6" cy="116.8" r="2.4"/><circle cx="631.2" cy="116.8" r="2.4"/><circle cx="617.5" cy="120.7" r="2.4"/><circle cx="632.3" cy="120.9" r="2.4"/><circle cx="616.9" cy="124.9" r="2.4"/><circle cx="633.1" cy="124.7" r="2.4"/><circle cx="615.3" cy="128.5" r="2.4"/><circle cx="634.3" cy="128.7" r="2.4"/><circle cx="615" cy="131.7" r="3.0"/><circle cx="635.4" cy="131.6" r="3.0"/><circle cx="617.7" cy="133.2" r="3.0"/><circle cx="631.8" cy="133.5" r="3.0"/><circle cx="621.1" cy="134.2" r="3.0"/><circle cx="628.3" cy="134.2" r="3.0"/><circle cx="625.1" cy="134.5" r="3.0"/><circle cx="611.4" cy="142.8" r="3.0"/><circle cx="638.4" cy="142.7" r="3.0"/><circle cx="615.9" cy="141.4" r="3.0"/><circle cx="633.9" cy="141.1" r="3.0"/><circle cx="620.2" cy="140.7" r="3.0"/><circle cx="629.8" cy="140.8" r="3.0"/><circle cx="625" cy="141.4" r="3.0"/><circle cx="613.8" cy="145.2" r="3.0"/><circle cx="636" cy="145.5" r="3.0"/><circle cx="616.8" cy="148.8" r="3.0"/><circle cx="632.7" cy="148.7" r="3.0"/><circle cx="621" cy="150.7" r="3.0"/><circle cx="629" cy="150.7" r="3.0"/><circle cx="624.7" cy="151" r="3.0"/></g>
<path d="M624.9 67.4l1.4 3.4M624.9 67.4l-0.8 3.6M611.5 69.8l1.5 2.9M611.5 69.8l-0.4 3.2M638.3 69.8l1 3.3M638.3 69.8l-1 3.3M601 75.1l3.2 2.8M601 75.1l1.1 4.1M648.8 75.1l-0.9 3.7M648.8 75.1l-2.8 2.5M594.6 85.5l1.9 2.8M594.6 85.5l-0 3.3M655.2 85.5l0.1 3.3M655.2 85.5l-1.8 2.9M591.2 98l2.4 2.2M591.2 98l0.8 3.2M658.6 98l-1.7 3.8M658.6 98l-3.5 2.2M589.6 109.7l3 2.5M589.6 109.7l1.1 3.8M660.2 109.7l-1.2 3.7M660.2 109.7l-3.1 2.4M589.8 121.5l3.9 1.8M589.8 121.5l2.2 3.7M660 121.5l-0.9 2.8M660 121.5l-2.3 1.8M591.9 133.3l3.7 1.1M591.9 133.3l2.5 3M657.9 133.3l-1.1 2.7M657.9 133.3l-2.4 1.6M595.5 146.1l3.7 2.1M595.5 146.1l1.9 3.8M654.3 146.1l-1.7 3.6M654.3 146.1l-3.4 2M602.6 157l2.3 2.8M602.6 157l0.3 3.6M647.2 157l-0.1 3.1M647.2 157l-1.8 2.5M612.2 165l1.5 2.9M612.2 165l-0.3 3.2M637.6 165l-0.3 4M637.6 165l-2.5 3.2M624.9 169.4l0.8 3.4M624.9 169.4l-1.2 3.2M597.8 101.2l0.9 -2.9M597.8 101.2l2.3 -1.9M651.9 100.6l-3.2 0.1M651.9 100.6l-2.7 -1.7M601.6 99.1l3 -2.2M601.6 99.1l3.7 -0.1M647.5 99.4l-1.2 -3.4M647.5 99.4l0.9 -3.5M606.6 98.5l-0.1 -3.4M606.6 98.5l1.8 -2.9M643.1 98.5l-1.2 -3.5M643.1 98.5l1 -3.6M611.1 99.1l-1.8 -2.9M611.1 99.1l0.1 -3.4M638.7 99.3l-1.9 -3.3M638.7 99.3l0.3 -3.8M614.8 100l2.6 -2.6M614.8 100l3.6 -0.7M634.7 100.7l-0.7 -3.6M634.7 100.7l1.4 -3.4M600.7 101.8l-0.9 -3.6M600.7 101.8l1.3 -3.5M649.2 101.6l-2.1 -2.7M649.2 101.6l-0.3 -3.4M605 101.3l0.3 -3.3M605 101.3l2.1 -2.6M645.1 101.4l-2.6 -1.7M645.1 101.4l-1.2 -2.9M609.2 101.3l-0.9 -3.3M609.2 101.3l1.1 -3.2M640.6 101.6l-0.6 -3.6M640.6 101.6l1.6 -3.3M612.8 102.4l1.4 -3.3M612.8 102.4l3 -2M636.9 102.3l-0.7 -3.1M636.9 102.3l1.2 -3M611.3 103.5l3.2 -3M611.3 103.5l4.3 -0.7M638.7 103.8l-3.5 -1.6M638.7 103.8l-2 -3.3M602.6 109.1l-0.1 -3.3M602.6 109.1l1.7 -2.8M647.4 108.7l-1.9 -3.3M647.4 108.7l0.2 -3.8M605.6 106.8l-1.6 -3.1M605.6 106.8l0.4 -3.4M644.1 106.8l-2 -3.3M644.1 106.8l0.1 -3.9M609.2 105.4l1.2 -2.9M609.2 105.4l2.6 -1.7M640.1 105.4l-2.2 -3.2M640.1 105.4l-0 -3.9M613.6 106.5l-1.6 -3.5M613.6 106.5l0.6 -3.8M636.4 106.5l-2.6 -2.4M636.4 106.5l-0.8 -3.4M604.9 110.8l2.9 -2.4M604.9 110.8l3.8 -0.3M644.7 110.6l-2.7 -2.1M644.7 110.6l-1.1 -3.2M609.3 111.1l1.6 -3.7M609.3 111.1l3.4 -2.2M640.5 111.7l-0.1 -3.9M640.5 111.7l2.1 -3.3M613.5 110.7l0.4 -3.2M613.5 110.7l2.1 -2.4M636.2 110.5l-0.3 -3.4M636.2 110.5l1.7 -3M608.9 108.7l2.4 -3.1M608.9 108.7l3.7 -1.2M640.5 108.5l-0.7 -3.8M640.5 108.5l1.6 -3.5M615.9 109.5l0.7 -3.1M615.9 109.5l2.3 -2.2M633.1 109.1l-0.1 -3.9M633.1 109.1l2.1 -3.3M619.5 110.2l1.5 -2.3M619.5 110.2l2.5 -1.1M630.9 109.5l-4 0.6M630.9 109.5l-3.6 -1.7M618.1 113.2l2.2 -3.2M618.1 113.2l3.6 -1.5M631.9 113.1l-3 0.2M631.9 113.1l-2.6 -1.5M618 116.8l3.1 -1.2M618 116.8l3.2 0.7M631.7 117.1l-3.9 -1M631.7 117.1l-2.7 -3M617 121l2.2 -2.1M617 121l3 -0.5M632.8 121.3l-3.3 -0.6M632.8 121.3l-2.4 -2.3M616.3 125.1l3.3 -2.4M616.3 125.1l4.1 -0.2M633.6 125l-2.6 -1.1M633.6 125l-1.6 -2.3M614.7 128.8l2.1 -2.3M614.7 128.8l3 -0.7M634.9 129l-2.7 -1.4M634.9 129l-1.5 -2.7M614.7 132.3l0.9 -3M614.7 132.3l2.5 -2M635.7 132.1l-2.2 -2.7M635.7 132.1l-0.3 -3.5M617.5 133.7l1 -3.8M617.5 133.7l3 -2.6M632.2 134l-3.5 -2M632.2 134l-1.7 -3.6M621 134.8l0.2 -3.3M621 134.8l2 -2.7M628.5 134.8l-1.2 -3.3M628.5 134.8l0.9 -3.4M625.2 135.1l-1.3 -3.1M625.2 135.1l0.7 -3.4M611.3 143.4l-0.6 -3.2M611.3 143.4l1.4 -3M638.5 143.2l-2.2 -3.2M638.5 143.2l-0.1 -3.9M615.7 141.9l-0.6 -3.5M615.7 141.9l1.5 -3.2M634.1 141.7l-1.8 -2.7M634.1 141.7l-0 -3.2M620 141.3l-0.5 -3.4M620 141.3l1.5 -3.1M629.9 141.4l-2.2 -2.6M629.9 141.4l-0.4 -3.4M625.1 142l-1.5 -3.5M625.1 142l0.7 -3.7M613.6 145.8l-0.9 -3.1M613.6 145.8l1 -3.1M636 146.1l-1.9 -3.1M636 146.1l0.1 -3.6M616.7 149.4l0.3 -3.4M616.7 149.4l2.2 -2.6M632.8 149.3l-0.6 -3.5M632.8 149.3l1.5 -3.2M621 151.3l-0.4 -3.7M621 151.3l1.7 -3.3M629.1 151.3l-1.2 -3.1M629.1 151.3l0.8 -3.2M624.7 151.6l0 -3.6M624.7 151.6l2 -2.9" fill="none" stroke="#2297E6" stroke-width="0.58" stroke-linecap="round" opacity="0.95"/>
</g>
<g>
<path d="M100.5 222.3L100.4 227.1L100.2 231.9L100.1 236.7L100 241.5L99.9 246.3L99.7 251.1L99.6 255.9L99.4 260.7L99.3 265.5L99.1 270.3L99 275.1L98.8 280L98.7 284.8L98.5 289.6L98.4 294.4L98.2 299.2L98.1 304L97.9 308.8L97.7 313.6L97.5 318.4L97.4 323.2L97.2 328M105.6 222L105.5 226.8L105.4 231.6L105.2 236.4L105.1 241.3L104.9 246.1L104.8 251L104.7 255.9L104.6 260.7L104.4 265.6L104.3 270.4L104.2 275.1L104.1 279.9L104 284.6L103.9 289.4L103.8 294.3L103.6 299.1L103.4 304L103.2 308.8L103 313.6L102.8 318.4L102.7 323.2L102.5 328M110.7 221.7L110.6 226.5L110.5 231.3L110.4 236.2L110.2 241L110 245.9L109.8 250.8L109.7 255.8L109.6 260.7L109.6 265.6L109.6 270.3L109.6 275.1L109.5 279.7L109.3 284.4L109.2 289.3L109.1 294.2L108.9 299.1L108.8 304L108.6 308.8L108.3 313.5L108.1 318.3L108 323.2L107.9 328.1M115.8 221.5L115.7 226.3L115.6 231.1L115.6 236L115.4 240.8L115.1 245.6L114.8 250.5L114.6 255.4L114.7 260.3L114.9 265.2L115.1 270.1L115.1 275L114.8 279.8L114.6 284.6L114.3 289.4L114.2 294.2L114.2 299.1L114.1 303.9L113.9 308.7L113.7 313.5L113.4 318.3L113.3 323.2L113.2 328.1M120.9 221.3L120.8 226.1L120.7 231L120.7 235.8L120.6 240.6L120.3 245.3L120 250.1L119.8 254.9L119.9 259.7L120.1 264.7L120.3 269.7L120.3 274.8L120.1 279.9L119.8 284.9L119.6 289.7L119.5 294.3L119.4 298.9L119.4 303.6L119.2 308.5L118.9 313.4L118.7 318.3L118.6 323.2L118.5 328M126 221.1L125.9 225.9L125.8 230.8L125.7 235.6L125.6 240.3L125.6 245.1L125.5 249.8L125.4 254.5L125.3 259.3L125.2 264.2L125.1 269.3L125.1 274.5L125.2 279.8L125.1 285L125 289.9L124.9 294.4L124.6 298.9L124.4 303.5L124.2 308.4L124.1 313.4L124 318.4L123.9 323.2L123.8 327.9M131 220.9L131 225.8L130.9 230.6L130.7 235.3L130.7 240.1L130.9 244.8L131 249.6L131.1 254.4L130.8 259.3L130.3 264.1L129.9 269.1L129.9 274.2L130.1 279.4L130.4 284.5L130.4 289.5L130.2 294.3L129.8 299L129.4 303.7L129.2 308.5L129.2 313.4L129.3 318.3L129.3 323.1L129.2 327.8M136.1 220.8L136.1 225.6L136 230.4L135.9 235.1L135.9 239.8L136.2 244.7L136.4 249.6L136.5 254.5L136.2 259.5L135.6 264.3L135.1 269.1L134.9 273.9L135.1 278.7L135.4 283.6L135.4 288.7L135.2 294L134.8 299.1L134.4 304.1L134.3 308.9L134.4 313.5L134.6 318.2L134.6 322.9L134.5 327.7M141.2 220.8L141.2 225.5L141.3 230.2L141.3 235L141.3 239.8L141.4 244.6L141.5 249.6L141.5 254.6L141.3 259.6L141 264.5L140.6 269.2L140.4 273.8L140.2 278.3L140.1 283L140 288.1L139.8 293.6L139.7 299.1L139.7 304.3L139.7 309L139.8 313.4L139.9 317.9L139.9 322.7L139.8 327.5M146.3 220.7L146.3 225.5L146.5 230.3L146.7 235.1L146.8 239.9L146.7 244.8L146.5 249.6L146.3 254.5L146.3 259.4L146.4 264.3L146.4 269.1L146.1 273.9L145.5 278.5L144.8 283.2L144.4 288.2L144.4 293.4L144.6 298.6L145 303.7L145.2 308.5L145.2 313.1L145.2 317.7L145.2 322.5L145.2 327.3M151.4 220.7L151.4 225.6L151.6 230.4L151.9 235.3L152.1 240.2L151.9 245L151.6 249.7L151.4 254.3L151.5 259L151.8 263.9L151.9 268.9L151.5 274L150.6 279L149.8 283.9L149.2 288.6L149.3 293.3L149.8 298L150.2 302.8L150.5 307.7L150.6 312.6L150.5 317.5L150.5 322.3L150.5 327.1M156.5 220.7L156.5 225.6L156.7 230.6L156.9 235.5L157.1 240.4L157.1 245.2L157 249.8L157 254.4L157 259L157.1 263.7L156.9 268.7L156.4 274L155.7 279.2L155 284.2L154.7 288.8L154.8 293.1L155.1 297.4L155.4 302L155.6 306.9L155.7 312.1L155.8 317.2L155.9 322.1L155.8 326.9M161.6 220.8L161.6 225.7L161.6 230.6L161.8 235.6L162 240.5L162.3 245.3L162.6 250L162.7 254.8L162.6 259.4L162.1 264.1L161.6 268.8L161.1 273.8L160.7 278.8L160.6 283.8L160.5 288.4L160.5 292.8L160.5 297.2L160.5 301.7L160.6 306.7L160.9 311.8L161.1 316.9L161.2 321.8L161.1 326.6M166.7 220.8L166.7 225.7L166.6 230.6L166.6 235.5L166.9 240.4L167.4 245.3L167.9 250.2L168.1 255.1L167.9 260L167.2 264.6L166.5 269.1L166 273.5L166 278L166.2 282.8L166.3 287.6L166.1 292.4L165.9 297.2L165.7 302L165.8 306.8L166.2 311.7L166.5 316.6L166.6 321.4L166.5 326.3M171.8 221L171.7 225.8L171.7 230.6L171.7 235.4L172 240.3L172.4 245.2L172.9 250.2L173.1 255.2L172.8 260.2L172.3 264.8L171.8 269.2L171.6 273.3L171.6 277.5L171.6 282L171.6 286.9L171.4 292.1L171.2 297.2L171.1 302.2L171.3 306.9L171.6 311.5L171.8 316.2L171.9 321L171.8 325.9M176.9 221.1L176.8 225.9L176.8 230.7L176.9 235.5L177.1 240.3L177.4 245.2L177.6 250.1L177.7 254.9L177.6 259.7L177.5 264.4L177.4 268.9L177.3 273.3L177.2 277.6L176.9 282L176.7 286.8L176.5 291.9L176.5 297L176.7 302L177 306.7L177.1 311.3L177.2 315.9L177.2 320.7L177.1 325.6M181.9 221.3L181.9 226.1L182 230.8L182.2 235.6L182.3 240.4L182.3 245.1L182.3 249.8L182.3 254.5L182.5 259.1L182.8 263.7L182.9 268.5L182.9 273.2L182.5 277.9L182.1 282.5L181.8 287.1L181.8 291.8L182 296.6L182.3 301.5L182.5 306.2L182.5 310.9L182.5 315.7L182.4 320.4L182.5 325.2M187 221.5L187 226.3L187.1 231L187.3 235.7L187.3 240.4L187.3 245.1L187.2 249.6L187.3 254.1L187.6 258.6L187.9 263.3L188.1 268.1L188 273.1L187.7 278L187.4 282.7L187.2 287.3L187.3 291.8L187.5 296.3L187.7 301L187.8 305.8L187.8 310.6L187.8 315.4L187.8 320.1L187.8 324.7M192.1 221.8L192.2 226.5L192.2 231.1L192.3 235.8L192.3 240.5L192.4 245L192.4 249.6L192.5 254.1L192.7 258.6L192.9 263.2L192.9 268L192.9 272.8L192.8 277.7L192.7 282.5L192.8 287.2L192.9 291.6L193 296.1L193 300.8L193 305.5L193 310.3L193 315.1L193.1 319.7L193.1 324.3M197.2 222L197.3 226.7L197.3 231.3L197.3 235.9L197.4 240.5L197.5 245.1L197.6 249.6L197.7 254.2L197.8 258.8L197.8 263.4L197.8 268L197.8 272.7L197.9 277.4L198.1 282.1L198.2 286.8L198.3 291.4L198.3 296.1L198.2 300.7L198.2 305.3L198.3 310L198.3 314.6L198.4 319.2L198.4 323.8M202.3 222.4L202.4 226.9L202.4 231.5L202.5 236.1L202.6 240.6L202.7 245.2L202.8 249.8L202.9 254.4L202.9 259L202.9 263.6L202.9 268.1L203 272.6L203.2 277.2L203.3 281.8L203.4 286.5L203.5 291.2L203.5 295.8L203.5 300.4L203.5 305L203.6 309.6L203.7 314.1L203.7 318.7L203.8 323.3M207.4 222.7L207.5 227.2L207.6 231.8L207.7 236.3L207.7 240.9L207.8 245.4L207.9 250L208 254.5L208.1 259.1L208.1 263.6L208.2 268.2L208.3 272.7L208.4 277.2L208.5 281.8L208.5 286.3L208.6 290.9L208.7 295.4L208.7 300L208.8 304.5L208.9 309.1L209 313.6L209 318.2L209.1 322.7M100.5 222.3L105.4 222L110.2 221.7L115.1 221.5L119.9 221.3L124.8 221.1L129.7 221L134.5 220.9L139.4 220.8L144.2 220.7L149.1 220.7L153.9 220.7L158.8 220.7L163.7 220.8L168.5 220.9L173.4 221L178.2 221.2L183.1 221.3L188 221.6L192.8 221.8L197.7 222.1L202.5 222.4L207.4 222.7M100.4 227.3L105.2 227L110.1 226.8L115 226.5L119.9 226.4L124.7 226.2L129.6 226L134.5 225.9L139.4 225.8L144.3 225.7L149.1 225.8L154 225.8L158.8 225.9L163.7 225.9L168.5 225.9L173.3 226L178.2 226.2L183.1 226.3L188 226.5L192.9 226.7L197.7 226.9L202.6 227.2L207.5 227.5M100.2 232.4L105.1 232.1L110 231.8L114.9 231.6L119.8 231.4L124.7 231.3L129.5 231.1L134.4 230.9L139.3 230.7L144.4 230.7L149.3 230.8L154.2 231L158.9 231.1L163.7 231.1L168.4 231.1L173.3 231.1L178.3 231.2L183.2 231.3L188.1 231.5L192.9 231.6L197.8 231.8L202.7 232L207.6 232.2M100.1 237.4L105 237.1L109.9 236.9L114.8 236.7L119.8 236.5L124.6 236.3L129.4 236.1L134.2 235.8L139.3 235.7L144.5 235.7L149.6 235.9L154.5 236.1L159.2 236.3L163.8 236.3L168.5 236.2L173.4 236.1L178.4 236.2L183.3 236.3L188.2 236.4L193 236.5L197.8 236.6L202.7 236.7L207.7 237M100 242.4L104.8 242.2L109.7 242L114.6 241.7L119.6 241.5L124.5 241.3L129.3 241L134.3 240.8L139.4 240.7L144.6 240.8L149.7 241L154.6 241.2L159.4 241.4L164 241.4L168.8 241.3L173.7 241.2L178.6 241.2L183.4 241.3L188.2 241.3L193 241.3L197.9 241.4L202.8 241.5L207.8 241.7M99.8 247.5L104.7 247.3L109.5 247.1L114.3 246.8L119.3 246.5L124.3 246.2L129.4 246L134.5 245.9L139.6 245.8L144.5 245.9L149.5 246L154.5 246.2L159.5 246.4L164.5 246.4L169.4 246.4L174.1 246.4L178.8 246.3L183.4 246.2L188.2 246.2L193.1 246.1L198 246.2L202.9 246.3L207.8 246.5M99.7 252.5L104.5 252.4L109.3 252.3L114 251.9L119 251.5L124.2 251.2L129.6 251L134.8 251L139.7 251L144.4 251L149.2 251L154.2 251.1L159.6 251.3L164.9 251.5L169.9 251.7L174.5 251.6L178.9 251.4L183.4 251.1L188.2 250.9L193.1 250.9L198.1 250.9L203 251.1L207.9 251.3M99.5 257.5L104.4 257.5L109.2 257.4L113.9 257.1L118.9 256.6L124.1 256.2L129.5 256L134.7 256.1L139.6 256.2L144.3 256.2L149.1 256L154.2 255.9L159.6 256.1L165 256.5L170 256.9L174.5 256.8L178.9 256.4L183.5 255.9L188.3 255.6L193.3 255.6L198.2 255.8L203.1 255.9L208 256M99.4 262.6L104.3 262.6L109.2 262.6L114 262.3L119 261.7L124 261.2L129.2 261.1L134.3 261.3L139.3 261.5L144.2 261.4L149.2 261L154.3 260.8L159.5 260.9L164.6 261.4L169.5 261.9L174.2 261.9L179 261.4L183.7 260.7L188.6 260.3L193.4 260.4L198.3 260.6L203.1 260.7L208.1 260.8M99.2 267.6L104.1 267.6L109.2 267.6L114.3 267.4L119.2 266.9L124 266.4L128.8 266.2L133.6 266.3L138.8 266.5L144.1 266.5L149.5 266.2L154.5 265.9L159.3 265.9L163.9 266.3L168.7 266.7L173.8 266.7L179 266.2L184 265.6L188.9 265.3L193.6 265.2L198.3 265.4L203.1 265.5L208.2 265.6M99.1 272.6L104 272.6L109.1 272.6L114.4 272.5L119.4 272.2L124.1 271.8L128.6 271.5L133.3 271.4L138.4 271.4L143.9 271.4L149.3 271.4L154.3 271.3L158.8 271.2L163.3 271.2L168.1 271.2L173.5 271.1L178.9 271L184.1 270.7L188.9 270.4L193.6 270.3L198.3 270.2L203.2 270.3L208.3 270.3M98.9 277.7L103.9 277.6L109 277.5L114.2 277.5L119.3 277.5L124.1 277.4L128.6 277L133.3 276.5L138.3 276.2L143.6 276.2L148.7 276.5L153.6 276.8L158.2 276.6L162.9 276.2L168 275.7L173.4 275.5L178.8 275.6L183.9 275.7L188.8 275.6L193.5 275.4L198.3 275.1L203.3 275L208.3 275.1M98.8 282.7L103.8 282.6L108.9 282.4L114 282.5L119 282.7L124 282.9L128.9 282.5L133.7 281.7L138.4 281.1L143.1 281L147.8 281.5L152.7 282.1L157.7 282L162.8 281.3L168.1 280.4L173.4 280L178.5 280.2L183.5 280.6L188.4 280.7L193.4 280.4L198.5 280L203.5 279.8L208.4 279.8M98.6 287.7L103.7 287.6L108.8 287.4L113.7 287.5L118.7 287.8L123.8 288.1L129 287.8L133.9 287L138.4 286.3L142.7 286.1L147.1 286.5L152 287.1L157.4 287L162.9 286.3L168.3 285.4L173.3 284.9L178.1 285L183.1 285.4L188.2 285.6L193.5 285.4L198.6 285L203.6 284.7L208.5 284.6M98.4 292.8L103.6 292.7L108.6 292.6L113.6 292.6L118.5 292.8L123.7 292.9L128.9 292.8L133.8 292.4L138.3 291.9L142.5 291.6L146.9 291.7L151.9 291.7L157.3 291.6L162.9 291.2L168.1 290.6L173.1 290.2L177.9 290.1L183 290.2L188.3 290.3L193.6 290.1L198.7 289.9L203.7 289.6L208.6 289.4M98.3 297.8L103.4 297.7L108.5 297.7L113.5 297.7L118.5 297.6L123.5 297.6L128.5 297.6L133.3 297.7L138 297.6L142.6 297.3L147.3 296.9L152.3 296.3L157.5 296L162.7 295.9L167.9 295.8L172.9 295.7L178 295.5L183.2 295.2L188.5 295L193.7 294.8L198.8 294.7L203.7 294.5L208.7 294.1M98.1 302.8L103.2 302.8L108.3 302.9L113.4 302.8L118.5 302.5L123.3 302.4L128.1 302.5L132.9 302.8L137.8 303.1L142.7 302.8L147.8 302.1L152.7 301.2L157.7 300.7L162.6 300.7L167.7 300.9L172.9 301L178.2 300.7L183.5 300.2L188.7 299.8L193.7 299.6L198.7 299.6L203.7 299.3L208.7 298.9M97.9 307.9L103 307.9L108.1 307.9L113.3 307.8L118.3 307.6L123.1 307.4L127.9 307.5L132.7 307.9L137.7 308.1L142.9 307.9L148.1 307.2L153.1 306.3L157.9 305.8L162.7 305.7L167.8 305.9L173.1 306L178.4 305.7L183.7 305.2L188.8 304.8L193.7 304.6L198.7 304.4L203.8 304.1L208.8 303.7M97.7 312.9L102.8 312.9L107.9 312.9L113 312.8L118 312.7L123 312.7L127.8 312.7L132.7 312.8L137.8 312.9L143 312.6L148.2 312.1L153.2 311.6L158 311.2L163 311L168.1 310.9L173.3 310.8L178.6 310.5L183.7 310.2L188.7 309.9L193.7 309.6L198.7 309.3L203.8 308.9L208.9 308.4M97.6 317.9L102.6 317.9L107.7 317.9L112.7 317.9L117.8 317.9L122.8 317.9L127.8 317.9L132.9 317.8L138 317.6L143 317.3L148.1 317.1L153.2 316.9L158.2 316.6L163.3 316.3L168.4 316L173.5 315.7L178.6 315.4L183.7 315.1L188.7 314.9L193.7 314.6L198.8 314.1L203.9 313.7L209 313.2M97.4 323L102.5 323L107.5 322.9L112.6 322.9L117.6 323L122.7 323L127.8 322.9L132.9 322.7L138 322.5L143 322.3L148.1 322.1L153.2 322L158.3 321.8L163.4 321.4L168.5 321.1L173.6 320.7L178.6 320.4L183.7 320.1L188.7 319.8L193.8 319.4L198.9 318.9L204 318.4L209 317.9M97.2 328L102.3 328L107.4 328.1L112.5 328.1L117.5 328L122.6 328L127.7 327.9L132.8 327.7L137.9 327.6L143 327.4L148.1 327.2L153.2 327L158.2 326.7L163.3 326.5L168.4 326.2L173.5 325.8L178.6 325.5L183.7 325.1L188.8 324.6L193.8 324.2L198.9 323.7L204 323.2L209.1 322.7" fill="none" stroke="#000" stroke-width="0.65"/>
<path d="M85.9 215.2H211.4V341.1H85.9ZM102 341.1v4.8M85.9 216.1h-5.4M128.4 341.1v4.8M85.9 243.8h-5.4M154.9 341.1v4.8M85.9 271.4h-5.4M181.3 341.1v4.8M85.9 299h-5.4M207.8 341.1v4.8M85.9 326.7h-5.4" fill="none" stroke="#333" stroke-width="0.75"/>
<text x="102" y="358.7" font-family="'Liberation Sans',sans-serif" font-size="7.6" fill="#111" stroke="#111" stroke-width="0.3" text-anchor="middle">-0.2</text>
<text transform="translate(72.9 216.4) rotate(-90)" font-family="'Liberation Sans',sans-serif" font-size="7.6" fill="#111" stroke="#111" stroke-width="0.3" text-anchor="middle">0.2</text>
<text x="128.4" y="358.7" font-family="'Liberation Sans',sans-serif" font-size="7.6" fill="#111" stroke="#111" stroke-width="0.3" text-anchor="middle">-0.1</text>
<text transform="translate(72.9 244.1) rotate(-90)" font-family="'Liberation Sans',sans-serif" font-size="7.6" fill="#111" stroke="#111" stroke-width="0.3" text-anchor="middle">0.1</text>
<text x="154.9" y="358.7" font-family="'Liberation Sans',sans-serif" font-size="7.6" fill="#111" stroke="#111" stroke-width="0.3" text-anchor="middle">0.0</text>
<text transform="translate(72.9 271.7) rotate(-90)" font-family="'Liberation Sans',sans-serif" font-size="7.6" fill="#111" stroke="#111" stroke-width="0.3" text-anchor="middle">0.0</text>
<text x="181.3" y="358.7" font-family="'Liberation Sans',sans-serif" font-size="7.6" fill="#111" stroke="#111" stroke-width="0.3" text-anchor="middle">0.1</text>
<text transform="translate(72.9 299.3) rotate(-90)" font-family="'Liberation Sans',sans-serif" font-size="7.6" fill="#111" stroke="#111" stroke-width="0.3" text-anchor="middle">-0.1</text>
<text x="207.8" y="358.7" font-family="'Liberation Sans',sans-serif" font-size="7.6" fill="#111" stroke="#111" stroke-width="0.3" text-anchor="middle">0.2</text>
<text transform="translate(72.9 327) rotate(-90)" font-family="'Liberation Sans',sans-serif" font-size="7.6" fill="#111" stroke="#111" stroke-width="0.3" text-anchor="middle">-0.2</text>
<g fill="#61D04F"><circle cx="155" cy="222.6" r="2.9"/><circle cx="141.6" cy="225.1" r="2.9"/><circle cx="168.4" cy="225.1" r="2.9"/><circle cx="131.1" cy="230.6" r="2.9"/><circle cx="178.9" cy="230.6" r="2.9"/><circle cx="124.7" cy="241.3" r="2.9"/><circle cx="185.3" cy="241.3" r="2.9"/><circle cx="121.4" cy="253.8" r="2.9"/><circle cx="188.6" cy="253.8" r="2.9"/><circle cx="119.8" cy="265.5" r="2.9"/><circle cx="190.2" cy="265.5" r="2.9"/><circle cx="119.7" cy="277.5" r="2.9"/><circle cx="190.3" cy="277.5" r="2.9"/><circle cx="121.9" cy="289.2" r="2.9"/><circle cx="188.1" cy="289.2" r="2.9"/><circle cx="126" cy="301" r="2.9"/><circle cx="184" cy="301" r="2.9"/><circle cx="133.5" cy="310.4" r="2.9"/><circle cx="176.5" cy="310.4" r="2.9"/><circle cx="142.8" cy="318.4" r="2.9"/><circle cx="167.2" cy="318.4" r="2.9"/><circle cx="155" cy="322.8" r="2.9"/><circle cx="127.8" cy="254.7" r="2.9"/><circle cx="181.7" cy="254.3" r="2.9"/><circle cx="132.5" cy="252.4" r="2.9"/><circle cx="177.6" cy="252.4" r="2.9"/><circle cx="136.9" cy="251.4" r="2.9"/><circle cx="173.4" cy="251.3" r="2.9"/><circle cx="141" cy="251.8" r="2.9"/><circle cx="168.9" cy="251.8" r="2.9"/><circle cx="145" cy="253.6" r="2.9"/><circle cx="164.7" cy="253.8" r="2.9"/><circle cx="130.5" cy="255.3" r="2.9"/><circle cx="179.1" cy="255.5" r="2.9"/><circle cx="134.7" cy="254.5" r="2.9"/><circle cx="174.7" cy="255" r="2.9"/><circle cx="138.8" cy="255.1" r="2.9"/><circle cx="170.7" cy="254.8" r="2.9"/><circle cx="143.2" cy="256.2" r="2.9"/><circle cx="166.7" cy="256.3" r="2.9"/><circle cx="141.6" cy="258.4" r="2.9"/><circle cx="168.5" cy="257.6" r="2.9"/><circle cx="131.3" cy="263.5" r="2.9"/><circle cx="178.4" cy="263.6" r="2.9"/><circle cx="134.6" cy="261.5" r="2.9"/><circle cx="175.5" cy="261.4" r="2.9"/><circle cx="138.7" cy="261.1" r="2.9"/><circle cx="171.1" cy="260.2" r="2.9"/><circle cx="143.1" cy="261.7" r="2.9"/><circle cx="167.4" cy="261.5" r="2.9"/><circle cx="134.4" cy="265.9" r="2.9"/><circle cx="175.2" cy="266.2" r="2.9"/><circle cx="138.7" cy="266.1" r="2.9"/><circle cx="170.7" cy="266.5" r="2.9"/><circle cx="143.1" cy="265.8" r="2.9"/><circle cx="167" cy="265.7" r="2.9"/><circle cx="139.2" cy="263.3" r="2.9"/><circle cx="171" cy="263.4" r="2.9"/><circle cx="145.8" cy="264" r="2.9"/><circle cx="164.2" cy="264.1" r="2.9"/><circle cx="149.5" cy="264.9" r="2.9"/><circle cx="160.5" cy="265" r="2.9"/><circle cx="148.4" cy="268" r="2.3"/><circle cx="161.6" cy="267.9" r="2.3"/><circle cx="148.5" cy="272.1" r="2.3"/><circle cx="161.6" cy="271.9" r="2.3"/><circle cx="147.6" cy="275.7" r="2.3"/><circle cx="163" cy="275.7" r="2.3"/><circle cx="146" cy="279.2" r="2.3"/><circle cx="163.7" cy="279.4" r="2.3"/><circle cx="144.4" cy="283.6" r="2.3"/><circle cx="165.1" cy="283.6" r="2.3"/><circle cx="144.3" cy="286.5" r="2.9"/><circle cx="165.2" cy="286.3" r="2.9"/><circle cx="147.6" cy="287.8" r="2.9"/><circle cx="162.3" cy="288.4" r="2.9"/><circle cx="151" cy="288.9" r="2.9"/><circle cx="159" cy="289.4" r="2.9"/><circle cx="154.5" cy="289.3" r="2.9"/><circle cx="141.8" cy="297.5" r="2.9"/><circle cx="168.3" cy="297.1" r="2.9"/><circle cx="145.9" cy="295.8" r="2.9"/><circle cx="164.1" cy="295.8" r="2.9"/><circle cx="150.3" cy="295" r="2.9"/><circle cx="159.5" cy="295.2" r="2.9"/><circle cx="155.1" cy="295.4" r="2.9"/><circle cx="144.1" cy="300" r="2.9"/><circle cx="166" cy="300.1" r="2.9"/><circle cx="147.1" cy="303" r="2.9"/><circle cx="163" cy="303.3" r="2.9"/><circle cx="151.5" cy="304.6" r="2.9"/><circle cx="159.1" cy="304.8" r="2.9"/><circle cx="154.6" cy="305.2" r="2.9"/></g>
<g fill="#DF536B"><circle cx="155" cy="222" r="3.1"/><circle cx="141.7" cy="224.5" r="3.1"/><circle cx="168.3" cy="224.5" r="3.1"/><circle cx="131.4" cy="230" r="3.1"/><circle cx="178.6" cy="230" r="3.1"/><circle cx="125" cy="240.8" r="3.1"/><circle cx="185" cy="240.8" r="3.1"/><circle cx="121.6" cy="253.5" r="3.1"/><circle cx="188.4" cy="253.5" r="3.1"/><circle cx="120" cy="265.2" r="3.1"/><circle cx="190" cy="265.2" r="3.1"/><circle cx="120.3" cy="277" r="3.1"/><circle cx="189.7" cy="277" r="3.1"/><circle cx="122.7" cy="288.4" r="3.1"/><circle cx="187.3" cy="288.4" r="3.1"/><circle cx="126.9" cy="300" r="3.1"/><circle cx="183.1" cy="300" r="3.1"/><circle cx="134.1" cy="309.4" r="3.1"/><circle cx="175.9" cy="309.4" r="3.1"/><circle cx="143.1" cy="317.4" r="3.1"/><circle cx="166.9" cy="317.4" r="3.1"/><circle cx="155" cy="321.8" r="3.1"/><circle cx="128.2" cy="254.7" r="3.0"/><circle cx="181.4" cy="254.6" r="3.0"/><circle cx="132.8" cy="252.6" r="3.0"/><circle cx="177.6" cy="252.8" r="3.0"/><circle cx="136.9" cy="251.6" r="3.0"/><circle cx="173.4" cy="251.8" r="3.0"/><circle cx="141" cy="252" r="3.0"/><circle cx="168.9" cy="251.9" r="3.0"/><circle cx="144.9" cy="253.8" r="3.0"/><circle cx="164.8" cy="254" r="3.0"/><circle cx="130.9" cy="255.8" r="3.0"/><circle cx="178.9" cy="255.6" r="3.0"/><circle cx="134.8" cy="254.9" r="3.0"/><circle cx="174.7" cy="255.1" r="3.0"/><circle cx="139.2" cy="255.2" r="3.0"/><circle cx="170.7" cy="255.3" r="3.0"/><circle cx="143.1" cy="256.7" r="3.0"/><circle cx="166.8" cy="256.7" r="3.0"/><circle cx="141.7" cy="258.5" r="3.0"/><circle cx="168.1" cy="258" r="3.0"/><circle cx="131.6" cy="264.1" r="3.0"/><circle cx="178.3" cy="264" r="3.0"/><circle cx="135" cy="261.6" r="3.0"/><circle cx="175.4" cy="261.5" r="3.0"/><circle cx="138.9" cy="261.1" r="3.0"/><circle cx="171" cy="260.7" r="3.0"/><circle cx="143.3" cy="262.1" r="3.0"/><circle cx="167.3" cy="261.8" r="3.0"/><circle cx="134.6" cy="266.3" r="3.0"/><circle cx="175.1" cy="266.4" r="3.0"/><circle cx="138.9" cy="266.7" r="3.0"/><circle cx="170.7" cy="266.8" r="3.0"/><circle cx="143.4" cy="266.2" r="3.0"/><circle cx="166.9" cy="265.9" r="3.0"/><circle cx="139.3" cy="263.8" r="3.0"/><circle cx="171.1" cy="264" r="3.0"/><circle cx="146.2" cy="264.4" r="3.0"/><circle cx="163.9" cy="264.5" r="3.0"/><circle cx="149.4" cy="265" r="3.0"/><circle cx="160.7" cy="265.5" r="3.0"/><circle cx="148.7" cy="268.5" r="2.4"/><circle cx="161.3" cy="268.4" r="2.4"/><circle cx="148.8" cy="272.1" r="2.4"/><circle cx="161.2" cy="272.1" r="2.4"/><circle cx="148" cy="275.7" r="2.4"/><circle cx="162.5" cy="276.1" r="2.4"/><circle cx="146.7" cy="279.7" r="2.4"/><circle cx="163.1" cy="279.7" r="2.4"/><circle cx="145.3" cy="283.8" r="2.4"/><circle cx="164.6" cy="283.7" r="2.4"/><circle cx="145" cy="287.4" r="3.0"/><circle cx="164.9" cy="287" r="3.0"/><circle cx="148" cy="288.8" r="3.0"/><circle cx="162.2" cy="289" r="3.0"/><circle cx="151.2" cy="289.9" r="3.0"/><circle cx="158.8" cy="290" r="3.0"/><circle cx="154.8" cy="289.9" r="3.0"/><circle cx="141.8" cy="298.3" r="3.0"/><circle cx="168.2" cy="298.3" r="3.0"/><circle cx="146.2" cy="296.6" r="3.0"/><circle cx="163.8" cy="296.6" r="3.0"/><circle cx="150.6" cy="296.1" r="3.0"/><circle cx="159.5" cy="295.9" r="3.0"/><circle cx="155" cy="296.7" r="3.0"/><circle cx="144.4" cy="300.8" r="3.0"/><circle cx="165.7" cy="300.8" r="3.0"/><circle cx="147.2" cy="304" r="3.0"/><circle cx="162.6" cy="304" r="3.0"/><circle cx="151.4" cy="305.7" r="3.0"/><circle cx="158.8" cy="305.7" r="3.0"/><circle cx="154.9" cy="306.3" r="3.0"/></g>
<path d="M155 222.6l-1.2 -3.3M155 222.6l0.9 -3.4M141.6 225.1l-0.8 -3.7M141.6 225.1l1.4 -3.5M168.4 225.1l-2 -3M168.4 225.1l0 -3.6M131.1 230.6l0.5 -3.6M131.1 230.6l2.4 -2.7M178.9 230.6l-2.7 -2.5M178.9 230.6l-0.8 -3.6M124.7 241.3l0.9 -3.6M124.7 241.3l2.8 -2.5M185.3 241.3l-2.3 -2.5M185.3 241.3l-0.6 -3.3M121.3 254l0.3 -3.6M121.3 254l2.2 -2.8M188.7 254l-2.6 -2.4M188.7 254l-0.9 -3.5M119.7 265.7l1.6 -3.5M119.7 265.7l3.3 -2M190.3 265.7l-2.2 -2.5M190.3 265.7l-0.4 -3.3M119.9 277.4l1.6 -2.9M119.9 277.4l3 -1.4M190.1 277.4l-3.9 -1.3M190.1 277.4l-2.5 -3.3M122.3 288.8l1.1 -3.2M122.3 288.8l2.7 -2.1M187.7 288.8l-3.9 -1.2M187.7 288.8l-2.6 -3.2M126.5 300.4l1.4 -3.6M126.5 300.4l3.2 -2.2M183.5 300.4l-2.1 -1.9M183.5 300.4l-0.7 -2.7M133.8 309.9l0.7 -3.5M133.8 309.9l2.5 -2.5M176.2 309.9l-3.4 -2.4M176.2 309.9l-1.5 -3.9M143 318l-0.2 -3.9M143 318l2 -3.4M167 318l-2 -3M167 318l-0 -3.6M155 322.4l-1.3 -3.3M155 322.4l0.7 -3.5M127.6 254.7l3.1 -0.7M127.6 254.7l3 1.2M181.8 254.1l-1.5 3M181.8 254.1l-2.9 1.7M132.3 252.2l2.4 1.8M132.3 252.2l1 2.8M177.6 252.2l-0.1 3.4M177.6 252.2l-2 2.8M137 251l-0.6 3.3M137 251l-2.4 2.4M173.4 251.2l1.2 3.3M173.4 251.2l-0.8 3.4M140.9 251.5l1.9 2.6M140.9 251.5l0.2 3.2M169.2 251.4l-0.7 3.1M169.2 251.4l-2.3 2.2M145.1 253.3l-0.6 3.8M145.1 253.3l-2.6 2.8M164.7 253.4l1.5 2.8M164.7 253.4l-0.3 3.1M130.5 255.4l2.7 2.2M130.5 255.4l1 3.3M179.4 255.4l-2.9 2.1M179.4 255.4l-3.6 0.1M134.7 254.3l1 3.4M134.7 254.3l-1.1 3.4M174.4 254.6l2.7 2.3M174.4 254.6l0.9 3.4M138.6 255.1l3.2 -0.8M138.6 255.1l3.1 1.2M170.7 254.7l0.2 3.3M170.7 254.7l-1.7 2.9M143.2 256.1l0.2 3.2M143.2 256.1l-1.7 2.8M166.7 256.1l1 3.5M166.7 256.1l-1.1 3.5M141.3 258.1l3.7 1.5M141.3 258.1l2.2 3.3M168.5 257.6l-1.6 3.4M168.5 257.6l-3.3 1.9M131.3 263.6l3 2.1M131.3 263.6l1.3 3.4M178.4 263.4l1.2 3.6M178.4 263.4l-1.1 3.7M134.4 261.4l4.2 0.3M134.4 261.4l3.3 2.6M175.9 261.2l-2.8 3M175.9 261.2l-4 0.9M138.3 261l3.8 -1.1M138.3 261l3.8 1.2M171.1 260.2l-0.1 3.8M171.1 260.2l-2.2 3.1M143 261.6l2.2 2.9M143 261.6l0.2 3.6M167.5 261.2l-0.2 3.2M167.5 261.2l-1.9 2.5M134.4 265.7l2.4 3M134.4 265.7l0.4 3.8M175.4 265.9l0.1 3.2M175.4 265.9l-1.7 2.7M138.7 266.2l2.8 2.6M138.7 266.2l0.8 3.7M170.8 266.3l0 3.4M170.8 266.3l-1.9 2.9M143.1 265.8l3.6 1.6M143.1 265.8l2.1 3.4M167.1 265.3l-0.3 3.8M167.1 265.3l-2.4 2.9M139.2 263.2l2.1 2.7M139.2 263.2l0.3 3.4M171 263.4l2.3 3.1M171 263.4l0.2 3.9M145.8 263.9l2.8 2.1M145.8 263.9l1.1 3.3M164.2 264l-0.5 3.3M164.2 264l-2.2 2.5M149.8 264.6l-1.3 3.2M149.8 264.6l-2.9 1.9M160.5 264.9l3 2.2M160.5 264.9l1.2 3.5M148.4 267.9l2.2 2.6M148.4 267.9l0.4 3.4M161.6 267.9l-1.6 3.7M161.6 267.9l-3.4 2.2M148.2 272l3.3 -0.4M148.2 272l2.9 1.5M161.7 271.8l-3 3.1M161.7 271.8l-4.2 0.9M147.4 275.6l3.9 -0.6M147.4 275.6l3.5 1.7M163 275.8l-1.3 2.7M163 275.8l-2.6 1.5M146.2 279.3l3 1M146.2 279.3l1.9 2.5M163.6 279.4l-3.3 2.7M163.6 279.4l-4.2 0.4M144.7 283.7l3.7 -0.5M144.7 283.7l3.4 1.6M165.2 283.5l-3 2.1M165.2 283.5l-3.7 0M144.6 286.9l3.2 2.1M144.6 286.9l1.5 3.5M165.1 286.5l-0.4 3.7M165.1 286.5l-2.4 2.9M147.8 288.3l3.1 2.8M147.8 288.3l1 4M162.3 288.4l-0.3 3.7M162.3 288.4l-2.3 2.9M151.1 289.3l1.7 3.4M151.1 289.3l-0.5 3.8M159 289.4l-0.7 3.7M159 289.4l-2.6 2.7M154.6 289.4l1.8 2.9M154.6 289.4l-0.2 3.4M141.8 297.7l1.8 2.9M141.8 297.7l-0.2 3.4M168.3 297.7l0.1 3.7M168.3 297.7l-2 3.1M146 296l2.5 3.1M146 296l0.4 3.9M164 296.1l-1.1 3.4M164 296.1l-2.8 2.2M150.5 295.6l1.8 3.3M150.5 295.6l-0.4 3.7M159.5 295.3l1.6 3.5M159.5 295.3l-0.7 3.8M155 296.1l0 3.4M155 296.1l-1.9 2.8M144.2 300.3l2.3 2.7M144.2 300.3l0.3 3.5M165.9 300.3l-1 3.9M165.9 300.3l-3 2.7M147.1 303.4l2 3.3M147.1 303.4l-0.2 3.9M162.9 303.5l-1.7 3.2M162.9 303.5l-3.2 1.7M151.4 305.1l0.4 3.4M151.4 305.1l-1.6 3.1M159 305.2l-0.5 3.7M159 305.2l-2.4 2.8M154.7 305.7l1.5 3.1M154.7 305.7l-0.5 3.4" fill="none" stroke="#2297E6" stroke-width="0.58" stroke-linecap="round" opacity="0.95"/>
</g>
<g>
<path d="M253.1 217.3L253.2 222.1L253.3 226.9L253.4 231.7L253.6 236.6L253.7 241.4L253.8 246.2L254 251L254.1 255.8L254.3 260.6L254.4 265.4L254.6 270.2L254.8 275.1L255 279.9L255.1 284.7L255.3 289.5L255.5 294.3L255.8 299.1L256 303.9L256.2 308.8L256.4 313.6L256.7 318.4L256.9 323.2M258.1 217.5L258.2 222.3L258.3 227.2L258.4 232L258.5 236.8L258.6 241.6L258.7 246.5L258.8 251.3L259 256.1L259.2 260.9L259.3 265.7L259.5 270.5L259.6 275.3L259.8 280.1L260 285L260.3 289.8L260.5 294.7L260.7 299.5L260.8 304.3L261 309.1L261.2 313.9L261.4 318.7L261.6 323.6M263.2 217.7L263.3 222.6L263.4 227.4L263.4 232.2L263.4 237L263.5 241.8L263.6 246.7L263.7 251.5L263.9 256.4L264.1 261.1L264.2 265.9L264.3 270.6L264.5 275.4L264.7 280.3L265 285.2L265.2 290.2L265.4 295L265.5 299.8L265.6 304.6L265.8 309.4L265.9 314.2L266.1 319L266.3 323.9M268.2 217.9L268.3 222.7L268.4 227.6L268.4 232.5L268.4 237.3L268.4 242L268.5 246.8L268.6 251.6L268.8 256.4L268.9 261.3L269 266.1L269.2 270.9L269.4 275.8L269.7 280.7L269.9 285.6L270.1 290.4L270.2 295.2L270.3 300L270.4 304.8L270.6 309.7L270.7 314.5L270.8 319.3L270.9 324.1M273.2 218L273.3 222.9L273.4 227.8L273.5 232.7L273.4 237.5L273.4 242.2L273.4 246.9L273.5 251.6L273.6 256.4L273.8 261.3L274 266.2L274.1 271.2L274.3 276.2L274.6 281L274.8 285.8L274.9 290.6L275 295.4L275.1 300.2L275.2 305.1L275.4 309.9L275.5 314.7L275.6 319.6L275.6 324.4M278.2 218.2L278.3 223L278.4 228L278.5 232.9L278.5 237.7L278.4 242.5L278.4 247.1L278.5 251.7L278.6 256.4L278.8 261.3L279 266.3L279.1 271.4L279.2 276.4L279.4 281.3L279.6 286L279.7 290.7L279.8 295.5L279.9 300.4L280 305.3L280.1 310.2L280.2 315L280.2 319.8L280.3 324.6M283.3 218.3L283.3 223.1L283.4 228L283.5 232.9L283.6 237.8L283.5 242.7L283.5 247.4L283.6 252L283.7 256.6L283.9 261.4L284 266.3L284.1 271.3L284.1 276.4L284.1 281.3L284.3 286.1L284.5 290.9L284.7 295.8L284.8 300.7L284.8 305.6L284.8 310.4L284.8 315.1L284.9 319.9L285 324.7M288.3 218.4L288.3 223.2L288.4 228.1L288.5 232.9L288.6 237.9L288.7 242.8L288.8 247.6L288.8 252.3L288.9 257L289 261.6L289 266.3L289.1 271.1L289 276.1L288.9 281.1L289 286.2L289.2 291.2L289.4 296.2L289.5 301L289.5 305.8L289.4 310.6L289.4 315.3L289.5 320L289.7 324.9M293.3 218.4L293.3 223.3L293.3 228.1L293.4 233L293.6 237.8L293.9 242.8L294.1 247.7L294.1 252.6L294.1 257.3L294 261.9L294 266.4L294 271L294 275.8L293.9 281L293.8 286.2L293.8 291.4L294 296.4L294.1 301.3L294.2 305.9L294.1 310.6L294.1 315.3L294.2 320.1L294.3 324.9M298.3 218.5L298.4 223.4L298.3 228.2L298.4 233.1L298.6 237.9L299.1 242.7L299.4 247.6L299.4 252.5L299.2 257.3L298.9 262L298.9 266.5L299 271.1L299.1 275.9L299 281L298.7 286.3L298.4 291.5L298.4 296.5L298.5 301.3L298.8 305.9L298.9 310.6L298.9 315.3L299 320.1L299 325M303.4 218.5L303.4 223.4L303.3 228.3L303.4 233.2L303.7 238L304.2 242.7L304.5 247.4L304.5 252.2L304.2 257.1L303.9 261.9L303.8 266.6L304 271.4L304.2 276.3L304.1 281.3L303.6 286.4L303.1 291.4L302.9 296.3L303 301.1L303.4 305.8L303.7 310.5L303.8 315.3L303.7 320.2L303.7 325M308.4 218.5L308.4 223.4L308.4 228.4L308.6 233.3L308.8 238.1L309.2 242.7L309.4 247.3L309.4 251.9L309.2 256.7L309 261.7L309 266.7L309 271.8L309.1 276.7L308.9 281.6L308.4 286.4L307.9 291.2L307.7 296L307.7 300.8L308.1 305.6L308.4 310.5L308.5 315.3L308.5 320.2L308.4 325M313.4 218.5L313.4 223.4L313.6 228.3L313.8 233.2L313.9 238.1L314 242.8L314.1 247.3L314.2 251.8L314.3 256.6L314.3 261.6L314.2 266.8L313.9 271.9L313.7 276.9L313.4 281.7L313.2 286.3L312.9 291L312.8 295.7L312.7 300.7L312.8 305.6L313 310.5L313.1 315.3L313.1 320.1L313.1 324.9M318.4 218.4L318.5 223.3L318.7 228.1L318.9 233.1L318.9 238L318.8 242.8L318.7 247.4L318.9 252L319.3 256.7L319.5 261.6L319.3 266.7L318.8 271.8L318.2 276.7L317.9 281.4L317.9 286.1L318 290.8L318.1 295.7L317.9 300.6L317.7 305.6L317.7 310.4L317.7 315.2L317.8 320L317.8 324.8M323.5 218.4L323.5 223.2L323.7 228L323.8 232.8L323.8 237.8L323.5 242.7L323.5 247.5L323.7 252.3L324.2 257L324.5 261.7L324.2 266.6L323.5 271.4L322.8 276.3L322.5 281.1L322.8 285.9L323.1 290.8L323.3 295.7L323 300.6L322.6 305.5L322.4 310.3L322.4 315.1L322.5 319.8L322.4 324.7M328.5 218.3L328.5 223.1L328.6 227.9L328.7 232.7L328.6 237.5L328.5 242.5L328.5 247.5L328.7 252.4L329 257.2L329.1 261.9L328.9 266.4L328.3 271.1L327.8 275.9L327.6 280.8L327.8 285.8L328.1 290.7L328.2 295.6L327.9 300.5L327.5 305.3L327.2 310.1L327.2 314.8L327.2 319.7L327.1 324.5M333.5 218.2L333.5 223L333.5 227.8L333.5 232.5L333.5 237.3L333.5 242.2L333.6 247.2L333.6 252.2L333.6 257.1L333.5 261.8L333.3 266.4L333.1 271L332.9 275.7L332.9 280.6L332.9 285.7L332.9 290.6L332.8 295.5L332.6 300.2L332.4 305L332.2 309.8L332.1 314.6L332 319.5L331.8 324.3M338.5 218L338.6 222.9L338.5 227.7L338.4 232.4L338.4 237.2L338.6 242L338.7 246.9L338.6 251.9L338.3 256.8L338 261.6L337.9 266.3L338 271L338.2 275.8L338.1 280.6L337.9 285.5L337.6 290.4L337.4 295.1L337.3 299.9L337.3 304.6L337.2 309.5L337 314.4L336.7 319.2L336.5 324M343.6 217.9L343.6 222.7L343.5 227.5L343.4 232.3L343.5 237.1L343.6 241.8L343.6 246.7L343.4 251.5L343 256.4L342.8 261.3L342.8 266.2L343 271L343.2 275.8L343.2 280.5L342.8 285.3L342.4 290L342.2 294.8L342.1 299.5L342.1 304.3L342 309.2L341.8 314.1L341.4 318.9L341.2 323.7M348.6 217.7L348.6 222.5L348.5 227.3L348.5 232.1L348.5 236.9L348.5 241.7L348.5 246.5L348.3 251.3L348 256.1L347.8 261L347.8 265.9L348 270.8L348 275.6L347.9 280.3L347.6 285L347.3 289.7L347.1 294.4L347 299.3L346.9 304.1L346.8 308.9L346.5 313.8L346.1 318.6L345.8 323.4M353.6 217.5L353.6 222.3L353.6 227.1L353.6 231.9L353.5 236.7L353.5 241.5L353.4 246.3L353.2 251.1L353.1 255.9L353 260.7L352.9 265.6L352.9 270.4L352.8 275.2L352.6 279.9L352.4 284.7L352.2 289.4L352 294.2L351.8 299L351.6 303.8L351.4 308.6L351.1 313.5L350.8 318.3L350.5 323.1M358.6 217.3L358.6 222.1L358.6 226.9L358.6 231.7L358.5 236.5L358.5 241.2L358.4 246L358.3 250.8L358.2 255.6L358.1 260.4L357.9 265.2L357.8 270L357.6 274.8L357.5 279.6L357.3 284.3L357.1 289.1L356.8 293.9L356.6 298.7L356.3 303.5L356.1 308.3L355.8 313.1L355.5 317.9L355.2 322.6M253.1 217.3L257.9 217.5L262.7 217.7L267.5 217.9L272.3 218L277.1 218.1L281.9 218.3L286.7 218.3L291.5 218.4L296.3 218.5L301.1 218.5L305.9 218.5L310.7 218.5L315.5 218.5L320.3 218.4L325.1 218.3L329.9 218.3L334.7 218.1L339.5 218L344.3 217.9L349.1 217.7L353.9 217.5L358.6 217.3M253.2 222.6L258 222.8L262.8 223L267.6 223.2L272.4 223.4L277.2 223.5L282 223.6L286.7 223.7L291.5 223.7L296.3 223.8L301.1 223.9L305.9 223.9L310.7 223.9L315.5 223.8L320.3 223.7L325.1 223.6L329.9 223.5L334.7 223.4L339.5 223.3L344.2 223.2L349 223L353.8 222.8L358.6 222.6M253.3 227.9L258.1 228.1L262.9 228.3L267.7 228.6L272.5 228.8L277.3 228.9L282.1 229L286.8 229L291.6 229.1L296.3 229.2L301 229.3L305.9 229.3L310.8 229.3L315.7 229.2L320.6 229.1L325.3 228.9L330 228.8L334.6 228.7L339.4 228.6L344.1 228.5L349 228.3L353.8 228L358.6 227.8M253.5 233.2L258.2 233.4L263 233.6L267.7 233.9L272.5 234.1L277.4 234.3L282.2 234.4L286.9 234.4L291.7 234.4L296.4 234.5L301.2 234.6L306.1 234.7L311 234.7L315.9 234.7L320.7 234.5L325.4 234.2L330 234.1L334.6 233.9L339.3 233.8L344.1 233.7L349 233.5L353.8 233.3L358.6 233.1M253.6 238.5L258.3 238.7L263 238.9L267.7 239.1L272.5 239.4L277.3 239.6L282.2 239.7L287 239.8L291.9 239.8L296.7 239.8L301.6 239.8L306.4 239.9L311.3 240L316 240L320.6 239.9L325.2 239.7L329.9 239.4L334.6 239.2L339.4 239.1L344.2 239L349 238.8L353.7 238.6L358.5 238.4M253.7 243.8L258.4 244L263.1 244.2L267.7 244.4L272.5 244.6L277.3 244.7L282.1 245L287.1 245.1L292.1 245.2L297.1 245.2L302.1 245.1L306.9 245L311.5 245L315.9 245.1L320.4 245.1L325 245.1L329.8 244.9L334.7 244.6L339.6 244.4L344.3 244.2L349 244.1L353.6 243.9L358.4 243.6M253.9 249.1L258.6 249.4L263.2 249.6L267.9 249.7L272.5 249.7L277.3 249.8L282.1 250.1L287.1 250.4L292.2 250.6L297.3 250.6L302.3 250.4L307 250.2L311.6 250L316 250.1L320.5 250.3L325.2 250.4L329.9 250.4L334.8 250.2L339.5 249.8L344.2 249.5L348.8 249.3L353.5 249.1L358.3 248.9M254.1 254.4L258.7 254.7L263.4 254.9L268 255L272.7 255L277.4 255L282.2 255.1L287.2 255.5L292.2 255.8L297.2 255.9L302.1 255.8L306.8 255.4L311.6 255.2L316.3 255.2L320.9 255.4L325.6 255.7L330.2 255.8L334.7 255.6L339.2 255.3L343.8 254.9L348.5 254.6L353.4 254.4L358.2 254.2M254.2 259.7L258.9 259.9L263.6 260.2L268.2 260.3L272.9 260.3L277.6 260.3L282.4 260.4L287.3 260.6L292.2 260.9L296.9 261L301.7 261L306.5 260.8L311.4 260.6L316.4 260.5L321.3 260.7L326 260.9L330.3 261L334.6 260.9L338.9 260.6L343.5 260.3L348.3 260L353.3 259.7L358.1 259.4M254.4 265L259.1 265.2L263.7 265.4L268.4 265.6L273 265.7L277.8 265.8L282.6 265.8L287.4 265.8L292.2 265.9L296.9 266L301.6 266.1L306.4 266.2L311.3 266.2L316.3 266.2L321.2 266.1L325.8 266L330.1 266L334.4 265.9L338.8 265.8L343.4 265.6L348.3 265.4L353.2 265.1L358 264.7M254.6 270.2L259.2 270.4L263.9 270.6L268.5 270.9L273.2 271.2L278 271.4L282.7 271.4L287.5 271.2L292.2 271L297 271L301.7 271.2L306.5 271.6L311.3 271.9L315.9 271.9L320.5 271.6L325 271.3L329.6 271L334.2 271L338.9 271L343.7 271L348.4 270.8L353.1 270.4L357.8 270M254.8 275.5L259.4 275.7L264.1 275.9L268.7 276.2L273.5 276.6L278.1 276.9L282.8 276.9L287.4 276.7L292.2 276.4L297 276.3L301.9 276.6L306.7 277L311.2 277.4L315.5 277.4L319.8 277L324.3 276.6L329.1 276.3L334.1 276.2L339.1 276.3L343.9 276.2L348.5 276L353 275.7L357.6 275.2M255 280.8L259.6 281.1L264.3 281.3L269 281.6L273.7 281.9L278.4 282.2L282.9 282.3L287.4 282.2L292.1 282L296.9 282L301.7 282.2L306.4 282.5L310.9 282.6L315.2 282.5L319.5 282.3L324.1 281.9L329 281.7L334.1 281.6L339 281.6L343.8 281.5L348.3 281.2L352.8 280.9L357.4 280.5M255.2 286.1L259.9 286.4L264.6 286.7L269.3 287L274 287.2L278.5 287.4L283.1 287.5L287.5 287.6L292.1 287.7L296.6 287.9L301.3 287.9L305.9 287.9L310.5 287.8L315.1 287.6L319.7 287.4L324.5 287.3L329.2 287.2L334 287.1L338.7 286.9L343.4 286.7L348 286.4L352.6 286.1L357.2 285.8M255.4 291.4L260.1 291.8L264.8 292.1L269.5 292.3L274.1 292.5L278.7 292.6L283.3 292.8L287.8 293.1L292.2 293.4L296.5 293.5L300.9 293.5L305.3 293.3L310.1 293L315 292.8L320 292.7L324.8 292.7L329.5 292.7L333.9 292.5L338.4 292.2L343 291.9L347.6 291.6L352.4 291.3L357 291M255.6 296.7L260.3 297.1L265 297.4L269.6 297.6L274.2 297.8L278.8 297.9L283.4 298.2L288 298.5L292.4 298.8L296.6 298.9L300.9 298.8L305.2 298.6L309.9 298.3L314.9 298.2L319.9 298.1L324.8 298.1L329.4 298L333.8 297.8L338.2 297.4L342.8 297.1L347.5 296.8L352.2 296.6L356.7 296.3M255.9 302L260.5 302.4L265.1 302.7L269.7 302.9L274.3 303.1L278.9 303.3L283.5 303.6L288 303.8L292.5 304L296.8 304.1L301.1 304L305.5 303.8L310.1 303.7L314.8 303.6L319.6 303.6L324.3 303.5L329 303.3L333.6 303L338.2 302.7L342.8 302.4L347.4 302.1L351.9 301.9L356.4 301.6M256.1 307.3L260.7 307.6L265.3 307.9L269.9 308.2L274.4 308.4L279 308.7L283.5 308.9L288 309.1L292.4 309.2L296.9 309.2L301.4 309.1L306 309L310.4 309L314.9 309L319.4 308.9L324 308.8L328.7 308.5L333.4 308.3L338.1 308L342.7 307.7L347.2 307.5L351.7 307.2L356.2 306.8M256.4 312.6L260.9 312.9L265.5 313.2L270 313.5L274.6 313.7L279.1 314L283.5 314.2L287.9 314.3L292.4 314.3L297 314.4L301.6 314.4L306.1 314.4L310.6 314.3L315 314.3L319.4 314.2L323.9 314L328.5 313.8L333.2 313.6L337.9 313.3L342.5 313.1L347 312.8L351.4 312.5L355.9 312.1M256.6 317.9L261.1 318.2L265.6 318.5L270.2 318.8L274.7 319L279.2 319.2L283.6 319.4L288 319.5L292.5 319.6L297 319.6L301.6 319.7L306.1 319.7L310.6 319.7L315 319.6L319.5 319.5L324 319.3L328.5 319.1L333.1 318.9L337.6 318.7L342.1 318.4L346.6 318.1L351.1 317.8L355.5 317.4M256.9 323.2L261.4 323.5L265.8 323.8L270.3 324.1L274.8 324.3L279.2 324.5L283.7 324.7L288.2 324.8L292.6 324.9L297.1 325L301.6 325L306 325L310.5 325L315 324.9L319.5 324.8L323.9 324.6L328.4 324.4L332.9 324.2L337.3 324L341.8 323.7L346.3 323.4L350.7 323L355.2 322.6" fill="none" stroke="#000" stroke-width="0.65"/>
<path d="M238.2 215.2H364.1V341.1H238.2ZM254.7 341.1v4.8M238.2 216.1h-5.4M281.1 341.1v4.8M238.2 243.8h-5.4M307.6 341.1v4.8M238.2 271.4h-5.4M334 341.1v4.8M238.2 299h-5.4M360.5 341.1v4.8M238.2 326.7h-5.4" fill="none" stroke="#333" stroke-width="0.75"/>
<text x="254.7" y="358.7" font-family="'Liberation Sans',sans-serif" font-size="7.6" fill="#111" stroke="#111" stroke-width="0.3" text-anchor="middle">-0.2</text>
<text transform="translate(225.2 216.4) rotate(-90)" font-family="'Liberation Sans',sans-serif" font-size="7.6" fill="#111" stroke="#111" stroke-width="0.3" text-anchor="middle">0.2</text>
<text x="281.1" y="358.7" font-family="'Liberation Sans',sans-serif" font-size="7.6" fill="#111" stroke="#111" stroke-width="0.3" text-anchor="middle">-0.1</text>
<text transform="translate(225.2 244.1) rotate(-90)" font-family="'Liberation Sans',sans-serif" font-size="7.6" fill="#111" stroke="#111" stroke-width="0.3" text-anchor="middle">0.1</text>
<text x="307.6" y="358.7" font-family="'Liberation Sans',sans-serif" font-size="7.6" fill="#111" stroke="#111" stroke-width="0.3" text-anchor="middle">0.0</text>
<text transform="translate(225.2 271.7) rotate(-90)" font-family="'Liberation Sans',sans-serif" font-size="7.6" fill="#111" stroke="#111" stroke-width="0.3" text-anchor="middle">0.0</text>
<text x="334" y="358.7" font-family="'Liberation Sans',sans-serif" font-size="7.6" fill="#111" stroke="#111" stroke-width="0.3" text-anchor="middle">0.1</text>
<text transform="translate(225.2 299.3) rotate(-90)" font-family="'Liberation Sans',sans-serif" font-size="7.6" fill="#111" stroke="#111" stroke-width="0.3" text-anchor="middle">-0.1</text>
<text x="360.5" y="358.7" font-family="'Liberation Sans',sans-serif" font-size="7.6" fill="#111" stroke="#111" stroke-width="0.3" text-anchor="middle">0.2</text>
<text transform="translate(225.2 327) rotate(-90)" font-family="'Liberation Sans',sans-serif" font-size="7.6" fill="#111" stroke="#111" stroke-width="0.3" text-anchor="middle">-0.2</text>
<g fill="#61D04F"><circle cx="307.7" cy="221.4" r="2.9"/><circle cx="294.2" cy="223.9" r="2.9"/><circle cx="321.2" cy="223.9" r="2.9"/><circle cx="283.7" cy="229.5" r="2.9"/><circle cx="331.7" cy="229.5" r="2.9"/><circle cx="277.2" cy="240.1" r="2.9"/><circle cx="338.2" cy="240.1" r="2.9"/><circle cx="273.9" cy="253" r="2.9"/><circle cx="341.5" cy="253" r="2.9"/><circle cx="272.3" cy="264.5" r="2.9"/><circle cx="343.1" cy="264.5" r="2.9"/><circle cx="272.2" cy="275.7" r="2.9"/><circle cx="343.2" cy="275.7" r="2.9"/><circle cx="274.4" cy="286.8" r="2.9"/><circle cx="341" cy="286.8" r="2.9"/><circle cx="278.7" cy="298.4" r="2.9"/><circle cx="336.7" cy="298.4" r="2.9"/><circle cx="286.3" cy="308.4" r="2.9"/><circle cx="329.1" cy="308.4" r="2.9"/><circle cx="295.6" cy="316.3" r="2.9"/><circle cx="319.8" cy="316.3" r="2.9"/><circle cx="307.7" cy="320.7" r="2.9"/><circle cx="280.1" cy="255.2" r="2.9"/><circle cx="335" cy="254.7" r="2.9"/><circle cx="285" cy="252.4" r="2.9"/><circle cx="330.6" cy="252.8" r="2.9"/><circle cx="289.4" cy="251.8" r="2.9"/><circle cx="325.7" cy="252.3" r="2.9"/><circle cx="293.5" cy="252.5" r="2.9"/><circle cx="321.2" cy="252.3" r="2.9"/><circle cx="297.5" cy="253.9" r="2.9"/><circle cx="317.5" cy="254.6" r="2.9"/><circle cx="283.4" cy="256.5" r="2.9"/><circle cx="332.3" cy="256.2" r="2.9"/><circle cx="287.4" cy="255.7" r="2.9"/><circle cx="327.7" cy="255.4" r="2.9"/><circle cx="291.5" cy="255.3" r="2.9"/><circle cx="323.3" cy="255.7" r="2.9"/><circle cx="295.4" cy="256.2" r="2.9"/><circle cx="320.2" cy="256.6" r="2.9"/><circle cx="294.3" cy="259" r="2.9"/><circle cx="321" cy="258.3" r="2.9"/><circle cx="284" cy="264.2" r="2.9"/><circle cx="331.5" cy="264.6" r="2.9"/><circle cx="287.7" cy="262.1" r="2.9"/><circle cx="328" cy="262.3" r="2.9"/><circle cx="291.6" cy="261.5" r="2.9"/><circle cx="323.2" cy="261.4" r="2.9"/><circle cx="295.6" cy="262" r="2.9"/><circle cx="320.2" cy="262.3" r="2.9"/><circle cx="287.2" cy="266" r="2.9"/><circle cx="328.2" cy="266.7" r="2.9"/><circle cx="291.9" cy="267" r="2.9"/><circle cx="323.9" cy="267.2" r="2.9"/><circle cx="295.5" cy="266.1" r="2.9"/><circle cx="320.1" cy="265.9" r="2.9"/><circle cx="291.3" cy="264.1" r="2.9"/><circle cx="323.7" cy="264.3" r="2.9"/><circle cx="299.4" cy="264.7" r="2.9"/><circle cx="316.6" cy="265.1" r="2.9"/><circle cx="301.8" cy="266.1" r="2.9"/><circle cx="313.4" cy="266.1" r="2.9"/><circle cx="300.8" cy="267.8" r="2.3"/><circle cx="314" cy="268.4" r="2.3"/><circle cx="301.1" cy="271.8" r="2.3"/><circle cx="314.5" cy="272.2" r="2.3"/><circle cx="299.8" cy="276.2" r="2.3"/><circle cx="315.9" cy="275.8" r="2.3"/><circle cx="298.2" cy="280.1" r="2.3"/><circle cx="316.5" cy="279" r="2.3"/><circle cx="297.8" cy="283" r="2.3"/><circle cx="318.2" cy="282.6" r="2.3"/><circle cx="296.5" cy="289" r="2.9"/><circle cx="318" cy="288.5" r="2.9"/><circle cx="300.3" cy="289.8" r="2.9"/><circle cx="315" cy="290.6" r="2.9"/><circle cx="303.6" cy="290.8" r="2.9"/><circle cx="311.4" cy="290.9" r="2.9"/><circle cx="308.1" cy="291.9" r="2.9"/><circle cx="294.3" cy="300" r="2.9"/><circle cx="321.4" cy="299.6" r="2.9"/><circle cx="298.5" cy="297.7" r="2.9"/><circle cx="317.1" cy="297.7" r="2.9"/><circle cx="302.8" cy="298.2" r="2.9"/><circle cx="312.1" cy="298.2" r="2.9"/><circle cx="307.9" cy="298.5" r="2.9"/><circle cx="296.5" cy="302.7" r="2.9"/><circle cx="318.8" cy="302.8" r="2.9"/><circle cx="300.1" cy="305.4" r="2.9"/><circle cx="315.3" cy="305.7" r="2.9"/><circle cx="303.8" cy="306.8" r="2.9"/><circle cx="311.3" cy="306.6" r="2.9"/><circle cx="307.6" cy="307.2" r="2.9"/></g>
<g fill="#DF536B"><circle cx="307.7" cy="222" r="3.1"/><circle cx="294.4" cy="224.6" r="3.1"/><circle cx="321" cy="224.6" r="3.1"/><circle cx="283.9" cy="230.1" r="3.1"/><circle cx="331.5" cy="230.1" r="3.1"/><circle cx="277.5" cy="240.7" r="3.1"/><circle cx="337.9" cy="240.7" r="3.1"/><circle cx="274.1" cy="253.4" r="3.1"/><circle cx="341.3" cy="253.4" r="3.1"/><circle cx="272.5" cy="264.9" r="3.1"/><circle cx="342.9" cy="264.9" r="3.1"/><circle cx="272.8" cy="276.3" r="3.1"/><circle cx="342.6" cy="276.3" r="3.1"/><circle cx="275.3" cy="287.7" r="3.1"/><circle cx="340.1" cy="287.7" r="3.1"/><circle cx="279.6" cy="299.5" r="3.1"/><circle cx="335.8" cy="299.5" r="3.1"/><circle cx="286.9" cy="309.5" r="3.1"/><circle cx="328.5" cy="309.5" r="3.1"/><circle cx="295.9" cy="317.4" r="3.1"/><circle cx="319.5" cy="317.4" r="3.1"/><circle cx="307.7" cy="321.8" r="3.1"/><circle cx="280.6" cy="254.8" r="3.0"/><circle cx="334.5" cy="254.4" r="3.0"/><circle cx="285.3" cy="252.2" r="3.0"/><circle cx="330.6" cy="252.3" r="3.0"/><circle cx="289.4" cy="251.6" r="3.0"/><circle cx="325.7" cy="251.7" r="3.0"/><circle cx="293.6" cy="252.1" r="3.0"/><circle cx="321.2" cy="252.3" r="3.0"/><circle cx="297.6" cy="253.7" r="3.0"/><circle cx="317.4" cy="254" r="3.0"/><circle cx="283.5" cy="256" r="3.0"/><circle cx="331.9" cy="255.6" r="3.0"/><circle cx="287.5" cy="255.4" r="3.0"/><circle cx="327.8" cy="255.1" r="3.0"/><circle cx="291.8" cy="255.1" r="3.0"/><circle cx="323.2" cy="255.4" r="3.0"/><circle cx="295.6" cy="256" r="3.0"/><circle cx="319.8" cy="256.2" r="3.0"/><circle cx="294.5" cy="258.5" r="3.0"/><circle cx="320.6" cy="258.1" r="3.0"/><circle cx="284.1" cy="264.1" r="3.0"/><circle cx="331.1" cy="264.5" r="3.0"/><circle cx="287.7" cy="261.6" r="3.0"/><circle cx="327.5" cy="261.9" r="3.0"/><circle cx="291.7" cy="261.2" r="3.0"/><circle cx="323.3" cy="261" r="3.0"/><circle cx="295.8" cy="262" r="3.0"/><circle cx="320" cy="261.8" r="3.0"/><circle cx="287.2" cy="266" r="3.0"/><circle cx="328" cy="266.3" r="3.0"/><circle cx="292" cy="266.5" r="3.0"/><circle cx="323.8" cy="267" r="3.0"/><circle cx="295.7" cy="265.7" r="3.0"/><circle cx="319.8" cy="265.8" r="3.0"/><circle cx="291.5" cy="263.9" r="3.0"/><circle cx="323.4" cy="263.7" r="3.0"/><circle cx="299.2" cy="264.3" r="3.0"/><circle cx="316.6" cy="264.5" r="3.0"/><circle cx="301.9" cy="265.5" r="3.0"/><circle cx="313.1" cy="265.7" r="3.0"/><circle cx="301.4" cy="267.7" r="2.4"/><circle cx="313.7" cy="268.1" r="2.4"/><circle cx="301.4" cy="271.3" r="2.4"/><circle cx="314.2" cy="271.8" r="2.4"/><circle cx="300.5" cy="275.7" r="2.4"/><circle cx="315.2" cy="275.2" r="2.4"/><circle cx="299.1" cy="279.5" r="2.4"/><circle cx="315.7" cy="279" r="2.4"/><circle cx="298.2" cy="283" r="2.4"/><circle cx="317.5" cy="282.5" r="2.4"/><circle cx="297.1" cy="287.9" r="3.0"/><circle cx="317.7" cy="287.5" r="3.0"/><circle cx="300.8" cy="289" r="3.0"/><circle cx="314.4" cy="289.6" r="3.0"/><circle cx="304" cy="289.9" r="3.0"/><circle cx="311.1" cy="289.9" r="3.0"/><circle cx="307.8" cy="290.9" r="3.0"/><circle cx="294.6" cy="299" r="3.0"/><circle cx="321.1" cy="298.3" r="3.0"/><circle cx="298.9" cy="296.9" r="3.0"/><circle cx="316.7" cy="296.7" r="3.0"/><circle cx="303.2" cy="297" r="3.0"/><circle cx="312.1" cy="297" r="3.0"/><circle cx="307.8" cy="297.4" r="3.0"/><circle cx="296.9" cy="301.7" r="3.0"/><circle cx="318.5" cy="301.8" r="3.0"/><circle cx="300.3" cy="304.4" r="3.0"/><circle cx="315.2" cy="304.6" r="3.0"/><circle cx="304" cy="305.6" r="3.0"/><circle cx="311.4" cy="305.7" r="3.0"/><circle cx="307.7" cy="305.9" r="3.0"/></g>
<path d="M307.7 221.4l0.7 3.8M307.7 221.4l-1.6 3.5M294.2 224l1.5 3.5M294.2 224l-0.8 3.8M321.2 224l0.7 3.5M321.2 224l-1.4 3.3M283.7 229.5l3.1 2.4M283.7 229.5l1.3 3.8M331.7 229.5l0.1 3.6M331.7 229.5l-1.9 3M277.2 240.2l2.2 2.7M277.2 240.2l0.4 3.5M338.2 240.2l-1.4 3.6M338.2 240.2l-3.2 2.2M273.8 252.9l2 2.6M273.8 252.9l0.2 3.3M341.6 252.9l-1.6 3.5M341.6 252.9l-3.3 2M272.2 264.4l3.3 2M272.2 264.4l1.6 3.5M343.2 264.4l-0.8 3.2M343.2 264.4l-2.4 2.2M272.4 275.9l2.8 1.6M272.4 275.9l1.4 2.9M343 275.9l-1 3.1M343 275.9l-2.6 2M274.9 287.2l2.7 1.5M274.9 287.2l1.4 2.7M340.5 287.2l-2 3.6M340.5 287.2l-3.7 1.9M279.2 299.1l2.9 2.3M279.2 299.1l1.1 3.5M336.2 299.1l-1.6 3.1M336.2 299.1l-3 1.7M286.6 309l3.2 2M286.6 309l1.5 3.4M328.8 309l-1 3.8M328.8 309l-3 2.6M295.7 316.8l2.5 2.9M295.7 316.8l0.5 3.8M319.7 316.8l-0.6 3.7M319.7 316.8l-2.5 2.8M307.7 321.2l1.8 3.6M307.7 321.2l-0.5 4M280.1 255.2l2.4 -3.1M280.1 255.2l3.7 -1.2M335 254.7l-3.7 -1.1M335 254.7l-2.5 -3M284.8 252.4l2.7 -2.3M284.8 252.4l3.6 -0.4M330.6 252.9l-1.7 -3M330.6 252.9l0.3 -3.5M289.4 252.2l-1.7 -3.2M289.4 252.2l0.3 -3.6M325.7 252.3l-1.3 -2.9M325.7 252.3l0.6 -3.1M293.4 252.7l0.7 -3.4M293.4 252.7l2.5 -2.5M321.7 252.7l-3.3 -1.6M321.7 252.7l-1.8 -3.2M297.5 254.3l-0.5 -3.5M297.5 254.3l1.5 -3.2M317.5 254.6l-2.4 -2.5M317.5 254.6l-0.6 -3.4M283.4 256.6l-1 -3.4M283.4 256.6l1.1 -3.4M332.2 256.1l-3.7 -1.9M332.2 256.1l-2 -3.6M287.4 256l-0.4 -3.3M287.4 256l1.5 -3M327.7 255.7l-0.2 -3.9M327.7 255.7l2 -3.3M291.3 255.4l2.8 -2.3M291.3 255.4l3.6 -0.3M323.5 256l-2.5 -2.4M323.5 256l-0.7 -3.4M295.2 256.4l1.5 -2.9M295.2 256.4l2.8 -1.6M320.3 256.6l-2.3 -1.6M320.3 256.6l-1 -2.7M294.3 259l0.5 -3.7M294.3 259l2.5 -2.8M321.2 258.4l-2.9 -0.4M321.2 258.4l-2.2 -2M283.7 264.5l1.6 -3.1M283.7 264.5l3 -1.7M331.7 264.7l-4 -0.6M331.7 264.7l-3 -2.7M287.7 262.2l-0.5 -3.2M287.7 262.2l1.4 -3M328 262.3l-3.8 -1.1M328 262.3l-2.5 -3.1M291.5 261.8l-0.2 -3.3M291.5 261.8l1.6 -2.9M323.2 261.6l0.1 -3.6M323.2 261.6l2.1 -2.9M295.2 262.1l2.3 -1.6M295.2 262.1l2.8 -0.1M320.3 262.4l-1.9 -2.5M320.3 262.4l-0.2 -3.1M286.9 266.4l0.7 -3.1M286.9 266.4l2.3 -2.2M328.3 266.8l-2.7 -2.2M328.3 266.8l-1.1 -3.3M291.9 267.1l-1.1 -3.2M291.9 267.1l0.8 -3.2M324.2 267.5l-3 -2.4M324.2 267.5l-1.1 -3.6M295.5 266.2l-0.3 -3.3M295.5 266.2l1.6 -2.9M320.4 266l-2.6 0M320.4 266l-2.2 -1.4M291.1 264.4l1 -2.8M291.1 264.4l2.3 -1.7M323.6 264.2l-1.8 -2.3M323.6 264.2l-0.2 -2.9M299.5 264.9l-2.8 -2.2M299.5 264.9l-1.1 -3.4M316.6 265.1l-0.4 -3.7M316.6 265.1l1.8 -3.3M301.8 266.1l0.4 -3.8M301.8 266.1l2.5 -2.9M313.5 266.2l-2.4 -1.9M313.5 266.2l-0.9 -2.9M300.8 267.8l2.7 -1.5M300.8 267.8l3.1 0.3M314.1 268.5l-2.5 -2.1M314.1 268.5l-0.9 -3.2M301.1 271.8l1.6 -3.3M301.1 271.8l3.2 -1.8M314.6 272.2l-3 -1.9M314.6 272.2l-1.4 -3.3M300 276.1l2.3 -3M300 276.1l3.6 -1.2M315.7 275.6l-2.9 -1M315.7 275.6l-1.8 -2.4M298.6 279.8l3 -2.9M298.6 279.8l4.1 -0.7M316.3 279l-3.2 0.5M316.3 279l-3 -1.4M297.6 283l3.7 -1.3M297.6 283l3.8 1M318.1 282.5l-3.3 0.7M318.1 282.5l-3.1 -1.2M296.8 288.4l1.5 -3.6M296.8 288.4l3.2 -2.1M317.9 288.1l-1.6 -3.1M317.9 288.1l0.4 -3.5M300.5 289.5l0 -3.1M300.5 289.5l1.7 -2.6M314.7 290.1l-2.2 -2.2M314.7 290.1l-0.5 -3.1M303.7 290.5l0.8 -3.5M303.7 290.5l2.6 -2.5M311.3 290.5l-2.1 -2.9M311.3 290.5l-0.1 -3.6M308 291.4l-1.5 -3M308 291.4l0.4 -3.3M294.4 299.5l0.3 -3.3M294.4 299.5l2.1 -2.5M321.2 298.9l-1.4 -3.2M321.2 298.9l0.6 -3.4M298.6 297.4l-0.3 -3.5M298.6 297.4l1.7 -3M316.9 297.3l-2.2 -2.9M316.9 297.3l-0.3 -3.6M303 297.6l-0.6 -3.3M303 297.6l1.4 -3.1M312.1 297.6l-1.2 -3.2M312.1 297.6l0.8 -3.3M307.9 298l-1.3 -3.1M307.9 298l0.6 -3.3M296.7 302.2l0.6 -3.9M296.7 302.2l2.6 -2.9M318.7 302.4l-1.3 -2.9M318.7 302.4l0.5 -3.1M300.2 305l-1 -3.1M300.2 305l0.9 -3.1M315.3 305.2l-2.1 -3.3M315.3 305.2l0.1 -3.9M303.9 306.2l-1 -3M303.9 306.2l0.8 -3.1M311.3 306.3l-1 -3.3M311.3 306.3l1.1 -3.3M307.6 306.5l-1.2 -3.3M307.6 306.5l0.8 -3.4" fill="none" stroke="#2297E6" stroke-width="0.58" stroke-linecap="round" opacity="0.95"/>
</g>
<g>
<path d="M406.5 222.5L406.4 227.5L406.3 232.4L406.2 237.3L406.2 242.3L406.1 247.2L406 252.2L405.9 257.1L405.8 262.1L405.7 267L405.6 272L405.5 276.9L405.4 281.9L405.3 286.9L405.2 291.8L405.1 296.8L405 301.7L404.9 306.6L404.8 311.6L404.6 316.5L404.5 321.5L404.4 326.4L404.3 331.4M411.6 222.2L411.6 227.2L411.5 232.1L411.4 237.1L411.4 242L411.3 246.9L411.2 251.8L411.1 256.8L411 261.8L410.9 266.7L410.8 271.7L410.7 276.6L410.6 281.5L410.5 286.4L410.5 291.4L410.4 296.3L410.3 301.3L410.2 306.3L410.1 311.2L410 316.2L409.8 321.1L409.7 326.1L409.6 331M416.8 222L416.7 227L416.7 231.9L416.6 236.8L416.5 241.6L416.4 246.5L416.4 251.4L416.4 256.4L416.4 261.5L416.3 266.5L416.1 271.5L415.9 276.3L415.8 281.1L415.7 285.9L415.7 290.8L415.7 295.8L415.7 300.9L415.6 306L415.4 311L415.3 315.9L415.1 320.8L415 325.7L414.9 330.7M421.9 221.8L421.9 226.8L421.8 231.7L421.7 236.6L421.6 241.4L421.5 246.2L421.6 251.1L421.6 256.1L421.6 261.2L421.5 266.3L421.4 271.2L421.1 276L421 280.7L420.9 285.5L421 290.4L421.1 295.4L421.1 300.6L421 305.7L420.8 310.7L420.6 315.6L420.4 320.5L420.3 325.4L420.2 330.3M427.1 221.6L427 226.6L427 231.5L426.9 236.4L426.7 241.2L426.7 246.1L426.6 250.9L426.7 255.9L426.7 260.9L426.7 265.9L426.6 270.8L426.5 275.6L426.4 280.4L426.4 285.2L426.4 290.2L426.4 295.2L426.4 300.3L426.3 305.3L426.1 310.4L426 315.3L425.8 320.2L425.7 325.1L425.6 330M432.2 221.4L432.2 226.3L432.2 231.2L432.1 236.2L432 241.2L431.9 246.2L431.7 251.1L431.6 255.9L431.5 260.6L431.6 265.3L431.8 270.2L431.9 275.2L432 280.2L432 285.3L431.9 290.3L431.8 295.2L431.6 300.1L431.5 305L431.4 309.9L431.3 314.9L431.1 319.9L431 324.9L430.9 329.7M437.4 221.3L437.3 226.1L437.3 231L437.3 236L437.2 241.2L437.1 246.3L436.8 251.3L436.6 255.9L436.5 260.4L436.6 264.9L437 269.6L437.3 274.8L437.6 280.1L437.6 285.4L437.4 290.5L437.2 295.3L436.9 299.9L436.7 304.6L436.6 309.5L436.5 314.5L436.5 319.6L436.3 324.6L436.2 329.5M442.5 221.2L442.5 226L442.5 230.8L442.4 235.9L442.3 241.1L442.2 246.3L442 251.3L441.8 255.9L441.8 260.3L441.9 264.7L442.2 269.5L442.5 274.6L442.8 280.1L442.9 285.5L442.8 290.6L442.6 295.3L442.3 299.8L442.1 304.4L441.9 309.2L441.8 314.2L441.7 319.4L441.6 324.4L441.5 329.2M447.6 221.1L447.7 226L447.6 230.9L447.5 235.8L447.3 240.9L447.2 246L447.2 250.9L447.2 255.7L447.3 260.4L447.4 265L447.5 269.9L447.6 275L447.8 280.1L448 285.3L448 290.2L448 295L447.8 299.6L447.6 304.3L447.3 309.2L447.1 314.2L446.9 319.2L446.9 324.2L446.8 329M452.8 221.1L452.8 226.1L452.7 231L452.6 235.9L452.4 240.7L452.4 245.5L452.4 250.3L452.6 255.4L452.7 260.5L452.8 265.7L452.8 270.7L452.8 275.5L452.9 280.2L453 284.8L453.2 289.5L453.3 294.4L453.2 299.4L453 304.5L452.7 309.4L452.4 314.3L452.2 319.1L452.1 323.9L452.1 328.8M457.9 221.1L458 226.1L457.9 231.1L457.8 235.9L457.7 240.5L457.6 245.1L457.7 249.9L457.8 255.1L457.9 260.7L458.1 266.2L458.2 271.3L458.2 275.9L458.3 280.2L458.3 284.4L458.3 289L458.4 294L458.3 299.4L458.1 304.6L457.9 309.6L457.7 314.4L457.5 319L457.5 323.7L457.4 328.7M463.1 221.1L463.1 226.1L463.2 231.2L463.2 235.9L463.1 240.5L463 245.1L462.9 249.9L462.9 255.2L463 260.7L463.2 266.2L463.5 271.3L463.7 275.8L463.7 280.1L463.7 284.3L463.5 289L463.4 294.1L463.2 299.4L463.2 304.7L463.1 309.6L463 314.3L462.9 318.9L462.8 323.6L462.8 328.5M468.2 221.2L468.3 226.1L468.4 231L468.5 235.9L468.5 240.7L468.4 245.5L468.3 250.4L468.2 255.4L468.3 260.6L468.5 265.7L468.7 270.6L468.9 275.3L469 279.9L468.9 284.6L468.7 289.5L468.4 294.5L468.3 299.6L468.2 304.5L468.3 309.3L468.3 314L468.3 318.7L468.2 323.5L468.1 328.4M473.4 221.2L473.5 226L473.6 230.9L473.7 235.9L473.7 240.9L473.8 246L473.7 251L473.7 255.7L473.8 260.4L473.8 265L473.9 269.7L474 274.6L474 279.7L473.9 284.9L473.8 290L473.6 295L473.5 299.7L473.5 304.3L473.5 308.9L473.5 313.7L473.5 318.5L473.5 323.4L473.4 328.3M478.5 221.3L478.6 226.1L478.7 230.9L478.8 235.9L478.9 241.1L479 246.3L479.2 251.3L479.3 255.8L479.4 260.2L479.3 264.5L479.1 269.2L479 274.3L478.9 279.7L478.8 285.1L478.9 290.3L478.9 295.1L479 299.6L478.9 304.1L478.8 308.7L478.8 313.5L478.8 318.4L478.7 323.4L478.7 328.3M483.6 221.5L483.8 226.2L483.9 231.1L483.9 236.1L484.1 241.2L484.3 246.3L484.6 251.2L484.8 255.7L484.8 260.1L484.7 264.5L484.3 269.2L484 274.4L483.9 279.7L483.9 285.1L484 290.1L484.2 294.9L484.3 299.4L484.3 304L484.2 308.7L484.1 313.5L484 318.5L484 323.4L484 328.2M488.8 221.6L488.9 226.5L489 231.3L489.2 236.2L489.4 241.2L489.6 246.1L489.8 250.8L489.9 255.5L489.9 260.1L489.8 264.8L489.6 269.7L489.4 274.7L489.2 279.8L489.2 284.8L489.3 289.7L489.4 294.5L489.5 299.2L489.5 304L489.4 308.8L489.4 313.7L489.4 318.6L489.4 323.4L489.3 328.2M493.9 221.8L494.1 226.7L494.2 231.6L494.5 236.4L494.7 241.2L494.8 245.9L494.9 250.6L495 255.4L494.9 260.3L494.9 265.2L494.8 270.1L494.8 275L494.7 279.8L494.7 284.6L494.6 289.3L494.6 294.2L494.6 299.1L494.6 304L494.7 309L494.8 313.8L494.8 318.6L494.7 323.4L494.6 328.2M499.1 222L499.2 226.9L499.4 231.8L499.7 236.6L499.9 241.3L500 246L500 250.7L500 255.6L500 260.5L500 265.5L500.1 270.3L500.2 275.1L500.2 279.8L500.1 284.5L500 289.3L499.8 294.2L499.8 299.1L499.9 304.1L500 309L500.1 313.9L500.1 318.7L500.1 323.4L500 328.2M504.2 222.3L504.4 227.1L504.6 232L504.8 236.8L505 241.5L505.1 246.2L505.2 251L505.2 255.8L505.2 260.7L505.3 265.6L505.4 270.4L505.4 275.2L505.4 279.9L505.4 284.7L505.3 289.5L505.2 294.4L505.2 299.3L505.3 304.2L505.4 309.1L505.4 313.9L505.4 318.7L505.4 323.5L505.3 328.3M509.4 222.5L509.5 227.4L509.7 232.2L509.9 237L510 241.8L510.2 246.5L510.3 251.3L510.4 256.2L510.5 261L510.6 265.8L510.6 270.6L510.6 275.4L510.6 280.1L510.6 284.9L510.6 289.8L510.7 294.6L510.7 299.5L510.7 304.3L510.8 309.1L510.7 313.9L510.7 318.7L510.7 323.5L510.6 328.4M514.5 222.8L514.7 227.7L514.9 232.4L515 237.2L515.2 242L515.3 246.8L515.4 251.6L515.6 256.5L515.7 261.2L515.7 266L515.8 270.8L515.9 275.6L516 280.4L516 285.2L516 290L516.1 294.9L516.1 299.6L516.1 304.4L516.1 309.2L516 314L516 318.9L516 323.6L515.9 328.4M406.5 222.5L411.4 222.2L416.3 222L421.2 221.8L426.1 221.6L431 221.5L436 221.3L440.9 221.2L445.8 221.2L450.7 221.1L455.6 221.1L460.5 221.1L465.4 221.1L470.3 221.2L475.2 221.3L480.1 221.4L485 221.5L490 221.7L494.9 221.8L499.8 222.1L504.7 222.3L509.6 222.6L514.5 222.8M406.4 227.5L411.3 227.2L416.3 227L421.2 226.8L426.1 226.6L431 226.4L435.9 226.2L440.8 226L445.8 226L450.7 226L455.6 226.1L460.6 226.1L465.5 226.1L470.4 226.1L475.3 226L480.3 226.1L485.2 226.3L490.1 226.5L495 226.7L499.9 227L504.8 227.2L509.8 227.4L514.7 227.7M406.3 232.4L411.3 232.1L416.2 231.9L421.1 231.8L426 231.5L431 231.3L435.9 231L440.8 230.9L445.7 230.8L450.6 230.9L455.6 231.1L460.6 231.2L465.5 231.1L470.5 231L475.4 230.9L480.3 230.9L485.3 231.1L490.2 231.4L495.2 231.6L500.1 231.8L505 232L509.9 232.2L514.9 232.4M406.2 237.3L411.2 237.1L416.1 236.8L421 236.6L425.9 236.4L430.9 236.2L435.9 236L440.8 235.9L445.6 235.8L450.5 235.9L455.4 235.9L460.5 235.9L465.6 235.9L470.6 235.9L475.5 235.9L480.4 236L485.4 236.1L490.4 236.3L495.4 236.4L500.4 236.6L505.2 236.8L510.1 237L515 237.2M406.2 242.3L411.1 242L416 241.7L420.9 241.4L425.8 241.2L430.8 241.2L435.8 241.2L440.7 241.1L445.5 241L450.3 240.8L455.3 240.6L460.4 240.5L465.6 240.6L470.6 240.8L475.6 241L480.5 241.2L485.5 241.2L490.6 241.2L495.6 241.2L500.6 241.3L505.4 241.5L510.3 241.8L515.2 242M406.1 247.2L411.1 246.9L416 246.5L420.8 246.2L425.7 246.1L430.7 246.1L435.7 246.3L440.6 246.4L445.4 246.1L450.3 245.7L455.2 245.2L460.3 245L465.5 245.2L470.6 245.7L475.7 246.1L480.7 246.3L485.7 246.2L490.8 246L495.8 245.9L500.7 246L505.6 246.2L510.4 246.6L515.3 246.8M406 252.2L411 251.8L415.9 251.4L420.9 251.1L425.7 250.9L430.6 251L435.4 251.2L440.3 251.3L445.3 251.1L450.3 250.6L455.3 250.1L460.3 249.8L465.4 250.1L470.5 250.6L475.7 251.1L480.9 251.3L486 251.1L491 250.8L495.9 250.6L500.7 250.7L505.6 251L510.5 251.4L515.4 251.6M405.9 257.1L410.9 256.8L415.9 256.4L420.9 256.1L425.8 255.9L430.5 255.9L435.2 255.9L440.1 255.9L445.2 255.8L450.4 255.5L455.4 255.2L460.3 255.1L465.3 255.3L470.5 255.6L475.8 255.8L481.1 255.8L486.2 255.7L491.1 255.5L495.9 255.4L500.7 255.6L505.7 255.9L510.6 256.2L515.6 256.5M405.8 262.1L410.8 261.8L415.9 261.5L420.9 261.2L425.8 261L430.4 260.7L435.1 260.4L440.1 260.3L445.3 260.3L450.5 260.5L455.6 260.6L460.5 260.7L465.4 260.7L470.5 260.5L475.8 260.3L481.1 260.1L486.2 260.1L491.1 260.2L495.8 260.3L500.7 260.5L505.7 260.8L510.7 261L515.7 261.2M405.7 267L410.7 266.8L415.8 266.5L420.8 266.3L425.7 266L430.5 265.5L435.3 265L440.2 264.7L445.4 264.9L450.6 265.4L455.7 266L460.7 266.3L465.6 266L470.6 265.4L475.8 264.8L481 264.5L486.1 264.6L491 264.9L495.8 265.3L500.7 265.5L505.8 265.6L510.8 265.8L515.7 266M405.6 272L410.6 271.7L415.6 271.5L420.6 271.3L425.6 270.9L430.6 270.3L435.5 269.8L440.5 269.4L445.5 269.7L450.6 270.4L455.7 271.1L460.8 271.4L465.9 271L470.9 270.2L475.8 269.5L480.8 269.2L485.8 269.3L490.8 269.8L495.8 270.2L500.8 270.4L505.8 270.5L510.8 270.6L515.8 270.8M405.5 276.9L410.5 276.6L415.4 276.3L420.4 276.1L425.5 275.7L430.7 275.3L435.9 274.8L440.9 274.6L445.8 274.8L450.7 275.3L455.8 275.8L460.9 275.9L466.1 275.6L471 275L475.8 274.5L480.6 274.3L485.5 274.4L490.6 274.8L495.8 275L500.9 275.1L505.9 275.2L510.9 275.4L515.9 275.6M405.4 281.9L410.4 281.5L415.3 281.1L420.2 280.8L425.4 280.5L430.8 280.3L436.1 280.1L441.2 280.1L446 280.1L450.8 280.2L455.8 280.2L461 280.1L466.2 280L471.1 279.8L475.8 279.7L480.4 279.7L485.3 279.7L490.5 279.8L495.7 279.8L500.9 279.8L505.9 279.9L510.9 280.2L516 280.4M405.3 286.9L410.3 286.4L415.2 286L420.2 285.5L425.4 285.3L430.7 285.3L436.1 285.4L441.3 285.5L446.1 285.4L450.9 285L455.9 284.6L461 284.3L466.1 284.4L471 284.7L475.7 285L480.4 285.1L485.3 285L490.5 284.7L495.7 284.5L500.8 284.5L505.9 284.7L510.9 285L516 285.2M405.2 291.8L410.2 291.4L415.2 290.9L420.3 290.4L425.4 290.2L430.7 290.2L435.9 290.5L441.1 290.6L446.2 290.4L451.1 289.8L456 289.2L460.9 288.9L465.9 289.2L470.8 289.7L475.6 290.2L480.5 290.3L485.5 290L490.5 289.6L495.6 289.3L500.7 289.3L505.8 289.5L510.9 289.8L516 290M405.1 296.8L410.1 296.3L415.2 295.9L420.3 295.5L425.4 295.2L430.5 295.2L435.7 295.3L440.9 295.3L446.1 295.1L451.1 294.6L456.1 294.2L460.9 294L465.7 294.2L470.5 294.7L475.6 295.1L480.6 295.1L485.6 294.8L490.6 294.4L495.5 294.2L500.6 294.2L505.7 294.4L510.9 294.6L516.1 294.9M405 301.7L410 301.3L415.2 300.9L420.4 300.6L425.4 300.3L430.4 300.1L435.4 300L440.6 299.8L445.8 299.7L451 299.5L456 299.4L460.8 299.4L465.5 299.5L470.4 299.6L475.5 299.7L480.7 299.6L485.7 299.4L490.6 299.2L495.5 299.1L500.5 299.2L505.7 299.3L510.9 299.5L516.1 299.6M404.9 306.6L409.9 306.3L415.1 306L420.3 305.7L425.3 305.4L430.3 305L435.3 304.7L440.4 304.4L445.6 304.3L450.8 304.4L455.8 304.6L460.6 304.7L465.4 304.6L470.4 304.5L475.5 304.2L480.6 304L485.7 304L490.6 304L495.6 304L500.6 304.1L505.8 304.2L511 304.3L516.1 304.4M404.8 311.6L409.8 311.3L415 311L420.1 310.7L425.2 310.4L430.2 310L435.2 309.6L440.2 309.2L445.4 309.2L450.5 309.3L455.5 309.6L460.5 309.7L465.4 309.5L470.4 309.2L475.5 308.8L480.5 308.7L485.6 308.7L490.6 308.8L495.7 309L500.8 309.1L505.9 309.1L511 309.1L516.1 309.2M404.6 316.5L409.7 316.2L414.8 315.9L419.9 315.7L425 315.4L430.1 315L435.1 314.6L440.1 314.3L445.2 314.2L450.2 314.3L455.3 314.4L460.4 314.4L465.4 314.2L470.4 313.8L475.5 313.6L480.5 313.5L485.5 313.6L490.6 313.7L495.7 313.8L500.9 313.9L505.9 313.9L511 313.9L516 314M404.5 321.5L409.6 321.2L414.7 320.8L419.7 320.5L424.8 320.3L429.9 320L435 319.7L440 319.4L445 319.3L450 319.2L455.1 319.1L460.2 318.9L465.4 318.8L470.4 318.6L475.4 318.5L480.4 318.4L485.5 318.5L490.6 318.6L495.8 318.6L500.9 318.7L505.9 318.7L511 318.7L516 318.9M404.4 326.4L409.5 326.1L414.5 325.8L419.6 325.4L424.7 325.2L429.8 324.9L434.9 324.7L439.9 324.5L444.9 324.2L450 324L455 323.8L460.1 323.7L465.3 323.5L470.3 323.4L475.4 323.4L480.4 323.4L485.5 323.4L490.6 323.4L495.7 323.4L500.8 323.4L505.8 323.5L510.9 323.5L516 323.6M404.3 331.4L409.4 331L414.4 330.7L419.5 330.4L424.6 330.1L429.7 329.8L434.7 329.5L439.8 329.3L444.9 329.1L450 328.9L455 328.7L460.1 328.6L465.2 328.5L470.2 328.4L475.3 328.3L480.4 328.2L485.5 328.2L490.5 328.2L495.6 328.2L500.7 328.2L505.8 328.3L510.8 328.4L515.9 328.4" fill="none" stroke="#000" stroke-width="0.65"/>
<path d="M393.6 216.4H519.6V342.3H393.6ZM409.8 342.3v4.8M393.6 217.3h-5.4M436.2 342.3v4.8M393.6 244.9h-5.4M462.7 342.3v4.8M393.6 272.6h-5.4M489.1 342.3v4.8M393.6 300.2h-5.4M515.6 342.3v4.8M393.6 327.9h-5.4" fill="none" stroke="#333" stroke-width="0.75"/>
<text x="409.8" y="359.9" font-family="'Liberation Sans',sans-serif" font-size="7.6" fill="#111" stroke="#111" stroke-width="0.3" text-anchor="middle">-0.2</text>
<text transform="translate(380.6 217.6) rotate(-90)" font-family="'Liberation Sans',sans-serif" font-size="7.6" fill="#111" stroke="#111" stroke-width="0.3" text-anchor="middle">0.2</text>
<text x="436.2" y="359.9" font-family="'Liberation Sans',sans-serif" font-size="7.6" fill="#111" stroke="#111" stroke-width="0.3" text-anchor="middle">-0.1</text>
<text transform="translate(380.6 245.2) rotate(-90)" font-family="'Liberation Sans',sans-serif" font-size="7.6" fill="#111" stroke="#111" stroke-width="0.3" text-anchor="middle">0.1</text>
<text x="462.7" y="359.9" font-family="'Liberation Sans',sans-serif" font-size="7.6" fill="#111" stroke="#111" stroke-width="0.3" text-anchor="middle">0.0</text>
<text transform="translate(380.6 272.9) rotate(-90)" font-family="'Liberation Sans',sans-serif" font-size="7.6" fill="#111" stroke="#111" stroke-width="0.3" text-anchor="middle">0.0</text>
<text x="489.1" y="359.9" font-family="'Liberation Sans',sans-serif" font-size="7.6" fill="#111" stroke="#111" stroke-width="0.3" text-anchor="middle">0.1</text>
<text transform="translate(380.6 300.6) rotate(-90)" font-family="'Liberation Sans',sans-serif" font-size="7.6" fill="#111" stroke="#111" stroke-width="0.3" text-anchor="middle">-0.1</text>
<text x="515.6" y="359.9" font-family="'Liberation Sans',sans-serif" font-size="7.6" fill="#111" stroke="#111" stroke-width="0.3" text-anchor="middle">0.2</text>
<text transform="translate(380.6 328.2) rotate(-90)" font-family="'Liberation Sans',sans-serif" font-size="7.6" fill="#111" stroke="#111" stroke-width="0.3" text-anchor="middle">-0.2</text>
<g fill="#61D04F"><circle cx="462.8" cy="224.7" r="2.9"/><circle cx="449.3" cy="227.1" r="2.9"/><circle cx="476.2" cy="227.1" r="2.9"/><circle cx="438.7" cy="232.1" r="2.9"/><circle cx="486.8" cy="232.1" r="2.9"/><circle cx="432.2" cy="242.1" r="2.9"/><circle cx="493.3" cy="242.1" r="2.9"/><circle cx="429" cy="254" r="2.9"/><circle cx="496.5" cy="254" r="2.9"/><circle cx="427.4" cy="265.8" r="2.9"/><circle cx="498.1" cy="265.8" r="2.9"/><circle cx="427.1" cy="277.9" r="2.9"/><circle cx="498.4" cy="277.9" r="2.9"/><circle cx="428.6" cy="290.1" r="2.9"/><circle cx="496.9" cy="290.1" r="2.9"/><circle cx="431.9" cy="303.2" r="2.9"/><circle cx="493.6" cy="303.2" r="2.9"/><circle cx="439.3" cy="314.2" r="2.9"/><circle cx="486.2" cy="314.2" r="2.9"/><circle cx="449.5" cy="322.3" r="2.9"/><circle cx="476" cy="322.3" r="2.9"/><circle cx="462.8" cy="326.7" r="2.9"/><circle cx="435.2" cy="255.2" r="2.9"/><circle cx="490.1" cy="254.8" r="2.9"/><circle cx="439.6" cy="252.5" r="2.9"/><circle cx="485.4" cy="252.7" r="2.9"/><circle cx="444.4" cy="251.6" r="2.9"/><circle cx="481.2" cy="252" r="2.9"/><circle cx="448.8" cy="252.4" r="2.9"/><circle cx="476.7" cy="252.5" r="2.9"/><circle cx="453" cy="254.6" r="2.9"/><circle cx="472.5" cy="254" r="2.9"/><circle cx="438.5" cy="256.1" r="2.9"/><circle cx="487.3" cy="256.3" r="2.9"/><circle cx="442.5" cy="255.2" r="2.9"/><circle cx="482.8" cy="256" r="2.9"/><circle cx="446.1" cy="256" r="2.9"/><circle cx="478.9" cy="255.3" r="2.9"/><circle cx="451.2" cy="256.9" r="2.9"/><circle cx="474.5" cy="257" r="2.9"/><circle cx="449.6" cy="258.6" r="2.9"/><circle cx="476.7" cy="259.2" r="2.9"/><circle cx="439.3" cy="263.9" r="2.9"/><circle cx="486.4" cy="264" r="2.9"/><circle cx="442.8" cy="261.3" r="2.9"/><circle cx="483.2" cy="261.8" r="2.9"/><circle cx="446.1" cy="261.3" r="2.9"/><circle cx="479.1" cy="260.8" r="2.9"/><circle cx="449.9" cy="262.1" r="2.9"/><circle cx="475" cy="261.8" r="2.9"/><circle cx="442.2" cy="266.4" r="2.9"/><circle cx="483.7" cy="265.9" r="2.9"/><circle cx="446.3" cy="266.6" r="2.9"/><circle cx="478.6" cy="266.6" r="2.9"/><circle cx="450.4" cy="266.5" r="2.9"/><circle cx="474.4" cy="266" r="2.9"/><circle cx="446.8" cy="263.5" r="2.9"/><circle cx="479.2" cy="263.8" r="2.9"/><circle cx="454.3" cy="264.3" r="2.9"/><circle cx="472.1" cy="264.1" r="2.9"/><circle cx="456.9" cy="265.2" r="2.9"/><circle cx="468" cy="265" r="2.9"/><circle cx="456.3" cy="267.9" r="2.3"/><circle cx="469.6" cy="267.9" r="2.3"/><circle cx="455.1" cy="271.5" r="2.3"/><circle cx="470.4" cy="271.6" r="2.3"/><circle cx="455" cy="275.8" r="2.3"/><circle cx="471.3" cy="275.5" r="2.3"/><circle cx="453.7" cy="279.9" r="2.3"/><circle cx="472" cy="279.5" r="2.3"/><circle cx="452.1" cy="283.4" r="2.3"/><circle cx="473.5" cy="283" r="2.3"/><circle cx="451.7" cy="285.4" r="2.9"/><circle cx="474.1" cy="285.1" r="2.9"/><circle cx="455.3" cy="287" r="2.9"/><circle cx="470.5" cy="287.1" r="2.9"/><circle cx="458.5" cy="288" r="2.9"/><circle cx="466.4" cy="288.4" r="2.9"/><circle cx="463.4" cy="288" r="2.9"/><circle cx="447.6" cy="295.9" r="2.9"/><circle cx="477.3" cy="295.9" r="2.9"/><circle cx="452.9" cy="294.7" r="2.9"/><circle cx="472.7" cy="294.8" r="2.9"/><circle cx="458" cy="294.1" r="2.9"/><circle cx="467.6" cy="294.2" r="2.9"/><circle cx="463.2" cy="294.6" r="2.9"/><circle cx="450.6" cy="299.1" r="2.9"/><circle cx="475" cy="298.8" r="2.9"/><circle cx="454.4" cy="302.8" r="2.9"/><circle cx="471.5" cy="303.2" r="2.9"/><circle cx="458.5" cy="305" r="2.9"/><circle cx="467.6" cy="304.4" r="2.9"/><circle cx="462.9" cy="305.5" r="2.9"/></g>
<g fill="#DF536B"><circle cx="462.8" cy="223.8" r="3.1"/><circle cx="449.5" cy="226.1" r="3.1"/><circle cx="476" cy="226.1" r="3.1"/><circle cx="439.1" cy="231.2" r="3.1"/><circle cx="486.4" cy="231.2" r="3.1"/><circle cx="432.7" cy="241.2" r="3.1"/><circle cx="492.8" cy="241.2" r="3.1"/><circle cx="429.3" cy="253.5" r="3.1"/><circle cx="496.2" cy="253.5" r="3.1"/><circle cx="427.8" cy="265.2" r="3.1"/><circle cx="497.8" cy="265.2" r="3.1"/><circle cx="428" cy="277" r="3.1"/><circle cx="497.5" cy="277" r="3.1"/><circle cx="430" cy="288.7" r="3.1"/><circle cx="495.5" cy="288.7" r="3.1"/><circle cx="433.3" cy="301.5" r="3.1"/><circle cx="492.2" cy="301.5" r="3.1"/><circle cx="440.3" cy="312.5" r="3.1"/><circle cx="485.2" cy="312.5" r="3.1"/><circle cx="450" cy="320.6" r="3.1"/><circle cx="475.5" cy="320.6" r="3.1"/><circle cx="462.8" cy="325" r="3.1"/><circle cx="435.7" cy="255.7" r="3.0"/><circle cx="489.7" cy="255.3" r="3.0"/><circle cx="440.1" cy="253.2" r="3.0"/><circle cx="485.3" cy="253.3" r="3.0"/><circle cx="444.9" cy="252.4" r="3.0"/><circle cx="480.9" cy="252.5" r="3.0"/><circle cx="449.3" cy="253" r="3.0"/><circle cx="476.6" cy="252.9" r="3.0"/><circle cx="453.2" cy="254.9" r="3.0"/><circle cx="472.2" cy="254.8" r="3.0"/><circle cx="438.7" cy="256.6" r="3.0"/><circle cx="487" cy="256.9" r="3.0"/><circle cx="443.1" cy="256" r="3.0"/><circle cx="482.6" cy="256.3" r="3.0"/><circle cx="446.7" cy="256.3" r="3.0"/><circle cx="478.6" cy="256.1" r="3.0"/><circle cx="451.2" cy="257.1" r="3.0"/><circle cx="474.4" cy="257.5" r="3.0"/><circle cx="449.7" cy="259.3" r="3.0"/><circle cx="476.2" cy="259.7" r="3.0"/><circle cx="439.5" cy="264.7" r="3.0"/><circle cx="486.3" cy="264.7" r="3.0"/><circle cx="442.9" cy="262.1" r="3.0"/><circle cx="482.8" cy="262.6" r="3.0"/><circle cx="446.6" cy="261.6" r="3.0"/><circle cx="478.8" cy="261.2" r="3.0"/><circle cx="450.4" cy="262.6" r="3.0"/><circle cx="474.7" cy="262.5" r="3.0"/><circle cx="442.3" cy="266.9" r="3.0"/><circle cx="483.3" cy="266.4" r="3.0"/><circle cx="446.5" cy="267.2" r="3.0"/><circle cx="478.5" cy="266.9" r="3.0"/><circle cx="450.6" cy="266.8" r="3.0"/><circle cx="474.4" cy="266.7" r="3.0"/><circle cx="446.8" cy="264.2" r="3.0"/><circle cx="478.8" cy="264.6" r="3.0"/><circle cx="454.4" cy="264.7" r="3.0"/><circle cx="471.7" cy="264.9" r="3.0"/><circle cx="457.2" cy="265.6" r="3.0"/><circle cx="468.1" cy="265.6" r="3.0"/><circle cx="457" cy="268.4" r="2.4"/><circle cx="469" cy="268.3" r="2.4"/><circle cx="456" cy="272.2" r="2.4"/><circle cx="469.4" cy="271.8" r="2.4"/><circle cx="455.8" cy="276.3" r="2.4"/><circle cx="470.2" cy="275.9" r="2.4"/><circle cx="454.8" cy="280.1" r="2.4"/><circle cx="471" cy="279.7" r="2.4"/><circle cx="453.1" cy="283.7" r="2.4"/><circle cx="472.3" cy="283.2" r="2.4"/><circle cx="452.8" cy="286.8" r="3.0"/><circle cx="473.1" cy="286.5" r="3.0"/><circle cx="455.8" cy="288.5" r="3.0"/><circle cx="469.8" cy="288.2" r="3.0"/><circle cx="458.9" cy="289.5" r="3.0"/><circle cx="466" cy="289.5" r="3.0"/><circle cx="463.1" cy="289.6" r="3.0"/><circle cx="448.3" cy="297.3" r="3.0"/><circle cx="477" cy="297.6" r="3.0"/><circle cx="452.9" cy="296.4" r="3.0"/><circle cx="472.4" cy="296.4" r="3.0"/><circle cx="457.9" cy="295.8" r="3.0"/><circle cx="467.3" cy="295.9" r="3.0"/><circle cx="463" cy="296.6" r="3.0"/><circle cx="451.2" cy="300.6" r="3.0"/><circle cx="474.5" cy="300.5" r="3.0"/><circle cx="454.4" cy="304.2" r="3.0"/><circle cx="471.1" cy="304.6" r="3.0"/><circle cx="458.5" cy="306.6" r="3.0"/><circle cx="467.3" cy="306.1" r="3.0"/><circle cx="462.6" cy="306.7" r="3.0"/></g>
<path d="M462.8 224.4l-1.9 -3.3M462.8 224.4l0.3 -3.8M449.3 226.7l-0 -3.8M449.3 226.7l2.1 -3.1M476.2 226.7l-1.4 -2.9M476.2 226.7l0.4 -3.2M438.9 231.7l-0 -3.4M438.9 231.7l1.9 -2.8M486.6 231.7l-2.4 -2.7M486.6 231.7l-0.4 -3.6M432.4 241.7l-0 -3.5M432.4 241.7l1.9 -2.9M493.1 241.7l-1.8 -2.8M493.1 241.7l0.1 -3.3M429 254l0.9 -3.5M429 254l2.7 -2.4M496.5 254l-3.2 -2.2M496.5 254l-1.4 -3.6M427.4 265.7l1 -3.7M427.4 265.7l2.9 -2.6M498.1 265.7l-2.7 -2.3M498.1 265.7l-0.9 -3.4M427.6 277.4l1.6 -3.4M427.6 277.4l3.2 -1.9M497.9 277.4l-3.5 -1.8M497.9 277.4l-1.9 -3.4M429.6 289.1l2 -2.9M429.6 289.1l3.3 -1.3M495.9 289.1l-3.5 -1.6M495.9 289.1l-2 -3.3M432.9 302l0.9 -3.4M432.9 302l2.6 -2.3M492.6 302l-2.3 -2M492.6 302l-0.8 -2.9M440 313.1l1.5 -4M440 313.1l3.4 -2.5M485.5 313.1l-1.9 -2.4M485.5 313.1l-0.2 -3M449.8 321.1l-0.5 -3.5M449.8 321.1l1.6 -3.2M475.7 321.1l-1.3 -3.4M475.7 321.1l0.8 -3.5M462.8 325.6l-1.4 -3.3M462.8 325.6l0.7 -3.5M435.3 255.3l2.3 1.5M435.3 255.3l1 2.5M490.1 254.8l-0.4 2.7M490.1 254.8l-1.8 2.1M439.7 252.7l2.2 2.2M439.7 252.7l0.6 3.1M485.4 252.7l-0.3 3.5M485.4 252.7l-2.2 2.7M444.5 251.9l2.6 2.4M444.5 251.9l0.8 3.4M481.2 252l-1.3 3.7M481.2 252l-3.2 2.4M448.9 252.6l2.9 2M448.9 252.6l1.2 3.3M476.7 252.3l0.3 3.3M476.7 252.3l-1.5 2.9M452.8 254.4l2.9 1.7M452.8 254.4l1.4 3M472.4 254.2l-0.6 4M472.4 254.2l-2.7 3M438.5 256l1.5 3M438.5 256l-0.4 3.3M487.2 256.4l-0.8 3.9M487.2 256.4l-2.9 2.8M442.7 255.5l2.3 1.9M442.7 255.5l0.8 2.8M483 255.8l-1.4 3.6M483 255.8l-3.2 2.2M446.2 256l3.8 0.8M446.2 256l2.7 2.8M478.8 255.5l-1 3.8M478.8 255.5l-3 2.6M451.2 256.5l1.6 3.5M451.2 256.5l-0.6 3.8M474.5 256.9l1.5 3.2M474.5 256.9l-0.6 3.5M449.7 258.7l1.1 3.6M449.7 258.7l-1.1 3.6M476.6 259.3l-1.2 3.1M476.6 259.3l-2.8 1.9M439.4 264.1l1.6 2.9M439.4 264.1l-0.3 3.2M486.4 264.1l0.6 3.1M486.4 264.1l-1.2 2.9M442.8 261.5l1.1 3M442.8 261.5l-0.7 3.1M483.1 262l-0.5 3.4M483.1 262l-2.3 2.5M446.1 261.3l3.7 1.3M446.1 261.3l2.4 3.2M479.2 260.7l-1.6 3.2M479.2 260.7l-3.2 1.8M450 262.1l3.7 1.3M450 262.1l2.4 3.2M474.9 261.9l0.1 3M474.9 261.9l-1.6 2.6M442.2 266.3l2.4 3.1M442.2 266.3l0.3 3.9M483.7 265.9l-0.4 3.2M483.7 265.9l-2.1 2.4M446.3 266.7l2.8 2.5M446.3 266.7l0.9 3.7M478.7 266.4l-0.4 3.2M478.7 266.4l-2.1 2.5M450.3 266.3l2.5 2.2M450.3 266.3l0.8 3.2M474.4 266.1l1.9 3.2M474.4 266.1l-0.2 3.7M446.8 263.6l1.1 3.5M446.8 263.6l-1 3.5M479.1 264l-0.2 3.2M479.1 264l-2 2.6M454.3 264.1l1.2 3.4M454.3 264.1l-0.9 3.4M471.9 264.4l-1.3 3.7M471.9 264.4l-3.2 2.4M456.9 265.1l2.5 2.5M456.9 265.1l0.6 3.5M468.1 265l1.6 2.8M468.1 265l-0.2 3.2M456.5 268.1l2.9 0.7M456.5 268.1l2 2.1M469.5 267.9l-2.9 2.7M469.5 267.9l-3.9 0.6M455.5 271.8l2.5 1.3M455.5 271.8l1.4 2.4M470 271.7l-3.9 1.6M470 271.7l-4.1 -0.8M455.3 276l2.8 0.8M455.3 276l1.9 2.2M470.8 275.7l-3.5 2.6M470.8 275.7l-4.3 0.2M454.2 280l4 -0.3M454.2 280l3.5 2M471.6 279.6l-3.5 1.6M471.6 279.6l-3.7 -0.6M452.5 283.5l2.7 0.1M452.5 283.5l2.2 1.6M472.8 283.1l-2.9 1.5M472.8 283.1l-3.2 -0.4M452.4 286.3l3.8 1.9M452.4 286.3l2.1 3.7M473.5 286l-0.7 3.5M473.5 286l-2.5 2.5M455.6 287.9l2.8 2.8M455.6 287.9l0.8 3.9M470.1 287.7l-0.2 3.1M470.1 287.7l-1.9 2.5M458.8 288.9l1.3 3.2M458.8 288.9l-0.7 3.4M466.2 289l0.1 3.4M466.2 289l-1.8 2.9M463.2 289l-0.1 3.9M463.2 289l-2.3 3.2M448.1 296.8l2.4 2.3M448.1 296.8l0.7 3.3M477.1 297l-0.1 3.6M477.1 297l-2.1 3M452.9 295.8l1.9 3M452.9 295.8l-0.1 3.5M472.5 295.8l0.3 3.6M472.5 295.8l-1.8 3.2M457.9 295.2l1 3M457.9 295.2l-0.9 3M467.4 295.3l0.5 3.3M467.4 295.3l-1.4 3M463.1 296l1.1 3.6M463.1 296l-1.1 3.6M451 300l2.2 3M451 300l0.1 3.7M474.7 299.9l-0.4 3.8M474.7 299.9l-2.4 2.9M454.4 303.6l0.5 3.4M454.4 303.6l-1.5 3.1M471.2 304l0.5 3.6M471.2 304l-1.6 3.3M458.5 306l1.6 3.2M458.5 306l-0.5 3.5M467.4 305.5l0.9 3.7M467.4 305.5l-1.3 3.5M462.7 306.1l0.8 3.5M462.7 306.1l-1.2 3.3" fill="none" stroke="#2297E6" stroke-width="0.58" stroke-linecap="round" opacity="0.95"/>
</g>
<g>
<path d="M572.3 219L572.1 223.6L572 228.3L571.9 232.9L571.8 237.6L571.8 242.2L571.8 246.9L571.8 251.5L571.9 256.2L572 260.8L572.1 265.5L572.2 270.1L572.4 274.7L572.6 279.4L572.8 284L573.1 288.7L573.3 293.3L573.7 298L574 302.6L574.4 307.3L574.8 311.9L575.2 316.6L575.7 321.2M577.2 219.2L577.1 223.8L577 228.5L576.9 233.1L576.9 237.8L576.9 242.5L576.9 247.1L576.9 251.8L576.9 256.4L576.9 260.9L576.9 265.5L577 270.1L577.2 274.8L577.5 279.5L577.7 284.1L578 288.9L578.2 293.6L578.5 298.3L578.8 303L579.1 307.6L579.5 312.2L579.9 316.9L580.4 321.5M582.2 219.4L582.1 224.1L582 228.7L582 233.3L581.9 238L581.9 242.6L581.9 247.2L582 251.8L581.9 256.5L581.9 261.1L581.9 265.6L582 270.2L582.2 274.8L582.4 279.5L582.7 284.2L582.9 289L583.1 293.8L583.3 298.6L583.6 303.3L583.9 307.9L584.3 312.5L584.6 317.1L585 321.7M587.1 219.5L587 224.3L587 229L587 233.6L586.9 238.1L586.9 242.6L586.9 247.1L586.9 251.7L587 256.4L587 261.2L587 265.8L587.1 270.4L587.2 275L587.4 279.7L587.6 284.5L587.7 289.3L587.9 294.1L588.2 298.8L588.5 303.4L588.8 308.1L589.1 312.7L589.4 317.3L589.7 321.9M592 219.7L592 224.4L591.9 229.2L591.9 233.9L591.9 238.3L591.9 242.7L591.9 247L591.9 251.5L591.9 256.3L592.1 261.2L592.2 266L592.3 270.8L592.3 275.4L592.3 280.1L592.4 284.9L592.6 289.6L592.8 294.3L593.2 298.9L593.4 303.5L593.7 308.1L593.8 312.8L594 317.5L594.3 322.1M597 219.8L596.9 224.6L596.9 229.3L596.9 234L596.9 238.5L596.9 242.9L596.9 247.2L596.9 251.6L597 256.3L597.2 261.2L597.4 266.1L597.4 271L597.3 275.9L597.2 280.6L597.3 285.3L597.5 289.9L597.8 294.4L598.2 299L598.4 303.5L598.5 308.2L598.6 312.9L598.7 317.6L599 322.2M601.9 219.9L601.8 224.6L601.8 229.3L601.8 234L601.8 238.6L601.9 243.1L602 247.6L602 252.1L602.1 256.6L602.2 261.3L602.3 266.2L602.4 271.2L602.3 276.2L602.2 281L602.3 285.6L602.5 290.1L602.8 294.6L603.1 299.1L603.2 303.7L603.2 308.3L603.3 313L603.4 317.7L603.6 322.4M606.8 220L606.8 224.6L606.7 229.2L606.7 233.8L606.8 238.5L606.9 243.4L607.1 248.2L607.2 252.8L607.2 257.2L607.2 261.7L607.2 266.4L607.2 271.3L607.2 276.2L607.3 281.1L607.4 285.8L607.6 290.3L607.7 294.8L607.8 299.4L607.9 303.9L607.9 308.5L608 313L608.1 317.7L608.3 322.4M611.8 220.1L611.7 224.7L611.7 229.2L611.7 233.7L611.7 238.5L611.9 243.4L612.1 248.5L612.3 253.3L612.4 257.8L612.3 262.2L612.1 266.7L612.1 271.5L612.2 276.3L612.3 281.2L612.4 285.9L612.5 290.5L612.4 295L612.4 299.5L612.4 304L612.5 308.5L612.7 313L612.8 317.6L612.9 322.5M616.7 220.1L616.7 224.8L616.7 229.3L616.8 233.8L616.8 238.5L616.9 243.4L617.1 248.3L617.3 253.3L617.3 258L617.2 262.6L617.1 267.2L617.1 271.9L617.2 276.6L617.3 281.4L617.3 286L617.2 290.6L617 295.1L616.9 299.5L617 303.9L617.2 308.3L617.4 312.8L617.5 317.6L617.6 322.5M621.6 220.2L621.7 224.8L621.8 229.5L621.9 234.1L621.9 238.6L621.9 243.3L622 248L622.1 252.9L622.1 257.8L622.2 262.8L622.2 267.6L622.2 272.4L622.2 277L622.2 281.6L622.1 286.1L621.8 290.6L621.6 294.9L621.5 299.2L621.7 303.6L621.9 308.1L622.1 312.7L622.2 317.6L622.2 322.4M626.6 220.2L626.7 224.8L626.9 229.6L627 234.3L627.1 238.8L627 243.2L626.9 247.7L626.9 252.5L626.9 257.5L627.1 262.7L627.2 267.8L627.2 272.6L627.2 277.2L627 281.7L626.8 286.1L626.5 290.4L626.4 294.7L626.4 298.9L626.5 303.3L626.7 307.9L626.9 312.7L626.9 317.6L626.9 322.4M631.5 220.2L631.6 224.8L631.8 229.5L632 234.3L632.1 238.9L632 243.3L631.9 247.8L631.9 252.4L631.9 257.4L632 262.6L632.1 267.6L632.1 272.5L632 277L631.8 281.4L631.6 285.8L631.4 290.1L631.4 294.4L631.4 298.7L631.4 303.2L631.5 307.9L631.5 312.8L631.6 317.6L631.5 322.3M636.4 220.2L636.6 224.7L636.7 229.3L636.8 234.1L636.9 238.8L637 243.4L637 248L637 252.7L637 257.5L637 262.4L637 267.3L637 271.9L636.9 276.4L636.7 280.8L636.6 285.2L636.5 289.7L636.5 294.2L636.5 298.7L636.4 303.4L636.3 308.1L636.3 312.8L636.2 317.5L636.2 322.1M641.4 220.2L641.5 224.7L641.6 229.2L641.6 233.8L641.7 238.6L641.8 243.4L641.9 248.2L642 253L642.1 257.7L642 262.3L642 266.8L641.9 271.2L641.8 275.6L641.7 280.1L641.6 284.7L641.6 289.3L641.6 294.1L641.5 298.8L641.4 303.5L641.2 308.2L641 312.8L640.9 317.3L640.8 322M646.3 220.1L646.5 224.6L646.5 229.1L646.5 233.7L646.5 238.4L646.6 243.3L646.8 248.2L646.9 253L647.1 257.6L647.1 262L647.1 266.4L647 270.7L646.9 275.2L646.8 279.7L646.7 284.4L646.7 289.1L646.7 293.9L646.6 298.7L646.3 303.5L646.1 308.1L645.9 312.6L645.7 317.2L645.5 321.8M651.2 220.1L651.4 224.6L651.5 229.2L651.5 233.7L651.5 238.3L651.5 243.1L651.6 248L651.8 252.7L652 257.3L652.1 261.7L652.2 266L652.1 270.5L652.1 275L652 279.6L651.9 284.2L651.8 288.9L651.7 293.7L651.5 298.4L651.3 303.2L651 307.8L650.7 312.4L650.4 316.9L650.1 321.5M656.2 220L656.3 224.6L656.5 229.2L656.5 233.7L656.5 238.3L656.5 243L656.6 247.7L656.7 252.3L656.8 256.8L657 261.3L657.1 265.8L657.2 270.4L657.2 275L657.1 279.6L657 284.2L656.8 288.8L656.6 293.4L656.4 298.1L656.1 302.8L655.9 307.5L655.5 312.1L655.1 316.7L654.8 321.2M661.1 219.9L661.3 224.5L661.5 229.1L661.6 233.7L661.7 238.3L661.7 242.9L661.7 247.5L661.7 252L661.8 256.5L661.9 261.1L662 265.6L662.1 270.2L662.1 274.9L662.1 279.5L662 284L661.8 288.6L661.5 293.2L661.2 297.8L660.9 302.5L660.6 307.2L660.2 311.8L659.8 316.4L659.4 320.9M666 219.8L666.2 224.4L666.4 229L666.6 233.6L666.7 238.2L666.8 242.8L666.8 247.3L666.9 251.8L666.9 256.4L666.9 260.9L666.9 265.5L667 270.1L667 274.6L667 279.2L666.9 283.8L666.7 288.4L666.4 293L666 297.6L665.7 302.2L665.3 306.9L664.9 311.5L664.5 316.1L664.1 320.6M671 219.6L671.2 224.2L671.4 228.8L671.6 233.4L671.8 238L671.9 242.6L672 247.1L672 251.7L672 256.2L672 260.8L671.9 265.3L671.9 269.9L671.8 274.4L671.8 278.9L671.6 283.5L671.4 288.1L671.1 292.7L670.8 297.3L670.4 301.9L670.1 306.5L669.7 311.1L669.2 315.7L668.7 320.2M675.9 219.5L676.2 224.1L676.4 228.6L676.6 233.2L676.8 237.7L676.9 242.3L677 246.9L677.1 251.4L677.1 256L677.1 260.5L677 265.1L676.9 269.6L676.8 274.2L676.6 278.8L676.4 283.3L676.1 287.9L675.9 292.4L675.5 297L675.2 301.6L674.8 306.1L674.4 310.7L673.9 315.2L673.4 319.8M572.3 219L577 219.2L581.7 219.4L586.4 219.5L591.1 219.7L595.8 219.8L600.6 219.9L605.3 220L610 220.1L614.7 220.1L619.4 220.2L624.1 220.2L628.8 220.2L633.5 220.2L638.2 220.2L642.9 220.2L647.6 220.1L652.4 220.1L657.1 220L661.8 219.9L666.5 219.8L671.2 219.6L675.9 219.5M572.1 224.1L576.9 224.3L581.6 224.5L586.3 224.7L591.1 224.9L595.8 225L600.5 225.1L605.2 225.1L609.9 225.1L614.7 225.2L619.5 225.3L624.2 225.3L629 225.3L633.7 225.2L638.4 225.1L643.1 225.1L647.8 225.1L652.5 225.1L657.2 225L662 224.9L666.7 224.8L671.5 224.7L676.2 224.5M572 229.2L576.8 229.4L581.5 229.6L586.3 229.9L591 230.1L595.8 230.3L600.4 230.2L605.1 230.1L609.8 230.1L614.7 230.1L619.5 230.3L624.4 230.5L629.2 230.5L633.9 230.4L638.5 230.2L643.1 230.1L647.8 230L652.6 230.1L657.4 230.1L662.2 230L666.9 229.9L671.7 229.7L676.5 229.5M571.9 234.3L576.7 234.5L581.5 234.7L586.3 234.9L591 235.2L595.8 235.4L600.5 235.4L605.1 235.3L609.8 235.1L614.7 235.2L619.6 235.3L624.5 235.6L629.3 235.7L634 235.6L638.6 235.4L643.1 235.2L647.8 235.1L652.6 235.1L657.5 235.1L662.3 235.1L667.1 235L671.9 234.8L676.7 234.5M571.8 239.4L576.7 239.6L581.5 239.8L586.2 239.9L591 240L595.8 240.2L600.5 240.4L605.3 240.5L610 240.5L614.8 240.4L619.6 240.4L624.5 240.5L629.3 240.7L634.1 240.7L638.7 240.6L643.2 240.4L647.9 240.3L652.6 240.2L657.5 240.2L662.4 240.1L667.2 240L672 239.8L676.8 239.6M571.8 244.6L576.7 244.8L581.5 244.9L586.2 244.8L591 244.8L595.7 244.9L600.6 245.3L605.4 245.7L610.2 245.9L615 245.9L619.7 245.7L624.4 245.5L629.2 245.5L634 245.6L638.8 245.8L643.4 245.8L648 245.7L652.7 245.5L657.5 245.3L662.4 245.2L667.3 245L672.2 244.8L677 244.6M571.8 249.7L576.7 249.9L581.5 250L586.3 249.9L591 249.7L595.7 249.7L600.6 250.1L605.5 250.8L610.4 251.3L615.2 251.4L619.8 251.1L624.4 250.7L629.1 250.5L634 250.6L638.8 250.9L643.6 251.2L648.2 251.1L652.8 250.8L657.5 250.4L662.4 250.2L667.3 250L672.2 249.8L677 249.6M571.9 254.8L576.7 255L581.5 255.1L586.3 255L591 254.8L595.8 254.8L600.6 255.1L605.6 255.7L610.5 256.3L615.3 256.6L619.9 256.5L624.5 256.1L629.1 255.9L633.9 255.9L638.8 256.2L643.7 256.3L648.4 256.2L653 255.8L657.7 255.4L662.5 255.1L667.3 255L672.2 254.8L677.1 254.6M571.9 259.9L576.7 260L581.4 260.1L586.3 260.2L591.1 260.2L596 260.2L600.8 260.3L605.6 260.6L610.5 261.1L615.2 261.6L619.9 261.8L624.6 261.7L629.3 261.6L634 261.5L638.8 261.4L643.7 261.3L648.5 261.1L653.2 260.7L657.9 260.4L662.5 260.1L667.3 260L672.2 259.9L677.1 259.6M572 265L576.7 265.1L581.4 265.2L586.3 265.3L591.2 265.5L596.2 265.6L601 265.7L605.7 265.8L610.4 266.1L615.1 266.5L619.9 267L624.7 267.3L629.4 267.3L634.1 267L638.8 266.6L643.6 266.2L648.5 265.8L653.3 265.5L658 265.3L662.7 265.2L667.4 265L672.2 264.9L677 264.6M572.2 270.1L576.8 270.1L581.5 270.2L586.4 270.4L591.3 270.7L596.3 271L601 271.2L605.7 271.2L610.3 271.4L615 271.7L619.9 272.2L624.7 272.6L629.5 272.6L634.1 272.3L638.7 271.6L643.5 271L648.4 270.6L653.3 270.4L658.1 270.3L662.7 270.2L667.4 270L672.1 269.9L676.9 269.6M572.4 275.2L577 275.3L581.7 275.3L586.5 275.4L591.4 275.8L596.2 276.3L600.9 276.6L605.6 276.7L610.4 276.8L615.1 277L619.9 277.3L624.7 277.6L629.4 277.7L634 277.2L638.6 276.5L643.4 275.9L648.3 275.6L653.2 275.5L658.1 275.4L662.8 275.3L667.4 275.1L672.1 274.8L676.8 274.7M572.6 280.3L577.3 280.4L582 280.4L586.7 280.6L591.4 281L596.1 281.5L600.9 281.9L605.7 282.1L610.5 282.1L615.3 282.2L620 282.4L624.6 282.6L629.2 282.5L633.8 282.1L638.5 281.4L643.3 280.9L648.2 280.6L653.1 280.5L658 280.5L662.8 280.3L667.4 280.1L672 279.8L676.6 279.7M572.9 285.4L577.6 285.6L582.3 285.7L587 285.9L591.5 286.2L596.2 286.6L601 286.9L605.8 287.1L610.7 287.2L615.3 287.3L619.9 287.4L624.3 287.5L628.9 287.3L633.6 286.9L638.4 286.4L643.3 286L648.1 285.7L653 285.6L657.8 285.5L662.6 285.4L667.2 285.1L671.8 284.9L676.3 284.7M573.2 290.5L577.8 290.7L582.5 290.9L587.2 291.2L591.8 291.4L596.5 291.7L601.3 291.9L606.1 292L610.7 292.2L615.2 292.4L619.6 292.4L624 292.2L628.7 292L633.5 291.7L638.4 291.4L643.3 291.2L648.1 290.9L652.9 290.8L657.6 290.6L662.3 290.4L667 290.2L671.5 290L676 289.7M573.5 295.6L578.1 295.9L582.7 296.2L587.4 296.4L592.1 296.6L596.9 296.7L601.6 296.8L606.3 297L610.8 297.2L615.1 297.3L619.4 297.2L623.9 296.9L628.6 296.7L633.5 296.5L638.4 296.5L643.2 296.4L648 296.3L652.7 296L657.4 295.7L662 295.4L666.6 295.2L671.2 295L675.7 294.7M573.9 300.8L578.4 301.1L583 301.4L587.7 301.6L592.4 301.6L597.2 301.7L601.9 301.8L606.4 302L610.7 302.2L615 302.2L619.4 302L624 301.7L628.7 301.4L633.5 301.4L638.3 301.6L643 301.6L647.8 301.5L652.5 301.2L657.1 300.9L661.7 300.6L666.3 300.3L670.8 300.1L675.3 299.7M574.3 305.9L578.8 306.2L583.4 306.5L588 306.7L592.7 306.7L597.4 306.8L602 306.9L606.4 307.1L610.8 307.2L615.2 307.1L619.7 306.8L624.2 306.6L628.8 306.5L633.5 306.6L638.1 306.7L642.8 306.8L647.5 306.6L652.2 306.4L656.8 306L661.4 305.7L665.9 305.4L670.4 305.1L674.9 304.8M574.7 311L579.2 311.3L583.8 311.6L588.4 311.7L592.9 311.9L597.5 312L602 312.1L606.4 312.1L610.9 312.1L615.4 312L620 311.8L624.5 311.8L629 311.8L633.5 311.8L638 311.9L642.6 311.8L647.2 311.6L651.9 311.4L656.4 311.1L661 310.8L665.5 310.5L669.9 310.2L674.5 309.8M575.2 316.1L579.7 316.4L584.2 316.6L588.7 316.8L593.2 317L597.6 317.1L602.1 317.2L606.6 317.2L611.1 317.1L615.6 317.1L620.1 317.1L624.6 317.1L629 317.1L633.5 317.1L637.9 317L642.5 316.8L647 316.6L651.5 316.4L656 316.2L660.5 315.9L665 315.6L669.5 315.2L674 314.8M575.7 321.2L580.1 321.5L584.6 321.7L589 321.9L593.5 322.1L597.9 322.2L602.3 322.3L606.8 322.4L611.2 322.4L615.7 322.5L620.1 322.4L624.5 322.4L629 322.3L633.4 322.2L637.9 322.1L642.3 321.9L646.8 321.7L651.2 321.5L655.6 321.2L660.1 320.9L664.5 320.6L669 320.2L673.4 319.8" fill="none" stroke="#000" stroke-width="0.65"/>
<path d="M556.1 215.2H682.3V341.1H556.1ZM572.5 341.1v4.8M556.1 216.1h-5.4M599 341.1v4.8M556.1 243.8h-5.4M625.4 341.1v4.8M556.1 271.4h-5.4M651.9 341.1v4.8M556.1 299h-5.4M678.3 341.1v4.8M556.1 326.7h-5.4" fill="none" stroke="#333" stroke-width="0.75"/>
<text x="572.5" y="358.7" font-family="'Liberation Sans',sans-serif" font-size="7.6" fill="#111" stroke="#111" stroke-width="0.3" text-anchor="middle">-0.2</text>
<text transform="translate(543.1 216.4) rotate(-90)" font-family="'Liberation Sans',sans-serif" font-size="7.6" fill="#111" stroke="#111" stroke-width="0.3" text-anchor="middle">0.2</text>
<text x="599" y="358.7" font-family="'Liberation Sans',sans-serif" font-size="7.6" fill="#111" stroke="#111" stroke-width="0.3" text-anchor="middle">-0.1</text>
<text transform="translate(543.1 244.1) rotate(-90)" font-family="'Liberation Sans',sans-serif" font-size="7.6" fill="#111" stroke="#111" stroke-width="0.3" text-anchor="middle">0.1</text>
<text x="625.4" y="358.7" font-family="'Liberation Sans',sans-serif" font-size="7.6" fill="#111" stroke="#111" stroke-width="0.3" text-anchor="middle">0.0</text>
<text transform="translate(543.1 271.7) rotate(-90)" font-family="'Liberation Sans',sans-serif" font-size="7.6" fill="#111" stroke="#111" stroke-width="0.3" text-anchor="middle">0.0</text>
<text x="651.9" y="358.7" font-family="'Liberation Sans',sans-serif" font-size="7.6" fill="#111" stroke="#111" stroke-width="0.3" text-anchor="middle">0.1</text>
<text transform="translate(543.1 299.3) rotate(-90)" font-family="'Liberation Sans',sans-serif" font-size="7.6" fill="#111" stroke="#111" stroke-width="0.3" text-anchor="middle">-0.1</text>
<text x="678.3" y="358.7" font-family="'Liberation Sans',sans-serif" font-size="7.6" fill="#111" stroke="#111" stroke-width="0.3" text-anchor="middle">0.2</text>
<text transform="translate(543.1 327) rotate(-90)" font-family="'Liberation Sans',sans-serif" font-size="7.6" fill="#111" stroke="#111" stroke-width="0.3" text-anchor="middle">-0.2</text>
<g fill="#61D04F"><circle cx="625.5" cy="221.1" r="2.9"/><circle cx="611.9" cy="223.7" r="2.9"/><circle cx="639.1" cy="223.7" r="2.9"/><circle cx="601.4" cy="229.2" r="2.9"/><circle cx="649.6" cy="229.2" r="2.9"/><circle cx="594.8" cy="239.9" r="2.9"/><circle cx="656.2" cy="239.9" r="2.9"/><circle cx="591.6" cy="253.1" r="2.9"/><circle cx="659.4" cy="253.1" r="2.9"/><circle cx="590" cy="264.6" r="2.9"/><circle cx="661" cy="264.6" r="2.9"/><circle cx="589.7" cy="275.8" r="2.9"/><circle cx="661.3" cy="275.8" r="2.9"/><circle cx="591.7" cy="286.9" r="2.9"/><circle cx="659.3" cy="286.9" r="2.9"/><circle cx="595.9" cy="298.8" r="2.9"/><circle cx="655.1" cy="298.8" r="2.9"/><circle cx="603.6" cy="309" r="2.9"/><circle cx="647.4" cy="309" r="2.9"/><circle cx="613.1" cy="316.7" r="2.9"/><circle cx="637.9" cy="316.7" r="2.9"/><circle cx="625.5" cy="320.9" r="2.9"/><circle cx="598.1" cy="255.6" r="2.9"/><circle cx="652.7" cy="255.1" r="2.9"/><circle cx="602.4" cy="253.3" r="2.9"/><circle cx="648.9" cy="252.9" r="2.9"/><circle cx="606.4" cy="252.4" r="2.9"/><circle cx="643.5" cy="252.6" r="2.9"/><circle cx="611.2" cy="253.2" r="2.9"/><circle cx="639.5" cy="253.2" r="2.9"/><circle cx="615.5" cy="254.4" r="2.9"/><circle cx="635.3" cy="254.8" r="2.9"/><circle cx="601.5" cy="255.9" r="2.9"/><circle cx="650.3" cy="256.4" r="2.9"/><circle cx="604.9" cy="255.8" r="2.9"/><circle cx="645.5" cy="255.8" r="2.9"/><circle cx="610" cy="256.2" r="2.9"/><circle cx="641" cy="255.8" r="2.9"/><circle cx="613.1" cy="256.8" r="2.9"/><circle cx="637.1" cy="256.8" r="2.9"/><circle cx="611.6" cy="258.4" r="2.9"/><circle cx="639.2" cy="259" r="2.9"/><circle cx="601.7" cy="264.1" r="2.9"/><circle cx="649.7" cy="264.5" r="2.9"/><circle cx="605.1" cy="261.7" r="2.9"/><circle cx="646" cy="261.6" r="2.9"/><circle cx="609.4" cy="260.9" r="2.9"/><circle cx="641.5" cy="260.9" r="2.9"/><circle cx="612.8" cy="262" r="2.9"/><circle cx="637.7" cy="262" r="2.9"/><circle cx="605" cy="266.2" r="2.9"/><circle cx="646" cy="266.4" r="2.9"/><circle cx="609" cy="267" r="2.9"/><circle cx="641.5" cy="266.6" r="2.9"/><circle cx="613.1" cy="265.9" r="2.9"/><circle cx="638" cy="265.9" r="2.9"/><circle cx="609.8" cy="263.7" r="2.9"/><circle cx="641.2" cy="264.1" r="2.9"/><circle cx="616.4" cy="264.9" r="2.9"/><circle cx="634.1" cy="264.4" r="2.9"/><circle cx="620" cy="264.8" r="2.9"/><circle cx="631.1" cy="265" r="2.9"/><circle cx="618.9" cy="268.2" r="2.3"/><circle cx="632.5" cy="268" r="2.3"/><circle cx="618.5" cy="272.2" r="2.3"/><circle cx="632.9" cy="272.2" r="2.3"/><circle cx="617.7" cy="276.7" r="2.3"/><circle cx="633.8" cy="276.1" r="2.3"/><circle cx="616" cy="280.4" r="2.3"/><circle cx="634.4" cy="279.8" r="2.3"/><circle cx="615.3" cy="284.1" r="2.3"/><circle cx="635.7" cy="283.4" r="2.3"/><circle cx="614.5" cy="288.3" r="2.9"/><circle cx="636.2" cy="288.2" r="2.9"/><circle cx="618.4" cy="289.4" r="2.9"/><circle cx="633" cy="290.1" r="2.9"/><circle cx="621.3" cy="290.7" r="2.9"/><circle cx="629.2" cy="290.6" r="2.9"/><circle cx="625" cy="290.8" r="2.9"/><circle cx="610.9" cy="299" r="2.9"/><circle cx="640.1" cy="298.3" r="2.9"/><circle cx="615.4" cy="297.4" r="2.9"/><circle cx="635.2" cy="296.9" r="2.9"/><circle cx="620.9" cy="296.5" r="2.9"/><circle cx="631" cy="296.8" r="2.9"/><circle cx="625.4" cy="297.2" r="2.9"/><circle cx="613.1" cy="300" r="2.9"/><circle cx="637.7" cy="300.3" r="2.9"/><circle cx="616.4" cy="304.6" r="2.9"/><circle cx="634.1" cy="303.8" r="2.9"/><circle cx="621" cy="305.8" r="2.9"/><circle cx="630" cy="306" r="2.9"/><circle cx="625.5" cy="306.4" r="2.9"/></g>
<g fill="#DF536B"><circle cx="625.5" cy="222" r="3.1"/><circle cx="612.2" cy="224.6" r="3.1"/><circle cx="638.8" cy="224.6" r="3.1"/><circle cx="601.7" cy="230.1" r="3.1"/><circle cx="649.3" cy="230.1" r="3.1"/><circle cx="595.3" cy="240.8" r="3.1"/><circle cx="655.7" cy="240.8" r="3.1"/><circle cx="591.9" cy="253.5" r="3.1"/><circle cx="659.1" cy="253.5" r="3.1"/><circle cx="590.3" cy="265.1" r="3.1"/><circle cx="660.7" cy="265.1" r="3.1"/><circle cx="590.6" cy="276.7" r="3.1"/><circle cx="660.4" cy="276.7" r="3.1"/><circle cx="593" cy="288.2" r="3.1"/><circle cx="658" cy="288.2" r="3.1"/><circle cx="597.2" cy="300.4" r="3.1"/><circle cx="653.8" cy="300.4" r="3.1"/><circle cx="604.5" cy="310.6" r="3.1"/><circle cx="646.5" cy="310.6" r="3.1"/><circle cx="613.6" cy="318.3" r="3.1"/><circle cx="637.4" cy="318.3" r="3.1"/><circle cx="625.5" cy="322.5" r="3.1"/><circle cx="598.7" cy="255" r="3.0"/><circle cx="652.2" cy="254.4" r="3.0"/><circle cx="602.6" cy="252.5" r="3.0"/><circle cx="648.3" cy="252.5" r="3.0"/><circle cx="607" cy="251.9" r="3.0"/><circle cx="643.4" cy="252.3" r="3.0"/><circle cx="611.5" cy="252.5" r="3.0"/><circle cx="639.6" cy="252.5" r="3.0"/><circle cx="615.6" cy="253.8" r="3.0"/><circle cx="635.3" cy="254.1" r="3.0"/><circle cx="601.6" cy="255.7" r="3.0"/><circle cx="649.7" cy="256" r="3.0"/><circle cx="605.4" cy="255.1" r="3.0"/><circle cx="645.3" cy="255.4" r="3.0"/><circle cx="610" cy="255.5" r="3.0"/><circle cx="641" cy="255.1" r="3.0"/><circle cx="613.5" cy="256.2" r="3.0"/><circle cx="637" cy="256.1" r="3.0"/><circle cx="612" cy="257.8" r="3.0"/><circle cx="639" cy="258.3" r="3.0"/><circle cx="602.2" cy="263.7" r="3.0"/><circle cx="649" cy="264" r="3.0"/><circle cx="605.7" cy="261.6" r="3.0"/><circle cx="645.5" cy="261" r="3.0"/><circle cx="609.9" cy="260.5" r="3.0"/><circle cx="641.4" cy="260.6" r="3.0"/><circle cx="613.2" cy="261.7" r="3.0"/><circle cx="637.6" cy="261.8" r="3.0"/><circle cx="605.2" cy="265.6" r="3.0"/><circle cx="645.9" cy="265.7" r="3.0"/><circle cx="609.4" cy="266.6" r="3.0"/><circle cx="641.5" cy="266.4" r="3.0"/><circle cx="613.4" cy="265.2" r="3.0"/><circle cx="637.6" cy="265.6" r="3.0"/><circle cx="609.8" cy="263.1" r="3.0"/><circle cx="641.2" cy="263.4" r="3.0"/><circle cx="616.5" cy="264.3" r="3.0"/><circle cx="634.2" cy="264.2" r="3.0"/><circle cx="620" cy="264.6" r="3.0"/><circle cx="630.9" cy="264.6" r="3.0"/><circle cx="619.7" cy="268" r="2.4"/><circle cx="631.9" cy="267.7" r="2.4"/><circle cx="619.1" cy="272.1" r="2.4"/><circle cx="632.2" cy="271.9" r="2.4"/><circle cx="618.4" cy="276.1" r="2.4"/><circle cx="632.9" cy="275.5" r="2.4"/><circle cx="617" cy="279.9" r="2.4"/><circle cx="633.7" cy="279.5" r="2.4"/><circle cx="616.2" cy="283.4" r="2.4"/><circle cx="635" cy="283.1" r="2.4"/><circle cx="615.2" cy="286.8" r="3.0"/><circle cx="635.5" cy="286.8" r="3.0"/><circle cx="618.9" cy="288" r="3.0"/><circle cx="632.4" cy="288.6" r="3.0"/><circle cx="621.8" cy="289.5" r="3.0"/><circle cx="628.8" cy="289.2" r="3.0"/><circle cx="625.3" cy="289.4" r="3.0"/><circle cx="611.3" cy="297.3" r="3.0"/><circle cx="639.9" cy="296.9" r="3.0"/><circle cx="615.5" cy="295.6" r="3.0"/><circle cx="635" cy="295.4" r="3.0"/><circle cx="620.8" cy="295" r="3.0"/><circle cx="630.6" cy="295.1" r="3.0"/><circle cx="625.2" cy="295.8" r="3.0"/><circle cx="613.7" cy="298.8" r="3.0"/><circle cx="637.5" cy="299.1" r="3.0"/><circle cx="616.8" cy="303" r="3.0"/><circle cx="633.8" cy="302.6" r="3.0"/><circle cx="621" cy="304.6" r="3.0"/><circle cx="629.8" cy="304.5" r="3.0"/><circle cx="625.6" cy="305.3" r="3.0"/></g>
<path d="M625.5 221.4l1.1 3.2M625.5 221.4l-0.8 3.3M612 224l2.5 3M612 224l0.4 3.9M639 224l-0.1 3.3M639 224l-2 2.7M601.5 229.5l2.1 2.7M601.5 229.5l0.2 3.4M649.5 229.5l-0.8 3.8M649.5 229.5l-2.8 2.7M595 240.3l1.8 2.6M595 240.3l0 3.1M656 240.3l-0.4 3.5M656 240.3l-2.3 2.7M591.6 253l2.2 2.7M591.6 253l0.3 3.4M659.4 253l-0.4 3.1M659.4 253l-2 2.3M590 264.6l2.7 2.3M590 264.6l1 3.4M661 264.6l-1.4 3.3M661 264.6l-3 1.9M590.2 276.3l3.8 1.6M590.2 276.3l2.3 3.5M660.8 276.3l-0.9 3M660.8 276.3l-2.4 2M592.6 287.8l3.1 1.4M592.6 287.8l1.8 2.9M658.4 287.8l-2 3.2M658.4 287.8l-3.5 1.5M596.8 299.9l3.2 1.9M596.8 299.9l1.6 3.3M654.2 299.9l-1.1 3M654.2 299.9l-2.5 1.9M604.2 310.1l2 2.4M604.2 310.1l0.3 3.1M646.8 310.1l-0.2 3.2M646.8 310.1l-2 2.6M613.4 317.7l1.5 3.1M613.4 317.7l-0.5 3.5M637.6 317.7l-0.7 3.5M637.6 317.7l-2.6 2.5M625.5 321.9l0.6 3.3M625.5 321.9l-1.4 3.1M598.3 255.4l1.4 -3M598.3 255.4l2.8 -1.7M652.6 254.9l-2.4 -2M652.6 254.9l-0.8 -3M602.5 253.1l-0.4 -3.3M602.5 253.1l1.5 -2.9M648.8 252.8l-2.6 -1.3M648.8 252.8l-1.4 -2.5M606.5 252.3l1.8 -3.1M606.5 252.3l3.2 -1.5M643.5 252.9l-1.8 -2.9M643.5 252.9l0.1 -3.4M611.2 253.1l1.3 -3.8M611.2 253.1l3.1 -2.4M639.5 253.1l0.1 -3.7M639.5 253.1l2.1 -3M615.5 254.4l-0.7 -3.3M615.5 254.4l1.3 -3.2M635.3 254.7l-1.9 -3.3M635.3 254.7l0.3 -3.8M601.3 256.3l0.5 -3.2M601.3 256.3l2.2 -2.4M650.2 256.4l-2.9 -1.3M650.2 256.4l-1.6 -2.7M605 255.6l1.3 -3.2M605 255.6l2.9 -1.9M645.6 256l-2.4 -2.8M645.6 256l-0.4 -3.7M610 256.1l-1.5 -3.4M610 256.1l0.6 -3.6M641 255.7l-1.2 -3.4M641 255.7l0.9 -3.5M613.2 256.7l0.3 -2.9M613.2 256.7l1.9 -2.3M637.1 256.7l-2 -3M637.1 256.7l0 -3.6M611.7 258.3l0.9 -3.7M611.7 258.3l2.8 -2.6M639.2 258.9l-1.2 -2.9M639.2 258.9l0.6 -3M601.7 264l3.1 -3.1M601.7 264l4.3 -0.9M649.5 264.4l-3.7 -0.8M649.5 264.4l-2.6 -2.8M605.1 261.8l3.3 -2.3M605.1 261.8l4 -0M645.8 261.4l-2.7 -1.7M645.8 261.4l-1.3 -2.9M609.4 260.9l1.8 -3M609.4 260.9l3.2 -1.5M641.5 261.2l-2.4 -2.7M641.5 261.2l-0.5 -3.6M612.8 262l2.2 -2.9M612.8 262l3.4 -1.2M637.9 262.3l-3 -1.7M637.9 262.3l-1.6 -3.1M605 266.2l0.6 -3.7M605 266.2l2.6 -2.8M646 266.3l-1.6 -2.8M646 266.3l0.3 -3.2M609 267l1.1 -3.2M609 267l2.7 -2M641.4 267l-1.6 -3.4M641.4 267l0.6 -3.7M613.1 265.7l0.9 -3.7M613.1 265.7l2.8 -2.6M638.1 266l-2.6 -1.1M638.1 266l-1.6 -2.4M609.8 263.7l-0.7 -3.7M609.8 263.7l1.4 -3.4M641.2 264l-1.9 -3.4M641.2 264l0.4 -3.9M616.4 264.9l-0.5 -3.5M616.4 264.9l1.5 -3.2M634 264.8l0.7 -3.3M634 264.8l2.4 -2.3M620.1 265.1l-2.6 -2.9M620.1 265.1l-0.5 -3.9M631.2 265.2l-2.4 -2.2M631.2 265.2l-0.8 -3.1M619.1 268.2l2.6 -1.8M619.1 268.2l3.2 -0M632.4 268l-3.8 -0.1M632.4 268l-3.1 -2.2M618.5 272.2l3.9 -1.6M618.5 272.2l4.1 0.9M632.7 272.1l-3.3 -0.7M632.7 272.1l-2.4 -2.4M617.9 276.5l1.1 -3M617.9 276.5l2.6 -1.9M633.4 275.8l-3.3 -1.3M633.4 275.8l-2 -2.9M616.4 280.2l2.9 -2.5M616.4 280.2l3.8 -0.4M634.2 279.7l-4.3 -0.5M634.2 279.7l-3.2 -2.8M615.7 283.7l1.6 -2.6M615.7 283.7l2.8 -1.3M635.5 283.3l-4.2 -0.1M635.5 283.3l-3.5 -2.4M614.9 287.3l-0.1 -3.3M614.9 287.3l1.8 -2.8M635.7 287.3l-2.2 -2.6M635.7 287.3l-0.4 -3.4M618.7 288.6l0.1 -3.8M618.7 288.6l2.2 -3.1M632.6 289.1l-1.5 -2.7M632.6 289.1l0.3 -3.1M621.6 290.1l0.1 -3.7M621.6 290.1l2.2 -3M628.9 289.8l-2.4 -3M628.9 289.8l-0.3 -3.8M625.2 290l0.2 -3.5M625.2 290l2.1 -2.8M611.1 297.9l-0.4 -3.6M611.1 297.9l1.7 -3.2M640 297.5l-1.2 -3M640 297.5l0.7 -3.2M615.4 296.2l-0.6 -3.7M615.4 296.2l1.5 -3.4M635.1 296l-1.7 -3.1M635.1 296l0.3 -3.5M620.8 295.6l-1.7 -2.8M620.8 295.6l0.1 -3.3M630.7 295.6l-1.9 -2.8M630.7 295.6l-0 -3.4M625.3 296.4l-1.9 -3.1M625.3 296.4l0.2 -3.6M613.5 299.4l-0.2 -3.1M613.5 299.4l1.6 -2.7M637.6 299.7l-0.9 -3.6M637.6 299.7l1.3 -3.5M616.6 303.6l0.3 -3.9M616.6 303.6l2.4 -3.1M633.9 303.2l-1.4 -3.3M633.9 303.2l0.7 -3.6M621 305.2l-0.5 -3.3M621 305.2l1.4 -3M629.9 305.1l-2.1 -2.7M629.9 305.1l-0.2 -3.4M625.5 305.9l-0.4 -3.2M625.5 305.9l1.5 -2.9" fill="none" stroke="#2297E6" stroke-width="0.58" stroke-linecap="round" opacity="0.95"/>
</g>
</svg>
</body></html>
